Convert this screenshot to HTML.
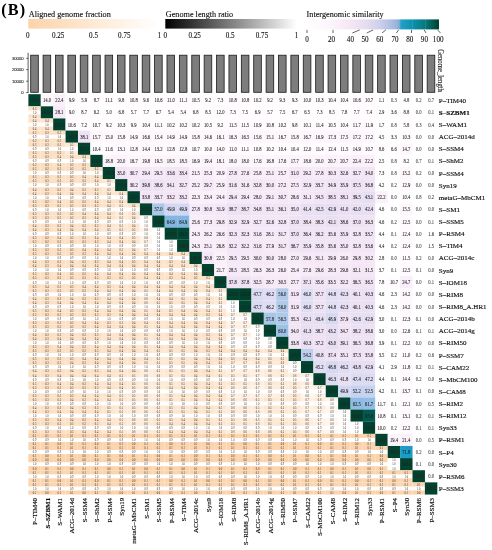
<!DOCTYPE html>
<html lang="en"><head><meta charset="utf-8"><title>VIRIDIC heatmap (B)</title>
<style>html,body{margin:0;padding:0;background:#fff}body{width:492px;height:550px;overflow:hidden}svg{display:block}text{font-family:"Liberation Serif","Times New Roman",serif;fill:#222}.u{font-size:5.3px;text-anchor:middle;stroke-width:0.08px}.l{font-size:3.25px;text-anchor:middle;fill:#333}.rl{font-size:6.95px;fill:#111;stroke:#111;stroke-width:0.15px}.ax{font-family:"Liberation Sans",Arial,sans-serif;font-size:4.2px;text-anchor:end;fill:#1a1a1a;stroke:#1a1a1a;stroke-width:0.08px}.lg{font-size:7.75px;fill:#111;stroke:#111;stroke-width:0.12px}.tk{font-size:7.4px;text-anchor:middle;fill:#111;stroke:#111;stroke-width:0.1px}</style></head><body>
<svg width="492" height="550" viewBox="0 0 492 550">
<defs>
<linearGradient id="gaf" x1="0" x2="1" y1="0" y2="0"><stop offset="0" stop-color="#fcd3aa"/><stop offset="0.97" stop-color="#ffffff"/><stop offset="1" stop-color="#ffffff"/></linearGradient>
<linearGradient id="glr" x1="0" x2="1" y1="0" y2="0"><stop offset="0" stop-color="#000000"/><stop offset="1" stop-color="#ffffff"/></linearGradient>
<linearGradient id="gsim" x1="0" x2="1" y1="0" y2="0"><stop offset="0.0000" stop-color="#ffffff"/><stop offset="0.2000" stop-color="#fcf3fb"/><stop offset="0.3500" stop-color="#f4e4f5"/><stop offset="0.4500" stop-color="#e6dcf0"/><stop offset="0.5500" stop-color="#cdd0ec"/><stop offset="0.6200" stop-color="#b4c3e4"/><stop offset="0.6900" stop-color="#96b0d8"/><stop offset="0.7150" stop-color="#24a0c8"/><stop offset="0.8000" stop-color="#0c91af"/><stop offset="0.9000" stop-color="#047878"/><stop offset="1.0000" stop-color="#003e2a"/></linearGradient>
</defs>
<rect width="492" height="550" fill="#ffffff"/>
<text x="1.3" y="14.5" style="font-size:16.2px;font-weight:bold;fill:#000;letter-spacing:1.1px">(B)</text>
<text class="lg" transform="translate(28.8,16.9) scale(1.06,1)">Aligned genome fraction</text>
<rect x="28.3" y="19.0" width="134" height="9.6" fill="url(#gaf)"/>
<text class="tk" transform="translate(27.9,37.5) scale(0.96,1)">0</text>
<text class="tk" transform="translate(58.2,37.5) scale(0.96,1)">0.25</text>
<text class="tk" transform="translate(93.5,37.5) scale(0.96,1)">0.5</text>
<text class="tk" transform="translate(124.3,37.5) scale(0.96,1)">0.75</text>
<text class="tk" transform="translate(159.2,37.5) scale(0.96,1)">1</text>
<text class="lg" transform="translate(165.8,16.9) scale(1.06,1)">Genome length ratio</text>
<rect x="165.3" y="19.0" width="131.5" height="9.6" fill="url(#glr)"/>
<text class="tk" transform="translate(165.4,37.5) scale(0.96,1)">0</text>
<text class="tk" transform="translate(194.6,37.5) scale(0.96,1)">0.25</text>
<text class="tk" transform="translate(230.2,37.5) scale(0.96,1)">0.5</text>
<text class="tk" transform="translate(262.0,37.5) scale(0.96,1)">0.75</text>
<text class="tk" transform="translate(296.6,37.5) scale(0.96,1)">1</text>
<text class="lg" transform="translate(306.6,17.1) scale(1.06,1)">Intergenomic similarity</text>
<rect x="306.5" y="19.4" width="132.5" height="10" fill="url(#gsim)"/>
<path d="M307.0 29.9 L307.0 33.0" fill="none" stroke="#222" stroke-width="0.7"/>
<text class="tk" transform="translate(307.0,41.9) scale(0.96,1)">0</text>
<path d="M333.0 29.9 L333.0 33.0" fill="none" stroke="#222" stroke-width="0.7"/>
<text class="tk" transform="translate(331.5,41.9) scale(0.96,1)">20</text>
<path d="M359.7 29.9 L352.3 33.0" fill="none" stroke="#222" stroke-width="0.7"/>
<text class="tk" transform="translate(350.4,41.9) scale(0.96,1)">40</text>
<path d="M373.1 29.9 L366.8 33.0" fill="none" stroke="#222" stroke-width="0.7"/>
<text class="tk" transform="translate(365.1,41.9) scale(0.96,1)">50</text>
<path d="M385.9 29.9 L382.0 33.0" fill="none" stroke="#222" stroke-width="0.7"/>
<text class="tk" transform="translate(379.8,41.9) scale(0.96,1)">60</text>
<path d="M398.6 29.9 L396.4 33.0" fill="none" stroke="#222" stroke-width="0.7"/>
<text class="tk" transform="translate(395.0,41.9) scale(0.96,1)">70</text>
<path d="M411.6 29.9 L411.4 33.0" fill="none" stroke="#222" stroke-width="0.7"/>
<text class="tk" transform="translate(409.7,41.9) scale(0.96,1)">80</text>
<path d="M424.2 29.9 L426.0 33.0" fill="none" stroke="#222" stroke-width="0.7"/>
<text class="tk" transform="translate(424.4,41.9) scale(0.96,1)">90</text>
<path d="M437.6 29.9 L440.5 33.0" fill="none" stroke="#222" stroke-width="0.7"/>
<text class="tk" transform="translate(438.2,41.9) scale(0.96,1)">100</text>
<rect x="399.05" y="19.4" width="0.4" height="10" fill="#ffffff" opacity="0.25"/>
<rect x="412.30" y="19.4" width="0.4" height="10" fill="#ffffff" opacity="0.25"/>
<rect x="425.55" y="19.4" width="0.4" height="10" fill="#ffffff" opacity="0.25"/>
<g>
<path d="M28.1 52.8 V93.0" stroke="#333" stroke-width="0.8" fill="none"/>
<path d="M26.2 58.3 H28.1" stroke="#222" stroke-width="0.7"/>
<text class="ax" x="23.6" y="59.8">30000</text>
<path d="M26.2 69.6 H28.1" stroke="#222" stroke-width="0.7"/>
<text class="ax" x="23.6" y="71.1">20000</text>
<path d="M26.2 81.2 H28.1" stroke="#222" stroke-width="0.7"/>
<text class="ax" x="23.6" y="82.7">10000</text>
<path d="M26.2 92.6 H28.1" stroke="#222" stroke-width="0.7"/>
<text class="ax" x="23.6" y="94.1">0</text>
<rect x="30.70" y="55.2" width="7.6" height="37.1" fill="#7d7d7d" stroke="#1a1a1a" stroke-width="0.8"/>
<rect x="43.09" y="55.2" width="7.6" height="37.1" fill="#7d7d7d" stroke="#1a1a1a" stroke-width="0.8"/>
<rect x="55.48" y="55.2" width="7.6" height="37.1" fill="#7d7d7d" stroke="#1a1a1a" stroke-width="0.8"/>
<rect x="67.86" y="55.2" width="7.6" height="37.1" fill="#7d7d7d" stroke="#1a1a1a" stroke-width="0.8"/>
<rect x="80.25" y="55.2" width="7.6" height="37.1" fill="#7d7d7d" stroke="#1a1a1a" stroke-width="0.8"/>
<rect x="92.65" y="55.2" width="7.6" height="37.1" fill="#7d7d7d" stroke="#1a1a1a" stroke-width="0.8"/>
<rect x="105.03" y="55.2" width="7.6" height="37.1" fill="#7d7d7d" stroke="#1a1a1a" stroke-width="0.8"/>
<rect x="117.43" y="55.2" width="7.6" height="37.1" fill="#7d7d7d" stroke="#1a1a1a" stroke-width="0.8"/>
<rect x="129.81" y="55.2" width="7.6" height="37.1" fill="#7d7d7d" stroke="#1a1a1a" stroke-width="0.8"/>
<rect x="142.21" y="55.2" width="7.6" height="37.1" fill="#7d7d7d" stroke="#1a1a1a" stroke-width="0.8"/>
<rect x="154.59" y="55.2" width="7.6" height="37.1" fill="#7d7d7d" stroke="#1a1a1a" stroke-width="0.8"/>
<rect x="166.99" y="55.2" width="7.6" height="37.1" fill="#7d7d7d" stroke="#1a1a1a" stroke-width="0.8"/>
<rect x="179.38" y="55.2" width="7.6" height="37.1" fill="#7d7d7d" stroke="#1a1a1a" stroke-width="0.8"/>
<rect x="191.77" y="55.2" width="7.6" height="37.1" fill="#7d7d7d" stroke="#1a1a1a" stroke-width="0.8"/>
<rect x="204.16" y="55.2" width="7.6" height="37.1" fill="#7d7d7d" stroke="#1a1a1a" stroke-width="0.8"/>
<rect x="216.55" y="55.2" width="7.6" height="37.1" fill="#7d7d7d" stroke="#1a1a1a" stroke-width="0.8"/>
<rect x="228.94" y="55.2" width="7.6" height="37.1" fill="#7d7d7d" stroke="#1a1a1a" stroke-width="0.8"/>
<rect x="241.33" y="55.2" width="7.6" height="37.1" fill="#7d7d7d" stroke="#1a1a1a" stroke-width="0.8"/>
<rect x="253.72" y="55.2" width="7.6" height="37.1" fill="#7d7d7d" stroke="#1a1a1a" stroke-width="0.8"/>
<rect x="266.11" y="55.2" width="7.6" height="37.1" fill="#7d7d7d" stroke="#1a1a1a" stroke-width="0.8"/>
<rect x="278.50" y="55.2" width="7.6" height="37.1" fill="#7d7d7d" stroke="#1a1a1a" stroke-width="0.8"/>
<rect x="290.88" y="55.2" width="7.6" height="37.1" fill="#7d7d7d" stroke="#1a1a1a" stroke-width="0.8"/>
<rect x="303.28" y="55.2" width="7.6" height="37.1" fill="#7d7d7d" stroke="#1a1a1a" stroke-width="0.8"/>
<rect x="315.67" y="55.2" width="7.6" height="37.1" fill="#7d7d7d" stroke="#1a1a1a" stroke-width="0.8"/>
<rect x="328.06" y="55.2" width="7.6" height="37.1" fill="#7d7d7d" stroke="#1a1a1a" stroke-width="0.8"/>
<rect x="340.44" y="55.2" width="7.6" height="37.1" fill="#7d7d7d" stroke="#1a1a1a" stroke-width="0.8"/>
<rect x="352.84" y="55.2" width="7.6" height="37.1" fill="#7d7d7d" stroke="#1a1a1a" stroke-width="0.8"/>
<rect x="365.23" y="55.2" width="7.6" height="37.1" fill="#7d7d7d" stroke="#1a1a1a" stroke-width="0.8"/>
<rect x="377.62" y="55.2" width="7.6" height="37.1" fill="#7d7d7d" stroke="#1a1a1a" stroke-width="0.8"/>
<rect x="390.00" y="55.2" width="7.6" height="37.1" fill="#7d7d7d" stroke="#1a1a1a" stroke-width="0.8"/>
<rect x="402.40" y="55.2" width="7.6" height="37.1" fill="#7d7d7d" stroke="#1a1a1a" stroke-width="0.8"/>
<rect x="414.79" y="55.2" width="7.6" height="37.1" fill="#7d7d7d" stroke="#1a1a1a" stroke-width="0.8"/>
<rect x="427.18" y="55.2" width="7.6" height="37.1" fill="#7d7d7d" stroke="#1a1a1a" stroke-width="0.8"/>
</g>
<text transform="translate(438.3,49.2) scale(1.1,1) rotate(90)" style="font-size:6.7px;stroke:#222;stroke-width:0.1px">Genome_length</text>
<g shape-rendering="auto">
<rect x="28.40" y="94.20" width="12.44" height="12.18" fill="#00432f"/>
<rect x="40.79" y="94.20" width="12.44" height="12.18" fill="#fef8fd"/>
<rect x="53.18" y="94.20" width="12.44" height="12.18" fill="#fbf0fa"/>
<rect x="65.57" y="94.20" width="12.44" height="12.18" fill="#fffcfe"/>
<rect x="77.96" y="94.20" width="12.44" height="12.18" fill="#fffdfe"/>
<rect x="90.35" y="94.20" width="12.44" height="12.18" fill="#fffcfe"/>
<rect x="102.74" y="94.20" width="12.44" height="12.18" fill="#fffbfe"/>
<rect x="115.13" y="94.20" width="12.44" height="12.18" fill="#fffcfe"/>
<rect x="127.52" y="94.20" width="12.44" height="12.18" fill="#fffbfe"/>
<rect x="139.91" y="94.20" width="12.44" height="12.18" fill="#fffcfe"/>
<rect x="152.30" y="94.20" width="12.44" height="12.18" fill="#fffbfe"/>
<rect x="164.69" y="94.20" width="12.44" height="12.18" fill="#fffbfe"/>
<rect x="177.08" y="94.20" width="12.44" height="12.18" fill="#fffbfe"/>
<rect x="189.47" y="94.20" width="12.44" height="12.18" fill="#fffcfe"/>
<rect x="201.86" y="94.20" width="12.44" height="12.18" fill="#fffcfe"/>
<rect x="214.25" y="94.20" width="12.44" height="12.18" fill="#fffdfe"/>
<rect x="226.64" y="94.20" width="12.44" height="12.18" fill="#fffbfe"/>
<rect x="239.03" y="94.20" width="12.44" height="12.18" fill="#fffbfe"/>
<rect x="251.42" y="94.20" width="12.44" height="12.18" fill="#fffcfe"/>
<rect x="263.81" y="94.20" width="12.44" height="12.18" fill="#fffcfe"/>
<rect x="276.20" y="94.20" width="12.44" height="12.18" fill="#fffcfe"/>
<rect x="288.59" y="94.20" width="12.44" height="12.18" fill="#fffcfe"/>
<rect x="300.98" y="94.20" width="12.44" height="12.18" fill="#fffcfe"/>
<rect x="313.37" y="94.20" width="12.44" height="12.18" fill="#fffcfe"/>
<rect x="325.76" y="94.20" width="12.44" height="12.18" fill="#fffcfe"/>
<rect x="338.15" y="94.20" width="12.44" height="12.18" fill="#fffcfe"/>
<rect x="350.54" y="94.20" width="12.44" height="12.18" fill="#fffbfe"/>
<rect x="362.93" y="94.20" width="12.44" height="12.18" fill="#fffbfe"/>
<rect x="400.10" y="94.20" width="12.44" height="12.18" fill="#fffeff"/>
<rect x="28.35" y="106.33" width="12.29" height="4.09" fill="#fce1c6"/>
<rect x="28.35" y="114.42" width="12.29" height="4.09" fill="#fce2c8"/>
<rect x="40.79" y="106.33" width="12.44" height="12.18" fill="#00432f"/>
<rect x="53.18" y="106.33" width="12.44" height="12.18" fill="#f7eaf8"/>
<rect x="65.57" y="106.33" width="12.44" height="12.18" fill="#fffcfe"/>
<rect x="77.96" y="106.33" width="12.44" height="12.18" fill="#fffcfe"/>
<rect x="90.35" y="106.33" width="12.44" height="12.18" fill="#fffdfe"/>
<rect x="102.74" y="106.33" width="12.44" height="12.18" fill="#fffefe"/>
<rect x="115.13" y="106.33" width="12.44" height="12.18" fill="#fffdfe"/>
<rect x="127.52" y="106.33" width="12.44" height="12.18" fill="#fffdfe"/>
<rect x="139.91" y="106.33" width="12.44" height="12.18" fill="#fffdfe"/>
<rect x="152.30" y="106.33" width="12.44" height="12.18" fill="#fffdfe"/>
<rect x="164.69" y="106.33" width="12.44" height="12.18" fill="#fffdfe"/>
<rect x="177.08" y="106.33" width="12.44" height="12.18" fill="#fffdfe"/>
<rect x="189.47" y="106.33" width="12.44" height="12.18" fill="#fffdfe"/>
<rect x="201.86" y="106.33" width="12.44" height="12.18" fill="#fffcfe"/>
<rect x="214.25" y="106.33" width="12.44" height="12.18" fill="#fefafd"/>
<rect x="226.64" y="106.33" width="12.44" height="12.18" fill="#fffdfe"/>
<rect x="239.03" y="106.33" width="12.44" height="12.18" fill="#fffdfe"/>
<rect x="251.42" y="106.33" width="12.44" height="12.18" fill="#fffdfe"/>
<rect x="263.81" y="106.33" width="12.44" height="12.18" fill="#fffdfe"/>
<rect x="276.20" y="106.33" width="12.44" height="12.18" fill="#fffdfe"/>
<rect x="288.59" y="106.33" width="12.44" height="12.18" fill="#fffdfe"/>
<rect x="300.98" y="106.33" width="12.44" height="12.18" fill="#fffdfe"/>
<rect x="313.37" y="106.33" width="12.44" height="12.18" fill="#fffdfe"/>
<rect x="325.76" y="106.33" width="12.44" height="12.18" fill="#fffcfe"/>
<rect x="338.15" y="106.33" width="12.44" height="12.18" fill="#fffdfe"/>
<rect x="350.54" y="106.33" width="12.44" height="12.18" fill="#fffdfe"/>
<rect x="362.93" y="106.33" width="12.44" height="12.18" fill="#fffdfe"/>
<rect x="375.32" y="106.33" width="12.44" height="12.18" fill="#fffeff"/>
<rect x="387.71" y="106.33" width="12.44" height="12.18" fill="#fffeff"/>
<rect x="400.10" y="106.33" width="12.44" height="12.18" fill="#fffcfe"/>
<rect x="28.35" y="118.46" width="12.29" height="4.09" fill="#fde3cb"/>
<rect x="28.35" y="126.55" width="12.29" height="4.09" fill="#fce2c8"/>
<rect x="40.74" y="118.46" width="12.29" height="4.09" fill="#fde4cc"/>
<rect x="40.74" y="126.55" width="12.29" height="4.09" fill="#fce1c7"/>
<rect x="53.18" y="118.46" width="12.44" height="12.18" fill="#00432f"/>
<rect x="65.57" y="118.46" width="12.44" height="12.18" fill="#fffbfe"/>
<rect x="77.96" y="118.46" width="12.44" height="12.18" fill="#fffdfe"/>
<rect x="90.35" y="118.46" width="12.44" height="12.18" fill="#fffbfe"/>
<rect x="102.74" y="118.46" width="12.44" height="12.18" fill="#fffcfe"/>
<rect x="115.13" y="118.46" width="12.44" height="12.18" fill="#fffcfe"/>
<rect x="127.52" y="118.46" width="12.44" height="12.18" fill="#fffcfe"/>
<rect x="139.91" y="118.46" width="12.44" height="12.18" fill="#fffcfe"/>
<rect x="152.30" y="118.46" width="12.44" height="12.18" fill="#fffbfe"/>
<rect x="164.69" y="118.46" width="12.44" height="12.18" fill="#fffcfe"/>
<rect x="177.08" y="118.46" width="12.44" height="12.18" fill="#fffcfe"/>
<rect x="189.47" y="118.46" width="12.44" height="12.18" fill="#fffcfe"/>
<rect x="201.86" y="118.46" width="12.44" height="12.18" fill="#fffcfe"/>
<rect x="214.25" y="118.46" width="12.44" height="12.18" fill="#fffcfe"/>
<rect x="226.64" y="118.46" width="12.44" height="12.18" fill="#fffbfe"/>
<rect x="239.03" y="118.46" width="12.44" height="12.18" fill="#fffbfe"/>
<rect x="251.42" y="118.46" width="12.44" height="12.18" fill="#fffbfe"/>
<rect x="263.81" y="118.46" width="12.44" height="12.18" fill="#fffbfe"/>
<rect x="276.20" y="118.46" width="12.44" height="12.18" fill="#fffcfe"/>
<rect x="288.59" y="118.46" width="12.44" height="12.18" fill="#fffcfe"/>
<rect x="300.98" y="118.46" width="12.44" height="12.18" fill="#fffcfe"/>
<rect x="313.37" y="118.46" width="12.44" height="12.18" fill="#fffbfe"/>
<rect x="325.76" y="118.46" width="12.44" height="12.18" fill="#fffcfe"/>
<rect x="338.15" y="118.46" width="12.44" height="12.18" fill="#fffcfe"/>
<rect x="350.54" y="118.46" width="12.44" height="12.18" fill="#fefafd"/>
<rect x="362.93" y="118.46" width="12.44" height="12.18" fill="#fefafd"/>
<rect x="375.32" y="118.46" width="12.44" height="12.18" fill="#fffeff"/>
<rect x="400.10" y="118.46" width="12.44" height="12.18" fill="#fffdfe"/>
<rect x="28.35" y="130.59" width="12.29" height="4.09" fill="#fcdfc2"/>
<rect x="28.35" y="138.68" width="12.29" height="4.09" fill="#fcdfc2"/>
<rect x="40.74" y="130.59" width="12.29" height="4.09" fill="#fcdec1"/>
<rect x="40.74" y="138.68" width="12.29" height="4.09" fill="#fce1c6"/>
<rect x="53.13" y="130.59" width="12.29" height="4.09" fill="#fcdfc2"/>
<rect x="53.13" y="138.68" width="12.29" height="4.09" fill="#fce0c5"/>
<rect x="65.57" y="130.59" width="12.44" height="12.18" fill="#00432f"/>
<rect x="77.96" y="130.59" width="12.44" height="12.18" fill="#eee2f4"/>
<rect x="90.35" y="130.59" width="12.44" height="12.18" fill="#fdf7fc"/>
<rect x="102.74" y="130.59" width="12.44" height="12.18" fill="#fef8fc"/>
<rect x="115.13" y="130.59" width="12.44" height="12.18" fill="#fdf7fc"/>
<rect x="127.52" y="130.59" width="12.44" height="12.18" fill="#fef8fd"/>
<rect x="139.91" y="130.59" width="12.44" height="12.18" fill="#fdf6fc"/>
<rect x="152.30" y="130.59" width="12.44" height="12.18" fill="#fdf7fc"/>
<rect x="164.69" y="130.59" width="12.44" height="12.18" fill="#fef8fd"/>
<rect x="177.08" y="130.59" width="12.44" height="12.18" fill="#fef8fd"/>
<rect x="189.47" y="130.59" width="12.44" height="12.18" fill="#fdf7fc"/>
<rect x="201.86" y="130.59" width="12.44" height="12.18" fill="#fef8fd"/>
<rect x="214.25" y="130.59" width="12.44" height="12.18" fill="#fdf7fc"/>
<rect x="226.64" y="130.59" width="12.44" height="12.18" fill="#fdf6fc"/>
<rect x="239.03" y="130.59" width="12.44" height="12.18" fill="#fdf6fc"/>
<rect x="251.42" y="130.59" width="12.44" height="12.18" fill="#fdf7fc"/>
<rect x="263.81" y="130.59" width="12.44" height="12.18" fill="#fdf7fc"/>
<rect x="276.20" y="130.59" width="12.44" height="12.18" fill="#fdf6fc"/>
<rect x="288.59" y="130.59" width="12.44" height="12.18" fill="#fdf7fc"/>
<rect x="300.98" y="130.59" width="12.44" height="12.18" fill="#fdf6fc"/>
<rect x="313.37" y="130.59" width="12.44" height="12.18" fill="#fdf6fc"/>
<rect x="325.76" y="130.59" width="12.44" height="12.18" fill="#fdf5fc"/>
<rect x="338.15" y="130.59" width="12.44" height="12.18" fill="#fdf5fc"/>
<rect x="350.54" y="130.59" width="12.44" height="12.18" fill="#fdf6fc"/>
<rect x="362.93" y="130.59" width="12.44" height="12.18" fill="#fdf6fc"/>
<rect x="375.32" y="130.59" width="12.44" height="12.18" fill="#fffeff"/>
<rect x="387.71" y="130.59" width="12.44" height="12.18" fill="#fffeff"/>
<rect x="400.10" y="130.59" width="12.44" height="12.18" fill="#fffcfe"/>
<rect x="28.35" y="142.72" width="12.29" height="4.09" fill="#fcdec0"/>
<rect x="28.35" y="150.81" width="12.29" height="4.09" fill="#fcdfc3"/>
<rect x="40.74" y="142.72" width="12.29" height="4.09" fill="#fcdfc3"/>
<rect x="40.74" y="150.81" width="12.29" height="4.09" fill="#fcdfc3"/>
<rect x="53.13" y="142.72" width="12.29" height="4.09" fill="#fcdfc2"/>
<rect x="53.13" y="150.81" width="12.29" height="4.09" fill="#fcddbf"/>
<rect x="65.52" y="142.72" width="12.29" height="4.09" fill="#fde9d5"/>
<rect x="65.52" y="150.81" width="12.29" height="4.09" fill="#fdead8"/>
<rect x="77.96" y="142.72" width="12.44" height="12.18" fill="#00432f"/>
<rect x="90.35" y="142.72" width="12.44" height="12.18" fill="#fffcfe"/>
<rect x="102.74" y="142.72" width="12.44" height="12.18" fill="#fffbfe"/>
<rect x="115.13" y="142.72" width="12.44" height="12.18" fill="#fef9fd"/>
<rect x="127.52" y="142.72" width="12.44" height="12.18" fill="#fef9fd"/>
<rect x="139.91" y="142.72" width="12.44" height="12.18" fill="#fef8fd"/>
<rect x="152.30" y="142.72" width="12.44" height="12.18" fill="#fef9fd"/>
<rect x="164.69" y="142.72" width="12.44" height="12.18" fill="#fef9fd"/>
<rect x="177.08" y="142.72" width="12.44" height="12.18" fill="#fef9fd"/>
<rect x="189.47" y="142.72" width="12.44" height="12.18" fill="#fffbfe"/>
<rect x="201.86" y="142.72" width="12.44" height="12.18" fill="#fffcfe"/>
<rect x="214.25" y="142.72" width="12.44" height="12.18" fill="#fef8fd"/>
<rect x="226.64" y="142.72" width="12.44" height="12.18" fill="#fffbfe"/>
<rect x="239.03" y="142.72" width="12.44" height="12.18" fill="#fffbfe"/>
<rect x="251.42" y="142.72" width="12.44" height="12.18" fill="#fffbfe"/>
<rect x="263.81" y="142.72" width="12.44" height="12.18" fill="#fffcfe"/>
<rect x="276.20" y="142.72" width="12.44" height="12.18" fill="#fffcfe"/>
<rect x="288.59" y="142.72" width="12.44" height="12.18" fill="#fffcfe"/>
<rect x="300.98" y="142.72" width="12.44" height="12.18" fill="#fefafd"/>
<rect x="313.37" y="142.72" width="12.44" height="12.18" fill="#fffbfe"/>
<rect x="325.76" y="142.72" width="12.44" height="12.18" fill="#fefafd"/>
<rect x="338.15" y="142.72" width="12.44" height="12.18" fill="#fffbfe"/>
<rect x="350.54" y="142.72" width="12.44" height="12.18" fill="#fef8fd"/>
<rect x="362.93" y="142.72" width="12.44" height="12.18" fill="#fffbfe"/>
<rect x="375.32" y="142.72" width="12.44" height="12.18" fill="#fffcfe"/>
<rect x="387.71" y="142.72" width="12.44" height="12.18" fill="#fffdfe"/>
<rect x="400.10" y="142.72" width="12.44" height="12.18" fill="#fef8fd"/>
<rect x="28.35" y="154.85" width="12.29" height="4.09" fill="#fce1c6"/>
<rect x="28.35" y="162.94" width="12.29" height="4.09" fill="#fcdfc3"/>
<rect x="40.74" y="154.85" width="12.29" height="4.09" fill="#fcdfc3"/>
<rect x="40.74" y="162.94" width="12.29" height="4.09" fill="#fcddbe"/>
<rect x="53.13" y="154.85" width="12.29" height="4.09" fill="#fce2c8"/>
<rect x="53.13" y="162.94" width="12.29" height="4.09" fill="#fce2c8"/>
<rect x="65.52" y="154.85" width="12.29" height="4.09" fill="#fde2c9"/>
<rect x="65.52" y="162.94" width="12.29" height="4.09" fill="#fce1c6"/>
<rect x="77.91" y="154.85" width="12.29" height="4.09" fill="#fce2c7"/>
<rect x="77.91" y="162.94" width="12.29" height="4.09" fill="#fcdfc2"/>
<rect x="90.35" y="154.85" width="12.44" height="12.18" fill="#00432f"/>
<rect x="102.74" y="154.85" width="12.44" height="12.18" fill="#fcf4fb"/>
<rect x="115.13" y="154.85" width="12.44" height="12.18" fill="#fcf3fb"/>
<rect x="127.52" y="154.85" width="12.44" height="12.18" fill="#fdf6fc"/>
<rect x="139.91" y="154.85" width="12.44" height="12.18" fill="#fcf3fb"/>
<rect x="152.30" y="154.85" width="12.44" height="12.18" fill="#fcf3fb"/>
<rect x="164.69" y="154.85" width="12.44" height="12.18" fill="#fcf4fb"/>
<rect x="177.08" y="154.85" width="12.44" height="12.18" fill="#fcf4fb"/>
<rect x="189.47" y="154.85" width="12.44" height="12.18" fill="#fdf6fc"/>
<rect x="201.86" y="154.85" width="12.44" height="12.18" fill="#fcf4fb"/>
<rect x="214.25" y="154.85" width="12.44" height="12.18" fill="#fdf5fc"/>
<rect x="226.64" y="154.85" width="12.44" height="12.18" fill="#fdf5fc"/>
<rect x="239.03" y="154.85" width="12.44" height="12.18" fill="#fdf5fc"/>
<rect x="251.42" y="154.85" width="12.44" height="12.18" fill="#fdf5fc"/>
<rect x="263.81" y="154.85" width="12.44" height="12.18" fill="#fdf6fc"/>
<rect x="276.20" y="154.85" width="12.44" height="12.18" fill="#fdf5fc"/>
<rect x="288.59" y="154.85" width="12.44" height="12.18" fill="#fdf5fc"/>
<rect x="300.98" y="154.85" width="12.44" height="12.18" fill="#fcf4fb"/>
<rect x="313.37" y="154.85" width="12.44" height="12.18" fill="#fcf3fb"/>
<rect x="325.76" y="154.85" width="12.44" height="12.18" fill="#fcf2fb"/>
<rect x="338.15" y="154.85" width="12.44" height="12.18" fill="#fcf2fb"/>
<rect x="350.54" y="154.85" width="12.44" height="12.18" fill="#fbf0fa"/>
<rect x="362.93" y="154.85" width="12.44" height="12.18" fill="#fbf1fa"/>
<rect x="375.32" y="154.85" width="12.44" height="12.18" fill="#fffeff"/>
<rect x="400.10" y="154.85" width="12.44" height="12.18" fill="#fffdfe"/>
<rect x="28.35" y="166.98" width="12.29" height="4.09" fill="#fcdfc2"/>
<rect x="28.35" y="175.07" width="12.29" height="4.09" fill="#fcdfc2"/>
<rect x="40.74" y="166.98" width="12.29" height="4.09" fill="#fcdcbd"/>
<rect x="40.74" y="175.07" width="12.29" height="4.09" fill="#fcdfc2"/>
<rect x="53.13" y="166.98" width="12.29" height="4.09" fill="#fcdec1"/>
<rect x="53.13" y="175.07" width="12.29" height="4.09" fill="#fce0c4"/>
<rect x="65.52" y="166.98" width="12.29" height="4.09" fill="#fcdfc3"/>
<rect x="65.52" y="175.07" width="12.29" height="4.09" fill="#fcdfc3"/>
<rect x="77.91" y="166.98" width="12.29" height="4.09" fill="#fcdfc3"/>
<rect x="77.91" y="175.07" width="12.29" height="4.09" fill="#fce2c8"/>
<rect x="90.30" y="166.98" width="12.29" height="4.09" fill="#fce0c4"/>
<rect x="90.30" y="175.07" width="12.29" height="4.09" fill="#fce1c7"/>
<rect x="102.74" y="166.98" width="12.44" height="12.18" fill="#00432f"/>
<rect x="115.13" y="166.98" width="12.44" height="12.18" fill="#f1e4f5"/>
<rect x="127.52" y="166.98" width="12.44" height="12.18" fill="#f5e7f7"/>
<rect x="139.91" y="166.98" width="12.44" height="12.18" fill="#f6e9f7"/>
<rect x="152.30" y="166.98" width="12.44" height="12.18" fill="#f6e9f7"/>
<rect x="164.69" y="166.98" width="12.44" height="12.18" fill="#f2e5f6"/>
<rect x="177.08" y="166.98" width="12.44" height="12.18" fill="#f3e5f6"/>
<rect x="189.47" y="166.98" width="12.44" height="12.18" fill="#fbf1fa"/>
<rect x="201.86" y="166.98" width="12.44" height="12.18" fill="#f9edf9"/>
<rect x="214.25" y="166.98" width="12.44" height="12.18" fill="#fbf2fb"/>
<rect x="226.64" y="166.98" width="12.44" height="12.18" fill="#f7eaf8"/>
<rect x="239.03" y="166.98" width="12.44" height="12.18" fill="#f7ebf8"/>
<rect x="251.42" y="166.98" width="12.44" height="12.18" fill="#f9edf9"/>
<rect x="263.81" y="166.98" width="12.44" height="12.18" fill="#f9edf9"/>
<rect x="276.20" y="166.98" width="12.44" height="12.18" fill="#f9edf9"/>
<rect x="288.59" y="166.98" width="12.44" height="12.18" fill="#f5e7f7"/>
<rect x="300.98" y="166.98" width="12.44" height="12.18" fill="#f6e9f7"/>
<rect x="313.37" y="166.98" width="12.44" height="12.18" fill="#f7eaf8"/>
<rect x="325.76" y="166.98" width="12.44" height="12.18" fill="#f6e8f7"/>
<rect x="338.15" y="166.98" width="12.44" height="12.18" fill="#f3e6f6"/>
<rect x="350.54" y="166.98" width="12.44" height="12.18" fill="#f3e6f6"/>
<rect x="362.93" y="166.98" width="12.44" height="12.18" fill="#f2e5f5"/>
<rect x="375.32" y="166.98" width="12.44" height="12.18" fill="#fffdfe"/>
<rect x="400.10" y="166.98" width="12.44" height="12.18" fill="#fdf7fc"/>
<rect x="28.35" y="179.11" width="12.29" height="4.09" fill="#fce0c5"/>
<rect x="28.35" y="187.20" width="12.29" height="4.09" fill="#fce1c7"/>
<rect x="40.74" y="179.11" width="12.29" height="4.09" fill="#fcdec1"/>
<rect x="40.74" y="187.20" width="12.29" height="4.09" fill="#fcdec1"/>
<rect x="53.13" y="179.11" width="12.29" height="4.09" fill="#fce0c5"/>
<rect x="53.13" y="187.20" width="12.29" height="4.09" fill="#fcdfc2"/>
<rect x="65.52" y="179.11" width="12.29" height="4.09" fill="#fce1c6"/>
<rect x="65.52" y="187.20" width="12.29" height="4.09" fill="#fde2c9"/>
<rect x="77.91" y="179.11" width="12.29" height="4.09" fill="#fce1c6"/>
<rect x="77.91" y="187.20" width="12.29" height="4.09" fill="#fce1c6"/>
<rect x="90.30" y="179.11" width="12.29" height="4.09" fill="#fce2c7"/>
<rect x="90.30" y="187.20" width="12.29" height="4.09" fill="#fce0c5"/>
<rect x="102.69" y="179.11" width="12.29" height="4.09" fill="#fde7d1"/>
<rect x="102.69" y="187.20" width="12.29" height="4.09" fill="#fde8d4"/>
<rect x="115.13" y="179.11" width="12.44" height="12.18" fill="#00432f"/>
<rect x="127.52" y="179.11" width="12.44" height="12.18" fill="#f6e8f7"/>
<rect x="139.91" y="179.11" width="12.44" height="12.18" fill="#ece0f3"/>
<rect x="152.30" y="179.11" width="12.44" height="12.18" fill="#ede1f4"/>
<rect x="164.69" y="179.11" width="12.44" height="12.18" fill="#f2e5f5"/>
<rect x="177.08" y="179.11" width="12.44" height="12.18" fill="#f3e6f6"/>
<rect x="189.47" y="179.11" width="12.44" height="12.18" fill="#f9edf9"/>
<rect x="201.86" y="179.11" width="12.44" height="12.18" fill="#f6e8f7"/>
<rect x="214.25" y="179.11" width="12.44" height="12.18" fill="#f8edf9"/>
<rect x="226.64" y="179.11" width="12.44" height="12.18" fill="#f4e7f6"/>
<rect x="239.03" y="179.11" width="12.44" height="12.18" fill="#f4e7f6"/>
<rect x="251.42" y="179.11" width="12.44" height="12.18" fill="#f3e6f6"/>
<rect x="263.81" y="179.11" width="12.44" height="12.18" fill="#f6e8f7"/>
<rect x="276.20" y="179.11" width="12.44" height="12.18" fill="#f8ebf8"/>
<rect x="288.59" y="179.11" width="12.44" height="12.18" fill="#f8ebf8"/>
<rect x="300.98" y="179.11" width="12.44" height="12.18" fill="#f3e6f6"/>
<rect x="313.37" y="179.11" width="12.44" height="12.18" fill="#f2e5f6"/>
<rect x="325.76" y="179.11" width="12.44" height="12.18" fill="#f1e4f5"/>
<rect x="338.15" y="179.11" width="12.44" height="12.18" fill="#f0e3f5"/>
<rect x="350.54" y="179.11" width="12.44" height="12.18" fill="#eee2f4"/>
<rect x="362.93" y="179.11" width="12.44" height="12.18" fill="#efe3f4"/>
<rect x="375.32" y="179.11" width="12.44" height="12.18" fill="#fffeff"/>
<rect x="400.10" y="179.11" width="12.44" height="12.18" fill="#fef9fd"/>
<rect x="28.35" y="191.24" width="12.29" height="4.09" fill="#fce2c8"/>
<rect x="28.35" y="199.33" width="12.29" height="4.09" fill="#fce0c5"/>
<rect x="40.74" y="191.24" width="12.29" height="4.09" fill="#fcdfc3"/>
<rect x="40.74" y="199.33" width="12.29" height="4.09" fill="#fcdcbe"/>
<rect x="53.13" y="191.24" width="12.29" height="4.09" fill="#fce2c7"/>
<rect x="53.13" y="199.33" width="12.29" height="4.09" fill="#fce2c7"/>
<rect x="65.52" y="191.24" width="12.29" height="4.09" fill="#fce2c9"/>
<rect x="65.52" y="199.33" width="12.29" height="4.09" fill="#fce1c6"/>
<rect x="77.91" y="191.24" width="12.29" height="4.09" fill="#fce2c8"/>
<rect x="77.91" y="199.33" width="12.29" height="4.09" fill="#fcdfc3"/>
<rect x="90.30" y="191.24" width="12.29" height="4.09" fill="#fde2c9"/>
<rect x="90.30" y="199.33" width="12.29" height="4.09" fill="#fde2c9"/>
<rect x="102.69" y="191.24" width="12.29" height="4.09" fill="#fde5ce"/>
<rect x="102.69" y="199.33" width="12.29" height="4.09" fill="#fde3cb"/>
<rect x="115.08" y="191.24" width="12.29" height="4.09" fill="#fde4cd"/>
<rect x="115.08" y="199.33" width="12.29" height="4.09" fill="#fce2c8"/>
<rect x="127.52" y="191.24" width="12.44" height="12.18" fill="#00432f"/>
<rect x="139.91" y="191.24" width="12.44" height="12.18" fill="#f2e5f5"/>
<rect x="152.30" y="191.24" width="12.44" height="12.18" fill="#f2e5f6"/>
<rect x="164.69" y="191.24" width="12.44" height="12.18" fill="#f3e5f6"/>
<rect x="177.08" y="191.24" width="12.44" height="12.18" fill="#f3e5f6"/>
<rect x="189.47" y="191.24" width="12.44" height="12.18" fill="#fbf0fa"/>
<rect x="201.86" y="191.24" width="12.44" height="12.18" fill="#faeffa"/>
<rect x="214.25" y="191.24" width="12.44" height="12.18" fill="#f9eef9"/>
<rect x="226.64" y="191.24" width="12.44" height="12.18" fill="#f6e9f7"/>
<rect x="239.03" y="191.24" width="12.44" height="12.18" fill="#f6e9f7"/>
<rect x="251.42" y="191.24" width="12.44" height="12.18" fill="#f7eaf8"/>
<rect x="263.81" y="191.24" width="12.44" height="12.18" fill="#f7e9f7"/>
<rect x="276.20" y="191.24" width="12.44" height="12.18" fill="#f5e7f7"/>
<rect x="288.59" y="191.24" width="12.44" height="12.18" fill="#f7eaf8"/>
<rect x="300.98" y="191.24" width="12.44" height="12.18" fill="#f5e7f7"/>
<rect x="313.37" y="191.24" width="12.44" height="12.18" fill="#f2e4f5"/>
<rect x="325.76" y="191.24" width="12.44" height="12.18" fill="#eee1f4"/>
<rect x="338.15" y="191.24" width="12.44" height="12.18" fill="#eee2f4"/>
<rect x="350.54" y="191.24" width="12.44" height="12.18" fill="#ece0f3"/>
<rect x="362.93" y="191.24" width="12.44" height="12.18" fill="#e6dff3"/>
<rect x="375.32" y="191.24" width="12.44" height="12.18" fill="#fbf1fa"/>
<rect x="400.10" y="191.24" width="12.44" height="12.18" fill="#fffcfe"/>
<rect x="28.35" y="203.37" width="12.29" height="4.09" fill="#fcdfc2"/>
<rect x="28.35" y="211.46" width="12.29" height="4.09" fill="#fcdfc2"/>
<rect x="40.74" y="203.37" width="12.29" height="4.09" fill="#fcdec0"/>
<rect x="40.74" y="211.46" width="12.29" height="4.09" fill="#fce0c5"/>
<rect x="53.13" y="203.37" width="12.29" height="4.09" fill="#fcdfc2"/>
<rect x="53.13" y="211.46" width="12.29" height="4.09" fill="#fce0c5"/>
<rect x="65.52" y="203.37" width="12.29" height="4.09" fill="#fce0c4"/>
<rect x="65.52" y="211.46" width="12.29" height="4.09" fill="#fce0c4"/>
<rect x="77.91" y="203.37" width="12.29" height="4.09" fill="#fcdfc3"/>
<rect x="77.91" y="211.46" width="12.29" height="4.09" fill="#fce2c8"/>
<rect x="90.30" y="203.37" width="12.29" height="4.09" fill="#fce0c5"/>
<rect x="90.30" y="211.46" width="12.29" height="4.09" fill="#fce2c7"/>
<rect x="102.69" y="203.37" width="12.29" height="4.09" fill="#fce1c7"/>
<rect x="102.69" y="211.46" width="12.29" height="4.09" fill="#fce1c7"/>
<rect x="115.08" y="203.37" width="12.29" height="4.09" fill="#fde9d5"/>
<rect x="115.08" y="211.46" width="12.29" height="4.09" fill="#fdecda"/>
<rect x="127.47" y="203.37" width="12.29" height="4.09" fill="#fde4cd"/>
<rect x="127.47" y="211.46" width="12.29" height="4.09" fill="#fde6cf"/>
<rect x="139.91" y="203.37" width="12.44" height="12.18" fill="#00432f"/>
<rect x="152.30" y="203.37" width="12.44" height="12.18" fill="#acc8e9"/>
<rect x="164.69" y="203.37" width="12.44" height="12.18" fill="#d4d7f1"/>
<rect x="177.08" y="203.37" width="12.44" height="12.18" fill="#d4d7f1"/>
<rect x="189.47" y="203.37" width="12.44" height="12.18" fill="#f7eaf8"/>
<rect x="201.86" y="203.37" width="12.44" height="12.18" fill="#f5e7f7"/>
<rect x="214.25" y="203.37" width="12.44" height="12.18" fill="#f4e6f6"/>
<rect x="226.64" y="203.37" width="12.44" height="12.18" fill="#ede1f4"/>
<rect x="239.03" y="203.37" width="12.44" height="12.18" fill="#ede1f4"/>
<rect x="251.42" y="203.37" width="12.44" height="12.18" fill="#f1e4f5"/>
<rect x="263.81" y="203.37" width="12.44" height="12.18" fill="#f1e4f5"/>
<rect x="276.20" y="203.37" width="12.44" height="12.18" fill="#f0e3f5"/>
<rect x="288.59" y="203.37" width="12.44" height="12.18" fill="#f1e4f5"/>
<rect x="300.98" y="203.37" width="12.44" height="12.18" fill="#e9dff3"/>
<rect x="313.37" y="203.37" width="12.44" height="12.18" fill="#e7dff3"/>
<rect x="325.76" y="203.37" width="12.44" height="12.18" fill="#e6dff3"/>
<rect x="338.15" y="203.37" width="12.44" height="12.18" fill="#eae0f3"/>
<rect x="350.54" y="203.37" width="12.44" height="12.18" fill="#e8dff3"/>
<rect x="362.93" y="203.37" width="12.44" height="12.18" fill="#e7dff3"/>
<rect x="375.32" y="203.37" width="12.44" height="12.18" fill="#fffeff"/>
<rect x="400.10" y="203.37" width="12.44" height="12.18" fill="#fdf7fc"/>
<rect x="28.35" y="215.50" width="12.29" height="4.09" fill="#fce0c5"/>
<rect x="28.35" y="223.59" width="12.29" height="4.09" fill="#fce2c7"/>
<rect x="40.74" y="215.50" width="12.29" height="4.09" fill="#fcdec1"/>
<rect x="40.74" y="223.59" width="12.29" height="4.09" fill="#fcdec1"/>
<rect x="53.13" y="215.50" width="12.29" height="4.09" fill="#fce0c5"/>
<rect x="53.13" y="223.59" width="12.29" height="4.09" fill="#fcdfc2"/>
<rect x="65.52" y="215.50" width="12.29" height="4.09" fill="#fce1c6"/>
<rect x="65.52" y="223.59" width="12.29" height="4.09" fill="#fde2c9"/>
<rect x="77.91" y="215.50" width="12.29" height="4.09" fill="#fce1c6"/>
<rect x="77.91" y="223.59" width="12.29" height="4.09" fill="#fce1c6"/>
<rect x="90.30" y="215.50" width="12.29" height="4.09" fill="#fce1c7"/>
<rect x="90.30" y="223.59" width="12.29" height="4.09" fill="#fce0c5"/>
<rect x="102.69" y="215.50" width="12.29" height="4.09" fill="#fde3ca"/>
<rect x="102.69" y="223.59" width="12.29" height="4.09" fill="#fde4cc"/>
<rect x="115.08" y="215.50" width="12.29" height="4.09" fill="#fde9d6"/>
<rect x="115.08" y="223.59" width="12.29" height="4.09" fill="#fde9d6"/>
<rect x="127.47" y="215.50" width="12.29" height="4.09" fill="#fde6cf"/>
<rect x="127.47" y="223.59" width="12.29" height="4.09" fill="#fde4cc"/>
<rect x="139.86" y="215.50" width="12.29" height="4.09" fill="#fffcf9"/>
<rect x="139.86" y="223.59" width="12.29" height="4.09" fill="#fffdfc"/>
<rect x="152.30" y="215.50" width="12.44" height="12.18" fill="#00432f"/>
<rect x="164.69" y="215.50" width="12.44" height="12.18" fill="#81b6e1"/>
<rect x="177.08" y="215.50" width="12.44" height="12.18" fill="#81b6e1"/>
<rect x="189.47" y="215.50" width="12.44" height="12.18" fill="#f9edf9"/>
<rect x="201.86" y="215.50" width="12.44" height="12.18" fill="#f8ebf8"/>
<rect x="214.25" y="215.50" width="12.44" height="12.18" fill="#f6e8f7"/>
<rect x="226.64" y="215.50" width="12.44" height="12.18" fill="#f3e6f6"/>
<rect x="239.03" y="215.50" width="12.44" height="12.18" fill="#f3e6f6"/>
<rect x="251.42" y="215.50" width="12.44" height="12.18" fill="#f3e6f6"/>
<rect x="263.81" y="215.50" width="12.44" height="12.18" fill="#f3e6f6"/>
<rect x="276.20" y="215.50" width="12.44" height="12.18" fill="#f3e6f6"/>
<rect x="288.59" y="215.50" width="12.44" height="12.18" fill="#efe2f4"/>
<rect x="300.98" y="215.50" width="12.44" height="12.18" fill="#eee1f4"/>
<rect x="313.37" y="215.50" width="12.44" height="12.18" fill="#eee1f4"/>
<rect x="325.76" y="215.50" width="12.44" height="12.18" fill="#e8dff3"/>
<rect x="338.15" y="215.50" width="12.44" height="12.18" fill="#ede1f4"/>
<rect x="350.54" y="215.50" width="12.44" height="12.18" fill="#efe2f4"/>
<rect x="362.93" y="215.50" width="12.44" height="12.18" fill="#f0e3f4"/>
<rect x="375.32" y="215.50" width="12.44" height="12.18" fill="#fffeff"/>
<rect x="400.10" y="215.50" width="12.44" height="12.18" fill="#fefafd"/>
<rect x="28.35" y="227.63" width="12.29" height="4.09" fill="#fce2c8"/>
<rect x="28.35" y="235.72" width="12.29" height="4.09" fill="#fce0c5"/>
<rect x="40.74" y="227.63" width="12.29" height="4.09" fill="#fcdfc3"/>
<rect x="40.74" y="235.72" width="12.29" height="4.09" fill="#fcdcbd"/>
<rect x="53.13" y="227.63" width="12.29" height="4.09" fill="#fce2c7"/>
<rect x="53.13" y="235.72" width="12.29" height="4.09" fill="#fce2c7"/>
<rect x="65.52" y="227.63" width="12.29" height="4.09" fill="#fce2c9"/>
<rect x="65.52" y="235.72" width="12.29" height="4.09" fill="#fce1c6"/>
<rect x="77.91" y="227.63" width="12.29" height="4.09" fill="#fce2c8"/>
<rect x="77.91" y="235.72" width="12.29" height="4.09" fill="#fcdfc3"/>
<rect x="90.30" y="227.63" width="12.29" height="4.09" fill="#fde3ca"/>
<rect x="90.30" y="235.72" width="12.29" height="4.09" fill="#fde3ca"/>
<rect x="102.69" y="227.63" width="12.29" height="4.09" fill="#fde7d2"/>
<rect x="102.69" y="235.72" width="12.29" height="4.09" fill="#fde6cf"/>
<rect x="115.08" y="227.63" width="12.29" height="4.09" fill="#fde7d2"/>
<rect x="115.08" y="235.72" width="12.29" height="4.09" fill="#fde5cd"/>
<rect x="127.47" y="227.63" width="12.29" height="4.09" fill="#fde7d1"/>
<rect x="127.47" y="235.72" width="12.29" height="4.09" fill="#fde7d1"/>
<rect x="139.86" y="227.63" width="12.29" height="4.09" fill="#fef6ed"/>
<rect x="139.86" y="235.72" width="12.29" height="4.09" fill="#fef4eb"/>
<rect x="152.25" y="227.63" width="12.29" height="4.09" fill="#ffffff"/>
<rect x="152.25" y="235.72" width="12.29" height="4.09" fill="#ffffff"/>
<rect x="164.69" y="227.63" width="12.44" height="12.18" fill="#00432f"/>
<rect x="177.08" y="227.63" width="12.44" height="12.18" fill="#014635"/>
<rect x="189.47" y="227.63" width="12.44" height="12.18" fill="#f9eef9"/>
<rect x="201.86" y="227.63" width="12.44" height="12.18" fill="#f8ecf9"/>
<rect x="214.25" y="227.63" width="12.44" height="12.18" fill="#f8ecf8"/>
<rect x="226.64" y="227.63" width="12.44" height="12.18" fill="#f4e6f6"/>
<rect x="239.03" y="227.63" width="12.44" height="12.18" fill="#f4e6f6"/>
<rect x="251.42" y="227.63" width="12.44" height="12.18" fill="#f4e7f6"/>
<rect x="263.81" y="227.63" width="12.44" height="12.18" fill="#f7eaf8"/>
<rect x="276.20" y="227.63" width="12.44" height="12.18" fill="#f4e7f6"/>
<rect x="288.59" y="227.63" width="12.44" height="12.18" fill="#efe2f4"/>
<rect x="300.98" y="227.63" width="12.44" height="12.18" fill="#f0e3f4"/>
<rect x="313.37" y="227.63" width="12.44" height="12.18" fill="#f0e3f5"/>
<rect x="325.76" y="227.63" width="12.44" height="12.18" fill="#f0e4f5"/>
<rect x="338.15" y="227.63" width="12.44" height="12.18" fill="#f0e3f5"/>
<rect x="350.54" y="227.63" width="12.44" height="12.18" fill="#f3e6f6"/>
<rect x="362.93" y="227.63" width="12.44" height="12.18" fill="#f2e5f6"/>
<rect x="375.32" y="227.63" width="12.44" height="12.18" fill="#fffeff"/>
<rect x="400.10" y="227.63" width="12.44" height="12.18" fill="#fefafd"/>
<rect x="28.35" y="239.76" width="12.29" height="4.09" fill="#fcdfc2"/>
<rect x="28.35" y="247.85" width="12.29" height="4.09" fill="#fcdfc2"/>
<rect x="40.74" y="239.76" width="12.29" height="4.09" fill="#fcdcbd"/>
<rect x="40.74" y="247.85" width="12.29" height="4.09" fill="#fcdfc3"/>
<rect x="53.13" y="239.76" width="12.29" height="4.09" fill="#fcdfc2"/>
<rect x="53.13" y="247.85" width="12.29" height="4.09" fill="#fce0c5"/>
<rect x="65.52" y="239.76" width="12.29" height="4.09" fill="#fcdfc3"/>
<rect x="65.52" y="247.85" width="12.29" height="4.09" fill="#fcdfc3"/>
<rect x="77.91" y="239.76" width="12.29" height="4.09" fill="#fcdfc3"/>
<rect x="77.91" y="247.85" width="12.29" height="4.09" fill="#fce2c8"/>
<rect x="90.30" y="239.76" width="12.29" height="4.09" fill="#fce0c4"/>
<rect x="90.30" y="247.85" width="12.29" height="4.09" fill="#fce1c7"/>
<rect x="102.69" y="239.76" width="12.29" height="4.09" fill="#fde4cc"/>
<rect x="102.69" y="247.85" width="12.29" height="4.09" fill="#fde4cc"/>
<rect x="115.08" y="239.76" width="12.29" height="4.09" fill="#fde4cb"/>
<rect x="115.08" y="247.85" width="12.29" height="4.09" fill="#fde6d0"/>
<rect x="127.47" y="239.76" width="12.29" height="4.09" fill="#fde4cc"/>
<rect x="127.47" y="247.85" width="12.29" height="4.09" fill="#fde5ce"/>
<rect x="139.86" y="239.76" width="12.29" height="4.09" fill="#fef3e8"/>
<rect x="139.86" y="247.85" width="12.29" height="4.09" fill="#fef3e8"/>
<rect x="152.25" y="239.76" width="12.29" height="4.09" fill="#ffffff"/>
<rect x="152.25" y="247.85" width="12.29" height="4.09" fill="#ffffff"/>
<rect x="164.64" y="239.76" width="12.29" height="4.09" fill="#ffffff"/>
<rect x="164.64" y="247.85" width="12.29" height="4.09" fill="#ffffff"/>
<rect x="177.08" y="239.76" width="12.44" height="12.18" fill="#00432f"/>
<rect x="189.47" y="239.76" width="12.44" height="12.18" fill="#f9eef9"/>
<rect x="201.86" y="239.76" width="12.44" height="12.18" fill="#f9edf9"/>
<rect x="214.25" y="239.76" width="12.44" height="12.18" fill="#f8ecf8"/>
<rect x="226.64" y="239.76" width="12.44" height="12.18" fill="#f4e6f6"/>
<rect x="239.03" y="239.76" width="12.44" height="12.18" fill="#f4e6f6"/>
<rect x="251.42" y="239.76" width="12.44" height="12.18" fill="#f4e7f6"/>
<rect x="263.81" y="239.76" width="12.44" height="12.18" fill="#f7eaf8"/>
<rect x="276.20" y="239.76" width="12.44" height="12.18" fill="#f4e7f6"/>
<rect x="288.59" y="239.76" width="12.44" height="12.18" fill="#efe3f4"/>
<rect x="300.98" y="239.76" width="12.44" height="12.18" fill="#f0e3f5"/>
<rect x="313.37" y="239.76" width="12.44" height="12.18" fill="#f0e3f5"/>
<rect x="325.76" y="239.76" width="12.44" height="12.18" fill="#f0e4f5"/>
<rect x="338.15" y="239.76" width="12.44" height="12.18" fill="#f1e4f5"/>
<rect x="350.54" y="239.76" width="12.44" height="12.18" fill="#f3e6f6"/>
<rect x="362.93" y="239.76" width="12.44" height="12.18" fill="#f2e5f6"/>
<rect x="375.32" y="239.76" width="12.44" height="12.18" fill="#fffeff"/>
<rect x="400.10" y="239.76" width="12.44" height="12.18" fill="#fefafd"/>
<rect x="28.35" y="251.89" width="12.29" height="4.09" fill="#fce0c5"/>
<rect x="28.35" y="259.98" width="12.29" height="4.09" fill="#fce2c7"/>
<rect x="40.74" y="251.89" width="12.29" height="4.09" fill="#fcdec1"/>
<rect x="40.74" y="259.98" width="12.29" height="4.09" fill="#fcdec1"/>
<rect x="53.13" y="251.89" width="12.29" height="4.09" fill="#fce0c5"/>
<rect x="53.13" y="259.98" width="12.29" height="4.09" fill="#fcdfc2"/>
<rect x="65.52" y="251.89" width="12.29" height="4.09" fill="#fce1c6"/>
<rect x="65.52" y="259.98" width="12.29" height="4.09" fill="#fde2c9"/>
<rect x="77.91" y="251.89" width="12.29" height="4.09" fill="#fce0c5"/>
<rect x="77.91" y="259.98" width="12.29" height="4.09" fill="#fce0c5"/>
<rect x="90.30" y="251.89" width="12.29" height="4.09" fill="#fce1c7"/>
<rect x="90.30" y="259.98" width="12.29" height="4.09" fill="#fce0c4"/>
<rect x="102.69" y="251.89" width="12.29" height="4.09" fill="#fce2c8"/>
<rect x="102.69" y="259.98" width="12.29" height="4.09" fill="#fde3ca"/>
<rect x="115.08" y="251.89" width="12.29" height="4.09" fill="#fde2c9"/>
<rect x="115.08" y="259.98" width="12.29" height="4.09" fill="#fde2c9"/>
<rect x="127.47" y="251.89" width="12.29" height="4.09" fill="#fce2c8"/>
<rect x="127.47" y="259.98" width="12.29" height="4.09" fill="#fce0c5"/>
<rect x="139.86" y="251.89" width="12.29" height="4.09" fill="#fde3c9"/>
<rect x="139.86" y="259.98" width="12.29" height="4.09" fill="#fde4cc"/>
<rect x="152.25" y="251.89" width="12.29" height="4.09" fill="#fde2c9"/>
<rect x="152.25" y="259.98" width="12.29" height="4.09" fill="#fde2c9"/>
<rect x="164.64" y="251.89" width="12.29" height="4.09" fill="#fce2c8"/>
<rect x="164.64" y="259.98" width="12.29" height="4.09" fill="#fce1c6"/>
<rect x="177.03" y="251.89" width="12.29" height="4.09" fill="#fce2c8"/>
<rect x="177.03" y="259.98" width="12.29" height="4.09" fill="#fde4cb"/>
<rect x="189.47" y="251.89" width="12.44" height="12.18" fill="#00432f"/>
<rect x="201.86" y="251.89" width="12.44" height="12.18" fill="#f5e7f7"/>
<rect x="214.25" y="251.89" width="12.44" height="12.18" fill="#faf0fa"/>
<rect x="226.64" y="251.89" width="12.44" height="12.18" fill="#f6e9f7"/>
<rect x="239.03" y="251.89" width="12.44" height="12.18" fill="#f6e9f7"/>
<rect x="251.42" y="251.89" width="12.44" height="12.18" fill="#f6e8f7"/>
<rect x="263.81" y="251.89" width="12.44" height="12.18" fill="#f6e8f7"/>
<rect x="276.20" y="251.89" width="12.44" height="12.18" fill="#f7eaf8"/>
<rect x="288.59" y="251.89" width="12.44" height="12.18" fill="#f8ebf8"/>
<rect x="300.98" y="251.89" width="12.44" height="12.18" fill="#f6e8f7"/>
<rect x="313.37" y="251.89" width="12.44" height="12.18" fill="#f5e7f7"/>
<rect x="325.76" y="251.89" width="12.44" height="12.18" fill="#f6e8f7"/>
<rect x="338.15" y="251.89" width="12.44" height="12.18" fill="#f8ecf9"/>
<rect x="350.54" y="251.89" width="12.44" height="12.18" fill="#f6e8f7"/>
<rect x="362.93" y="251.89" width="12.44" height="12.18" fill="#f6e8f7"/>
<rect x="375.32" y="251.89" width="12.44" height="12.18" fill="#fffeff"/>
<rect x="400.10" y="251.89" width="12.44" height="12.18" fill="#fffbfe"/>
<rect x="28.35" y="264.02" width="12.29" height="4.09" fill="#fce1c6"/>
<rect x="28.35" y="272.11" width="12.29" height="4.09" fill="#fce0c4"/>
<rect x="40.74" y="264.02" width="12.29" height="4.09" fill="#fce1c6"/>
<rect x="40.74" y="272.11" width="12.29" height="4.09" fill="#fcdec1"/>
<rect x="53.13" y="264.02" width="12.29" height="4.09" fill="#fce2c7"/>
<rect x="53.13" y="272.11" width="12.29" height="4.09" fill="#fce2c7"/>
<rect x="65.52" y="264.02" width="12.29" height="4.09" fill="#fce2c9"/>
<rect x="65.52" y="272.11" width="12.29" height="4.09" fill="#fce1c6"/>
<rect x="77.91" y="264.02" width="12.29" height="4.09" fill="#fce2c7"/>
<rect x="77.91" y="272.11" width="12.29" height="4.09" fill="#fcdfc2"/>
<rect x="90.30" y="264.02" width="12.29" height="4.09" fill="#fde3ca"/>
<rect x="90.30" y="272.11" width="12.29" height="4.09" fill="#fde3ca"/>
<rect x="102.69" y="264.02" width="12.29" height="4.09" fill="#fde4cb"/>
<rect x="102.69" y="272.11" width="12.29" height="4.09" fill="#fde2c9"/>
<rect x="115.08" y="264.02" width="12.29" height="4.09" fill="#fde4cc"/>
<rect x="115.08" y="272.11" width="12.29" height="4.09" fill="#fce2c7"/>
<rect x="127.47" y="264.02" width="12.29" height="4.09" fill="#fde3cb"/>
<rect x="127.47" y="272.11" width="12.29" height="4.09" fill="#fde3cb"/>
<rect x="139.86" y="264.02" width="12.29" height="4.09" fill="#fde5ce"/>
<rect x="139.86" y="272.11" width="12.29" height="4.09" fill="#fde4cb"/>
<rect x="152.25" y="264.02" width="12.29" height="4.09" fill="#fde4cc"/>
<rect x="152.25" y="272.11" width="12.29" height="4.09" fill="#fce1c7"/>
<rect x="164.64" y="264.02" width="12.29" height="4.09" fill="#fde4cc"/>
<rect x="164.64" y="272.11" width="12.29" height="4.09" fill="#fde4cc"/>
<rect x="177.03" y="264.02" width="12.29" height="4.09" fill="#fde4cb"/>
<rect x="177.03" y="272.11" width="12.29" height="4.09" fill="#fde2c9"/>
<rect x="189.42" y="264.02" width="12.29" height="4.09" fill="#fde5ce"/>
<rect x="189.42" y="272.11" width="12.29" height="4.09" fill="#fce2c8"/>
<rect x="201.86" y="264.02" width="12.44" height="12.18" fill="#00432f"/>
<rect x="214.25" y="264.02" width="12.44" height="12.18" fill="#fbf1fa"/>
<rect x="226.64" y="264.02" width="12.44" height="12.18" fill="#f7eaf8"/>
<rect x="239.03" y="264.02" width="12.44" height="12.18" fill="#f7eaf8"/>
<rect x="251.42" y="264.02" width="12.44" height="12.18" fill="#f8ecf8"/>
<rect x="263.81" y="264.02" width="12.44" height="12.18" fill="#f8ecf8"/>
<rect x="276.20" y="264.02" width="12.44" height="12.18" fill="#f8ecf9"/>
<rect x="288.59" y="264.02" width="12.44" height="12.18" fill="#f9edf9"/>
<rect x="300.98" y="264.02" width="12.44" height="12.18" fill="#f7ebf8"/>
<rect x="313.37" y="264.02" width="12.44" height="12.18" fill="#f6e8f7"/>
<rect x="325.76" y="264.02" width="12.44" height="12.18" fill="#f7eaf8"/>
<rect x="338.15" y="264.02" width="12.44" height="12.18" fill="#f6e8f7"/>
<rect x="350.54" y="264.02" width="12.44" height="12.18" fill="#f4e6f6"/>
<rect x="362.93" y="264.02" width="12.44" height="12.18" fill="#f4e7f6"/>
<rect x="375.32" y="264.02" width="12.44" height="12.18" fill="#fffeff"/>
<rect x="400.10" y="264.02" width="12.44" height="12.18" fill="#fefafd"/>
<rect x="28.35" y="276.15" width="12.29" height="4.09" fill="#fcddbf"/>
<rect x="28.35" y="284.24" width="12.29" height="4.09" fill="#fcddbf"/>
<rect x="40.74" y="276.15" width="12.29" height="4.09" fill="#fcdfc3"/>
<rect x="40.74" y="284.24" width="12.29" height="4.09" fill="#fce2c8"/>
<rect x="53.13" y="276.15" width="12.29" height="4.09" fill="#fcdec1"/>
<rect x="53.13" y="284.24" width="12.29" height="4.09" fill="#fce0c4"/>
<rect x="65.52" y="276.15" width="12.29" height="4.09" fill="#fce0c4"/>
<rect x="65.52" y="284.24" width="12.29" height="4.09" fill="#fce0c4"/>
<rect x="77.91" y="276.15" width="12.29" height="4.09" fill="#fcdfc3"/>
<rect x="77.91" y="284.24" width="12.29" height="4.09" fill="#fce2c8"/>
<rect x="90.30" y="276.15" width="12.29" height="4.09" fill="#fce0c4"/>
<rect x="90.30" y="284.24" width="12.29" height="4.09" fill="#fce1c7"/>
<rect x="102.69" y="276.15" width="12.29" height="4.09" fill="#fce0c5"/>
<rect x="102.69" y="284.24" width="12.29" height="4.09" fill="#fce0c5"/>
<rect x="115.08" y="276.15" width="12.29" height="4.09" fill="#fce1c6"/>
<rect x="115.08" y="284.24" width="12.29" height="4.09" fill="#fde4cb"/>
<rect x="127.47" y="276.15" width="12.29" height="4.09" fill="#fce1c6"/>
<rect x="127.47" y="284.24" width="12.29" height="4.09" fill="#fce2c8"/>
<rect x="139.86" y="276.15" width="12.29" height="4.09" fill="#fde3ca"/>
<rect x="139.86" y="284.24" width="12.29" height="4.09" fill="#fde3ca"/>
<rect x="152.25" y="276.15" width="12.29" height="4.09" fill="#fce2c7"/>
<rect x="152.25" y="284.24" width="12.29" height="4.09" fill="#fde4cc"/>
<rect x="164.64" y="276.15" width="12.29" height="4.09" fill="#fce1c6"/>
<rect x="164.64" y="284.24" width="12.29" height="4.09" fill="#fde2c9"/>
<rect x="177.03" y="276.15" width="12.29" height="4.09" fill="#fce1c6"/>
<rect x="177.03" y="284.24" width="12.29" height="4.09" fill="#fce1c6"/>
<rect x="189.42" y="276.15" width="12.29" height="4.09" fill="#fce1c5"/>
<rect x="189.42" y="284.24" width="12.29" height="4.09" fill="#fde3cb"/>
<rect x="201.81" y="276.15" width="12.29" height="4.09" fill="#fce0c5"/>
<rect x="201.81" y="284.24" width="12.29" height="4.09" fill="#fce2c8"/>
<rect x="214.25" y="276.15" width="12.44" height="12.18" fill="#00432f"/>
<rect x="226.64" y="276.15" width="12.44" height="12.18" fill="#eee2f4"/>
<rect x="239.03" y="276.15" width="12.44" height="12.18" fill="#eee2f4"/>
<rect x="251.42" y="276.15" width="12.44" height="12.18" fill="#f4e6f6"/>
<rect x="263.81" y="276.15" width="12.44" height="12.18" fill="#f7e9f8"/>
<rect x="276.20" y="276.15" width="12.44" height="12.18" fill="#f6e8f7"/>
<rect x="288.59" y="276.15" width="12.44" height="12.18" fill="#f7ebf8"/>
<rect x="300.98" y="276.15" width="12.44" height="12.18" fill="#efe2f4"/>
<rect x="313.37" y="276.15" width="12.44" height="12.18" fill="#f0e4f5"/>
<rect x="325.76" y="276.15" width="12.44" height="12.18" fill="#f2e5f6"/>
<rect x="338.15" y="276.15" width="12.44" height="12.18" fill="#f4e6f6"/>
<rect x="350.54" y="276.15" width="12.44" height="12.18" fill="#f0e3f4"/>
<rect x="362.93" y="276.15" width="12.44" height="12.18" fill="#f0e3f4"/>
<rect x="375.32" y="276.15" width="12.44" height="12.18" fill="#fffdfe"/>
<rect x="387.71" y="276.15" width="12.44" height="12.18" fill="#fffbfe"/>
<rect x="400.10" y="276.15" width="12.44" height="12.18" fill="#f9eef9"/>
<rect x="28.35" y="288.28" width="12.29" height="4.09" fill="#fce0c5"/>
<rect x="28.35" y="296.37" width="12.29" height="4.09" fill="#fce2c8"/>
<rect x="40.74" y="288.28" width="12.29" height="4.09" fill="#fcdfc2"/>
<rect x="40.74" y="296.37" width="12.29" height="4.09" fill="#fcdfc2"/>
<rect x="53.13" y="288.28" width="12.29" height="4.09" fill="#fce0c5"/>
<rect x="53.13" y="296.37" width="12.29" height="4.09" fill="#fcdfc2"/>
<rect x="65.52" y="288.28" width="12.29" height="4.09" fill="#fce1c6"/>
<rect x="65.52" y="296.37" width="12.29" height="4.09" fill="#fde2c9"/>
<rect x="77.91" y="288.28" width="12.29" height="4.09" fill="#fce0c5"/>
<rect x="77.91" y="296.37" width="12.29" height="4.09" fill="#fce0c5"/>
<rect x="90.30" y="288.28" width="12.29" height="4.09" fill="#fce1c7"/>
<rect x="90.30" y="296.37" width="12.29" height="4.09" fill="#fce0c4"/>
<rect x="102.69" y="288.28" width="12.29" height="4.09" fill="#fde3c9"/>
<rect x="102.69" y="296.37" width="12.29" height="4.09" fill="#fde4cc"/>
<rect x="115.08" y="288.28" width="12.29" height="4.09" fill="#fde4cc"/>
<rect x="115.08" y="296.37" width="12.29" height="4.09" fill="#fde4cc"/>
<rect x="127.47" y="288.28" width="12.29" height="4.09" fill="#fde3ca"/>
<rect x="127.47" y="296.37" width="12.29" height="4.09" fill="#fce1c7"/>
<rect x="139.86" y="288.28" width="12.29" height="4.09" fill="#fde9d6"/>
<rect x="139.86" y="296.37" width="12.29" height="4.09" fill="#fdebd9"/>
<rect x="152.25" y="288.28" width="12.29" height="4.09" fill="#fde5ce"/>
<rect x="152.25" y="296.37" width="12.29" height="4.09" fill="#fde5ce"/>
<rect x="164.64" y="288.28" width="12.29" height="4.09" fill="#fde5cd"/>
<rect x="164.64" y="296.37" width="12.29" height="4.09" fill="#fde3cb"/>
<rect x="177.03" y="288.28" width="12.29" height="4.09" fill="#fde5cd"/>
<rect x="177.03" y="296.37" width="12.29" height="4.09" fill="#fde6d0"/>
<rect x="189.42" y="288.28" width="12.29" height="4.09" fill="#fde3ca"/>
<rect x="189.42" y="296.37" width="12.29" height="4.09" fill="#fde3ca"/>
<rect x="201.81" y="288.28" width="12.29" height="4.09" fill="#fde3ca"/>
<rect x="201.81" y="296.37" width="12.29" height="4.09" fill="#fce1c7"/>
<rect x="214.20" y="288.28" width="12.29" height="4.09" fill="#fde9d5"/>
<rect x="214.20" y="296.37" width="12.29" height="4.09" fill="#fdead7"/>
<rect x="226.64" y="288.28" width="12.44" height="12.18" fill="#00432f"/>
<rect x="239.03" y="288.28" width="12.44" height="12.18" fill="#00402d"/>
<rect x="251.42" y="288.28" width="12.44" height="12.18" fill="#dadaf2"/>
<rect x="263.81" y="288.28" width="12.44" height="12.18" fill="#dfdcf3"/>
<rect x="276.20" y="288.28" width="12.44" height="12.18" fill="#b2caea"/>
<rect x="288.59" y="288.28" width="12.44" height="12.18" fill="#f4e6f6"/>
<rect x="300.98" y="288.28" width="12.44" height="12.18" fill="#dfddf3"/>
<rect x="313.37" y="288.28" width="12.44" height="12.18" fill="#eee2f4"/>
<rect x="325.76" y="288.28" width="12.44" height="12.18" fill="#e2def3"/>
<rect x="338.15" y="288.28" width="12.44" height="12.18" fill="#e7dff3"/>
<rect x="350.54" y="288.28" width="12.44" height="12.18" fill="#ece0f3"/>
<rect x="362.93" y="288.28" width="12.44" height="12.18" fill="#ebe0f3"/>
<rect x="375.32" y="288.28" width="12.44" height="12.18" fill="#fffeff"/>
<rect x="387.71" y="288.28" width="12.44" height="12.18" fill="#fffeff"/>
<rect x="400.10" y="288.28" width="12.44" height="12.18" fill="#fef8fd"/>
<rect x="28.35" y="300.41" width="12.29" height="4.09" fill="#fce2c8"/>
<rect x="28.35" y="308.50" width="12.29" height="4.09" fill="#fce0c5"/>
<rect x="40.74" y="300.41" width="12.29" height="4.09" fill="#fce0c5"/>
<rect x="40.74" y="308.50" width="12.29" height="4.09" fill="#fcddbf"/>
<rect x="53.13" y="300.41" width="12.29" height="4.09" fill="#fce2c8"/>
<rect x="53.13" y="308.50" width="12.29" height="4.09" fill="#fce2c8"/>
<rect x="65.52" y="300.41" width="12.29" height="4.09" fill="#fde2c9"/>
<rect x="65.52" y="308.50" width="12.29" height="4.09" fill="#fce1c6"/>
<rect x="77.91" y="300.41" width="12.29" height="4.09" fill="#fce2c8"/>
<rect x="77.91" y="308.50" width="12.29" height="4.09" fill="#fcdfc2"/>
<rect x="90.30" y="300.41" width="12.29" height="4.09" fill="#fde3c9"/>
<rect x="90.30" y="308.50" width="12.29" height="4.09" fill="#fde3c9"/>
<rect x="102.69" y="300.41" width="12.29" height="4.09" fill="#fde4cc"/>
<rect x="102.69" y="308.50" width="12.29" height="4.09" fill="#fde3c9"/>
<rect x="115.08" y="300.41" width="12.29" height="4.09" fill="#fde5cf"/>
<rect x="115.08" y="308.50" width="12.29" height="4.09" fill="#fde3ca"/>
<rect x="127.47" y="300.41" width="12.29" height="4.09" fill="#fde4cc"/>
<rect x="127.47" y="308.50" width="12.29" height="4.09" fill="#fde4cc"/>
<rect x="139.86" y="300.41" width="12.29" height="4.09" fill="#fdebd9"/>
<rect x="139.86" y="308.50" width="12.29" height="4.09" fill="#fde9d6"/>
<rect x="152.25" y="300.41" width="12.29" height="4.09" fill="#fde6d1"/>
<rect x="152.25" y="308.50" width="12.29" height="4.09" fill="#fde4cb"/>
<rect x="164.64" y="300.41" width="12.29" height="4.09" fill="#fde6d0"/>
<rect x="164.64" y="308.50" width="12.29" height="4.09" fill="#fde6d0"/>
<rect x="177.03" y="300.41" width="12.29" height="4.09" fill="#fde6d0"/>
<rect x="177.03" y="308.50" width="12.29" height="4.09" fill="#fde5cd"/>
<rect x="189.42" y="300.41" width="12.29" height="4.09" fill="#fde4cc"/>
<rect x="189.42" y="308.50" width="12.29" height="4.09" fill="#fce1c7"/>
<rect x="201.81" y="300.41" width="12.29" height="4.09" fill="#fde4cc"/>
<rect x="201.81" y="308.50" width="12.29" height="4.09" fill="#fde4cc"/>
<rect x="214.20" y="300.41" width="12.29" height="4.09" fill="#fdead7"/>
<rect x="214.20" y="308.50" width="12.29" height="4.09" fill="#fde9d5"/>
<rect x="226.59" y="300.41" width="12.29" height="4.09" fill="#ffffff"/>
<rect x="226.59" y="308.50" width="12.29" height="4.09" fill="#ffffff"/>
<rect x="239.03" y="300.41" width="12.44" height="12.18" fill="#00432f"/>
<rect x="251.42" y="300.41" width="12.44" height="12.18" fill="#dadaf2"/>
<rect x="263.81" y="300.41" width="12.44" height="12.18" fill="#dfdcf3"/>
<rect x="276.20" y="300.41" width="12.44" height="12.18" fill="#b2caea"/>
<rect x="288.59" y="300.41" width="12.44" height="12.18" fill="#f4e6f6"/>
<rect x="300.98" y="300.41" width="12.44" height="12.18" fill="#dfddf3"/>
<rect x="313.37" y="300.41" width="12.44" height="12.18" fill="#eee2f4"/>
<rect x="325.76" y="300.41" width="12.44" height="12.18" fill="#e2def3"/>
<rect x="338.15" y="300.41" width="12.44" height="12.18" fill="#e7dff3"/>
<rect x="350.54" y="300.41" width="12.44" height="12.18" fill="#ece0f3"/>
<rect x="362.93" y="300.41" width="12.44" height="12.18" fill="#ebe0f3"/>
<rect x="375.32" y="300.41" width="12.44" height="12.18" fill="#fffeff"/>
<rect x="387.71" y="300.41" width="12.44" height="12.18" fill="#fffeff"/>
<rect x="400.10" y="300.41" width="12.44" height="12.18" fill="#fef8fd"/>
<rect x="28.35" y="312.54" width="12.29" height="4.09" fill="#fcdfc2"/>
<rect x="28.35" y="320.63" width="12.29" height="4.09" fill="#fcdfc2"/>
<rect x="40.74" y="312.54" width="12.29" height="4.09" fill="#fcddbf"/>
<rect x="40.74" y="320.63" width="12.29" height="4.09" fill="#fce0c4"/>
<rect x="53.13" y="312.54" width="12.29" height="4.09" fill="#fcdfc2"/>
<rect x="53.13" y="320.63" width="12.29" height="4.09" fill="#fce0c5"/>
<rect x="65.52" y="312.54" width="12.29" height="4.09" fill="#fce0c4"/>
<rect x="65.52" y="320.63" width="12.29" height="4.09" fill="#fce0c4"/>
<rect x="77.91" y="312.54" width="12.29" height="4.09" fill="#fcdfc2"/>
<rect x="77.91" y="320.63" width="12.29" height="4.09" fill="#fce2c8"/>
<rect x="90.30" y="312.54" width="12.29" height="4.09" fill="#fce0c4"/>
<rect x="90.30" y="320.63" width="12.29" height="4.09" fill="#fce1c7"/>
<rect x="102.69" y="312.54" width="12.29" height="4.09" fill="#fce1c6"/>
<rect x="102.69" y="320.63" width="12.29" height="4.09" fill="#fce1c6"/>
<rect x="115.08" y="312.54" width="12.29" height="4.09" fill="#fde4cb"/>
<rect x="115.08" y="320.63" width="12.29" height="4.09" fill="#fde6d0"/>
<rect x="127.47" y="312.54" width="12.29" height="4.09" fill="#fce1c7"/>
<rect x="127.47" y="320.63" width="12.29" height="4.09" fill="#fde3c9"/>
<rect x="139.86" y="312.54" width="12.29" height="4.09" fill="#fde5ce"/>
<rect x="139.86" y="320.63" width="12.29" height="4.09" fill="#fde5ce"/>
<rect x="152.25" y="312.54" width="12.29" height="4.09" fill="#fde4cb"/>
<rect x="152.25" y="320.63" width="12.29" height="4.09" fill="#fde6d0"/>
<rect x="164.64" y="312.54" width="12.29" height="4.09" fill="#fde3ca"/>
<rect x="164.64" y="320.63" width="12.29" height="4.09" fill="#fde4cc"/>
<rect x="177.03" y="312.54" width="12.29" height="4.09" fill="#fde3ca"/>
<rect x="177.03" y="320.63" width="12.29" height="4.09" fill="#fde3ca"/>
<rect x="189.42" y="312.54" width="12.29" height="4.09" fill="#fce2c7"/>
<rect x="189.42" y="320.63" width="12.29" height="4.09" fill="#fde4cd"/>
<rect x="201.81" y="312.54" width="12.29" height="4.09" fill="#fce1c6"/>
<rect x="201.81" y="320.63" width="12.29" height="4.09" fill="#fde2c9"/>
<rect x="214.20" y="312.54" width="12.29" height="4.09" fill="#fde3cb"/>
<rect x="214.20" y="320.63" width="12.29" height="4.09" fill="#fde3cb"/>
<rect x="226.59" y="312.54" width="12.29" height="4.09" fill="#fef1e4"/>
<rect x="226.59" y="320.63" width="12.29" height="4.09" fill="#fef3e9"/>
<rect x="238.98" y="312.54" width="12.29" height="4.09" fill="#fef1e4"/>
<rect x="238.98" y="320.63" width="12.29" height="4.09" fill="#fef2e7"/>
<rect x="251.42" y="312.54" width="12.44" height="12.18" fill="#00432f"/>
<rect x="263.81" y="312.54" width="12.44" height="12.18" fill="#a8c6e8"/>
<rect x="276.20" y="312.54" width="12.44" height="12.18" fill="#afc9ea"/>
<rect x="288.59" y="312.54" width="12.44" height="12.18" fill="#f1e4f5"/>
<rect x="300.98" y="312.54" width="12.44" height="12.18" fill="#e8dff3"/>
<rect x="313.37" y="312.54" width="12.44" height="12.18" fill="#e5dff3"/>
<rect x="325.76" y="312.54" width="12.44" height="12.18" fill="#d7d9f1"/>
<rect x="338.15" y="312.54" width="12.44" height="12.18" fill="#eee2f4"/>
<rect x="350.54" y="312.54" width="12.44" height="12.18" fill="#e7dff3"/>
<rect x="362.93" y="312.54" width="12.44" height="12.18" fill="#e6dff3"/>
<rect x="375.32" y="312.54" width="12.44" height="12.18" fill="#fffeff"/>
<rect x="400.10" y="312.54" width="12.44" height="12.18" fill="#fefafd"/>
<rect x="28.35" y="324.67" width="12.29" height="4.09" fill="#fce0c4"/>
<rect x="28.35" y="332.76" width="12.29" height="4.09" fill="#fce1c6"/>
<rect x="40.74" y="324.67" width="12.29" height="4.09" fill="#fcdec0"/>
<rect x="40.74" y="332.76" width="12.29" height="4.09" fill="#fcdec0"/>
<rect x="53.13" y="324.67" width="12.29" height="4.09" fill="#fce0c5"/>
<rect x="53.13" y="332.76" width="12.29" height="4.09" fill="#fcdfc2"/>
<rect x="65.52" y="324.67" width="12.29" height="4.09" fill="#fce1c6"/>
<rect x="65.52" y="332.76" width="12.29" height="4.09" fill="#fde2c9"/>
<rect x="77.91" y="324.67" width="12.29" height="4.09" fill="#fce0c5"/>
<rect x="77.91" y="332.76" width="12.29" height="4.09" fill="#fce0c5"/>
<rect x="90.30" y="324.67" width="12.29" height="4.09" fill="#fce1c6"/>
<rect x="90.30" y="332.76" width="12.29" height="4.09" fill="#fce0c4"/>
<rect x="102.69" y="324.67" width="12.29" height="4.09" fill="#fde2c9"/>
<rect x="102.69" y="332.76" width="12.29" height="4.09" fill="#fde4cb"/>
<rect x="115.08" y="324.67" width="12.29" height="4.09" fill="#fde3ca"/>
<rect x="115.08" y="332.76" width="12.29" height="4.09" fill="#fde3ca"/>
<rect x="127.47" y="324.67" width="12.29" height="4.09" fill="#fde3ca"/>
<rect x="127.47" y="332.76" width="12.29" height="4.09" fill="#fce1c7"/>
<rect x="139.86" y="324.67" width="12.29" height="4.09" fill="#fde7d1"/>
<rect x="139.86" y="332.76" width="12.29" height="4.09" fill="#fde8d4"/>
<rect x="152.25" y="324.67" width="12.29" height="4.09" fill="#fde5ce"/>
<rect x="152.25" y="332.76" width="12.29" height="4.09" fill="#fde5ce"/>
<rect x="164.64" y="324.67" width="12.29" height="4.09" fill="#fde3c9"/>
<rect x="164.64" y="332.76" width="12.29" height="4.09" fill="#fce1c7"/>
<rect x="177.03" y="324.67" width="12.29" height="4.09" fill="#fde3c9"/>
<rect x="177.03" y="332.76" width="12.29" height="4.09" fill="#fde4cc"/>
<rect x="189.42" y="324.67" width="12.29" height="4.09" fill="#fde3ca"/>
<rect x="189.42" y="332.76" width="12.29" height="4.09" fill="#fde3ca"/>
<rect x="201.81" y="324.67" width="12.29" height="4.09" fill="#fde2c9"/>
<rect x="201.81" y="332.76" width="12.29" height="4.09" fill="#fce1c6"/>
<rect x="214.20" y="324.67" width="12.29" height="4.09" fill="#fde3ca"/>
<rect x="214.20" y="332.76" width="12.29" height="4.09" fill="#fde4cc"/>
<rect x="226.59" y="324.67" width="12.29" height="4.09" fill="#fef1e4"/>
<rect x="226.59" y="332.76" width="12.29" height="4.09" fill="#fef1e4"/>
<rect x="238.98" y="324.67" width="12.29" height="4.09" fill="#fef1e4"/>
<rect x="238.98" y="332.76" width="12.29" height="4.09" fill="#feefe1"/>
<rect x="251.37" y="324.67" width="12.29" height="4.09" fill="#fffcfa"/>
<rect x="251.37" y="332.76" width="12.29" height="4.09" fill="#fffefc"/>
<rect x="263.81" y="324.67" width="12.44" height="12.18" fill="#00432f"/>
<rect x="276.20" y="324.67" width="12.44" height="12.18" fill="#9cc1e6"/>
<rect x="288.59" y="324.67" width="12.44" height="12.18" fill="#f2e5f5"/>
<rect x="300.98" y="324.67" width="12.44" height="12.18" fill="#e9dff3"/>
<rect x="313.37" y="324.67" width="12.44" height="12.18" fill="#ede1f4"/>
<rect x="325.76" y="324.67" width="12.44" height="12.18" fill="#e6dff3"/>
<rect x="338.15" y="324.67" width="12.44" height="12.18" fill="#f1e4f5"/>
<rect x="350.54" y="324.67" width="12.44" height="12.18" fill="#eee1f4"/>
<rect x="362.93" y="324.67" width="12.44" height="12.18" fill="#ede1f4"/>
<rect x="375.32" y="324.67" width="12.44" height="12.18" fill="#fffeff"/>
<rect x="400.10" y="324.67" width="12.44" height="12.18" fill="#fefafd"/>
<rect x="28.35" y="336.80" width="12.29" height="4.09" fill="#fce1c7"/>
<rect x="28.35" y="344.89" width="12.29" height="4.09" fill="#fce0c4"/>
<rect x="40.74" y="336.80" width="12.29" height="4.09" fill="#fce0c5"/>
<rect x="40.74" y="344.89" width="12.29" height="4.09" fill="#fcddbf"/>
<rect x="53.13" y="336.80" width="12.29" height="4.09" fill="#fce2c7"/>
<rect x="53.13" y="344.89" width="12.29" height="4.09" fill="#fce2c7"/>
<rect x="65.52" y="336.80" width="12.29" height="4.09" fill="#fde2c9"/>
<rect x="65.52" y="344.89" width="12.29" height="4.09" fill="#fce1c6"/>
<rect x="77.91" y="336.80" width="12.29" height="4.09" fill="#fce2c7"/>
<rect x="77.91" y="344.89" width="12.29" height="4.09" fill="#fcdfc2"/>
<rect x="90.30" y="336.80" width="12.29" height="4.09" fill="#fde3c9"/>
<rect x="90.30" y="344.89" width="12.29" height="4.09" fill="#fde3c9"/>
<rect x="102.69" y="336.80" width="12.29" height="4.09" fill="#fde4cb"/>
<rect x="102.69" y="344.89" width="12.29" height="4.09" fill="#fde2c9"/>
<rect x="115.08" y="336.80" width="12.29" height="4.09" fill="#fde4cc"/>
<rect x="115.08" y="344.89" width="12.29" height="4.09" fill="#fce1c7"/>
<rect x="127.47" y="336.80" width="12.29" height="4.09" fill="#fde5ce"/>
<rect x="127.47" y="344.89" width="12.29" height="4.09" fill="#fde5ce"/>
<rect x="139.86" y="336.80" width="12.29" height="4.09" fill="#fde9d5"/>
<rect x="139.86" y="344.89" width="12.29" height="4.09" fill="#fde7d2"/>
<rect x="152.25" y="336.80" width="12.29" height="4.09" fill="#fde6d0"/>
<rect x="152.25" y="344.89" width="12.29" height="4.09" fill="#fde4cb"/>
<rect x="164.64" y="336.80" width="12.29" height="4.09" fill="#fde6cf"/>
<rect x="164.64" y="344.89" width="12.29" height="4.09" fill="#fde6cf"/>
<rect x="177.03" y="336.80" width="12.29" height="4.09" fill="#fde6cf"/>
<rect x="177.03" y="344.89" width="12.29" height="4.09" fill="#fde4cc"/>
<rect x="189.42" y="336.80" width="12.29" height="4.09" fill="#fde4cc"/>
<rect x="189.42" y="344.89" width="12.29" height="4.09" fill="#fce1c7"/>
<rect x="201.81" y="336.80" width="12.29" height="4.09" fill="#fde4cb"/>
<rect x="201.81" y="344.89" width="12.29" height="4.09" fill="#fde4cb"/>
<rect x="214.20" y="336.80" width="12.29" height="4.09" fill="#fde5cd"/>
<rect x="214.20" y="344.89" width="12.29" height="4.09" fill="#fde3cb"/>
<rect x="226.59" y="336.80" width="12.29" height="4.09" fill="#fffcfa"/>
<rect x="226.59" y="344.89" width="12.29" height="4.09" fill="#fff9f4"/>
<rect x="238.98" y="336.80" width="12.29" height="4.09" fill="#fffcfa"/>
<rect x="238.98" y="344.89" width="12.29" height="4.09" fill="#fffcfa"/>
<rect x="251.37" y="336.80" width="12.29" height="4.09" fill="#fffdfb"/>
<rect x="251.37" y="344.89" width="12.29" height="4.09" fill="#fffbf8"/>
<rect x="263.76" y="336.80" width="12.29" height="4.09" fill="#fffcfa"/>
<rect x="263.76" y="344.89" width="12.29" height="4.09" fill="#fffcfa"/>
<rect x="276.20" y="336.80" width="12.44" height="12.18" fill="#00432f"/>
<rect x="288.59" y="336.80" width="12.44" height="12.18" fill="#f2e5f5"/>
<rect x="300.98" y="336.80" width="12.44" height="12.18" fill="#ebe0f3"/>
<rect x="313.37" y="336.80" width="12.44" height="12.18" fill="#efe2f4"/>
<rect x="325.76" y="336.80" width="12.44" height="12.18" fill="#e6dff3"/>
<rect x="338.15" y="336.80" width="12.44" height="12.18" fill="#ede1f3"/>
<rect x="350.54" y="336.80" width="12.44" height="12.18" fill="#f0e3f4"/>
<rect x="362.93" y="336.80" width="12.44" height="12.18" fill="#efe3f4"/>
<rect x="375.32" y="336.80" width="12.44" height="12.18" fill="#fffeff"/>
<rect x="400.10" y="336.80" width="12.44" height="12.18" fill="#fefafd"/>
<rect x="28.35" y="348.93" width="12.29" height="4.09" fill="#fcdec1"/>
<rect x="28.35" y="357.02" width="12.29" height="4.09" fill="#fcdec1"/>
<rect x="40.74" y="348.93" width="12.29" height="4.09" fill="#fcddbf"/>
<rect x="40.74" y="357.02" width="12.29" height="4.09" fill="#fce0c4"/>
<rect x="53.13" y="348.93" width="12.29" height="4.09" fill="#fcdfc2"/>
<rect x="53.13" y="357.02" width="12.29" height="4.09" fill="#fce0c5"/>
<rect x="65.52" y="348.93" width="12.29" height="4.09" fill="#fce0c4"/>
<rect x="65.52" y="357.02" width="12.29" height="4.09" fill="#fce0c4"/>
<rect x="77.91" y="348.93" width="12.29" height="4.09" fill="#fcdfc2"/>
<rect x="77.91" y="357.02" width="12.29" height="4.09" fill="#fce2c7"/>
<rect x="90.30" y="348.93" width="12.29" height="4.09" fill="#fce0c4"/>
<rect x="90.30" y="357.02" width="12.29" height="4.09" fill="#fce1c7"/>
<rect x="102.69" y="348.93" width="12.29" height="4.09" fill="#fde2c9"/>
<rect x="102.69" y="357.02" width="12.29" height="4.09" fill="#fde2c9"/>
<rect x="115.08" y="348.93" width="12.29" height="4.09" fill="#fce1c7"/>
<rect x="115.08" y="357.02" width="12.29" height="4.09" fill="#fde4cc"/>
<rect x="127.47" y="348.93" width="12.29" height="4.09" fill="#fce1c7"/>
<rect x="127.47" y="357.02" width="12.29" height="4.09" fill="#fde3ca"/>
<rect x="139.86" y="348.93" width="12.29" height="4.09" fill="#fde5ce"/>
<rect x="139.86" y="357.02" width="12.29" height="4.09" fill="#fde5ce"/>
<rect x="152.25" y="348.93" width="12.29" height="4.09" fill="#fde7d1"/>
<rect x="152.25" y="357.02" width="12.29" height="4.09" fill="#fde9d6"/>
<rect x="164.64" y="348.93" width="12.29" height="4.09" fill="#fde7d1"/>
<rect x="164.64" y="357.02" width="12.29" height="4.09" fill="#fde8d4"/>
<rect x="177.03" y="348.93" width="12.29" height="4.09" fill="#fde6d1"/>
<rect x="177.03" y="357.02" width="12.29" height="4.09" fill="#fde6d1"/>
<rect x="189.42" y="348.93" width="12.29" height="4.09" fill="#fce1c7"/>
<rect x="189.42" y="357.02" width="12.29" height="4.09" fill="#fde4cc"/>
<rect x="201.81" y="348.93" width="12.29" height="4.09" fill="#fce1c6"/>
<rect x="201.81" y="357.02" width="12.29" height="4.09" fill="#fde2c9"/>
<rect x="214.20" y="348.93" width="12.29" height="4.09" fill="#fce1c7"/>
<rect x="214.20" y="357.02" width="12.29" height="4.09" fill="#fce1c7"/>
<rect x="226.59" y="348.93" width="12.29" height="4.09" fill="#fde3ca"/>
<rect x="226.59" y="357.02" width="12.29" height="4.09" fill="#fde6cf"/>
<rect x="238.98" y="348.93" width="12.29" height="4.09" fill="#fde3ca"/>
<rect x="238.98" y="357.02" width="12.29" height="4.09" fill="#fde4cd"/>
<rect x="251.37" y="348.93" width="12.29" height="4.09" fill="#fde5cf"/>
<rect x="251.37" y="357.02" width="12.29" height="4.09" fill="#fde5cf"/>
<rect x="263.76" y="348.93" width="12.29" height="4.09" fill="#fde5cd"/>
<rect x="263.76" y="357.02" width="12.29" height="4.09" fill="#fde7d2"/>
<rect x="276.15" y="348.93" width="12.29" height="4.09" fill="#fde4cd"/>
<rect x="276.15" y="357.02" width="12.29" height="4.09" fill="#fde6cf"/>
<rect x="288.59" y="348.93" width="12.44" height="12.18" fill="#00432f"/>
<rect x="300.98" y="348.93" width="12.44" height="12.18" fill="#bcceec"/>
<rect x="313.37" y="348.93" width="12.44" height="12.18" fill="#eae0f3"/>
<rect x="325.76" y="348.93" width="12.44" height="12.18" fill="#efe2f4"/>
<rect x="338.15" y="348.93" width="12.44" height="12.18" fill="#f1e4f5"/>
<rect x="350.54" y="348.93" width="12.44" height="12.18" fill="#efe2f4"/>
<rect x="362.93" y="348.93" width="12.44" height="12.18" fill="#f0e3f5"/>
<rect x="375.32" y="348.93" width="12.44" height="12.18" fill="#fffeff"/>
<rect x="400.10" y="348.93" width="12.44" height="12.18" fill="#fffbfe"/>
<rect x="28.35" y="361.06" width="12.29" height="4.09" fill="#fce0c5"/>
<rect x="28.35" y="369.15" width="12.29" height="4.09" fill="#fce2c7"/>
<rect x="40.74" y="361.06" width="12.29" height="4.09" fill="#fcdec1"/>
<rect x="40.74" y="369.15" width="12.29" height="4.09" fill="#fcdec1"/>
<rect x="53.13" y="361.06" width="12.29" height="4.09" fill="#fce0c5"/>
<rect x="53.13" y="369.15" width="12.29" height="4.09" fill="#fcdfc2"/>
<rect x="65.52" y="361.06" width="12.29" height="4.09" fill="#fce1c6"/>
<rect x="65.52" y="369.15" width="12.29" height="4.09" fill="#fde2c9"/>
<rect x="77.91" y="361.06" width="12.29" height="4.09" fill="#fce0c5"/>
<rect x="77.91" y="369.15" width="12.29" height="4.09" fill="#fce0c5"/>
<rect x="90.30" y="361.06" width="12.29" height="4.09" fill="#fce1c7"/>
<rect x="90.30" y="369.15" width="12.29" height="4.09" fill="#fce0c4"/>
<rect x="102.69" y="361.06" width="12.29" height="4.09" fill="#fde3ca"/>
<rect x="102.69" y="369.15" width="12.29" height="4.09" fill="#fde4cc"/>
<rect x="115.08" y="361.06" width="12.29" height="4.09" fill="#fde5ce"/>
<rect x="115.08" y="369.15" width="12.29" height="4.09" fill="#fde5ce"/>
<rect x="127.47" y="361.06" width="12.29" height="4.09" fill="#fde4cb"/>
<rect x="127.47" y="369.15" width="12.29" height="4.09" fill="#fde2c9"/>
<rect x="139.86" y="361.06" width="12.29" height="4.09" fill="#fdecdb"/>
<rect x="139.86" y="369.15" width="12.29" height="4.09" fill="#fdeddd"/>
<rect x="152.25" y="361.06" width="12.29" height="4.09" fill="#fde9d6"/>
<rect x="152.25" y="369.15" width="12.29" height="4.09" fill="#fde9d6"/>
<rect x="164.64" y="361.06" width="12.29" height="4.09" fill="#fde8d3"/>
<rect x="164.64" y="369.15" width="12.29" height="4.09" fill="#fde6d0"/>
<rect x="177.03" y="361.06" width="12.29" height="4.09" fill="#fde7d2"/>
<rect x="177.03" y="369.15" width="12.29" height="4.09" fill="#fde9d5"/>
<rect x="189.42" y="361.06" width="12.29" height="4.09" fill="#fde3ca"/>
<rect x="189.42" y="369.15" width="12.29" height="4.09" fill="#fde3ca"/>
<rect x="201.81" y="361.06" width="12.29" height="4.09" fill="#fde3c9"/>
<rect x="201.81" y="369.15" width="12.29" height="4.09" fill="#fce1c7"/>
<rect x="214.20" y="361.06" width="12.29" height="4.09" fill="#fde8d4"/>
<rect x="214.20" y="369.15" width="12.29" height="4.09" fill="#fdead6"/>
<rect x="226.59" y="361.06" width="12.29" height="4.09" fill="#fef0e3"/>
<rect x="226.59" y="369.15" width="12.29" height="4.09" fill="#fef0e3"/>
<rect x="238.98" y="361.06" width="12.29" height="4.09" fill="#fef0e3"/>
<rect x="238.98" y="369.15" width="12.29" height="4.09" fill="#feefe1"/>
<rect x="251.37" y="361.06" width="12.29" height="4.09" fill="#fdecdc"/>
<rect x="251.37" y="369.15" width="12.29" height="4.09" fill="#feeede"/>
<rect x="263.76" y="361.06" width="12.29" height="4.09" fill="#fdecda"/>
<rect x="263.76" y="369.15" width="12.29" height="4.09" fill="#fdecda"/>
<rect x="276.15" y="361.06" width="12.29" height="4.09" fill="#fdebd8"/>
<rect x="276.15" y="369.15" width="12.29" height="4.09" fill="#fde9d6"/>
<rect x="288.54" y="361.06" width="12.29" height="4.09" fill="#fef9f3"/>
<rect x="288.54" y="369.15" width="12.29" height="4.09" fill="#fffaf6"/>
<rect x="300.98" y="361.06" width="12.44" height="12.18" fill="#00432f"/>
<rect x="313.37" y="361.06" width="12.44" height="12.18" fill="#e1def3"/>
<rect x="325.76" y="361.06" width="12.44" height="12.18" fill="#d7d9f1"/>
<rect x="338.15" y="361.06" width="12.44" height="12.18" fill="#dfdcf3"/>
<rect x="350.54" y="361.06" width="12.44" height="12.18" fill="#e4def3"/>
<rect x="362.93" y="361.06" width="12.44" height="12.18" fill="#e6dff3"/>
<rect x="375.32" y="361.06" width="12.44" height="12.18" fill="#fffeff"/>
<rect x="387.71" y="361.06" width="12.44" height="12.18" fill="#fffeff"/>
<rect x="400.10" y="361.06" width="12.44" height="12.18" fill="#fefafd"/>
<rect x="28.35" y="373.19" width="12.29" height="4.09" fill="#fce2c7"/>
<rect x="28.35" y="381.28" width="12.29" height="4.09" fill="#fce0c5"/>
<rect x="40.74" y="373.19" width="12.29" height="4.09" fill="#fce0c5"/>
<rect x="40.74" y="381.28" width="12.29" height="4.09" fill="#fcddbf"/>
<rect x="53.13" y="373.19" width="12.29" height="4.09" fill="#fce2c8"/>
<rect x="53.13" y="381.28" width="12.29" height="4.09" fill="#fce2c8"/>
<rect x="65.52" y="373.19" width="12.29" height="4.09" fill="#fde3c9"/>
<rect x="65.52" y="381.28" width="12.29" height="4.09" fill="#fce1c7"/>
<rect x="77.91" y="373.19" width="12.29" height="4.09" fill="#fce2c8"/>
<rect x="77.91" y="381.28" width="12.29" height="4.09" fill="#fcdfc2"/>
<rect x="90.30" y="373.19" width="12.29" height="4.09" fill="#fde3ca"/>
<rect x="90.30" y="381.28" width="12.29" height="4.09" fill="#fde3ca"/>
<rect x="102.69" y="373.19" width="12.29" height="4.09" fill="#fde4cc"/>
<rect x="102.69" y="381.28" width="12.29" height="4.09" fill="#fde3c9"/>
<rect x="115.08" y="373.19" width="12.29" height="4.09" fill="#fde7d2"/>
<rect x="115.08" y="381.28" width="12.29" height="4.09" fill="#fde4cc"/>
<rect x="127.47" y="373.19" width="12.29" height="4.09" fill="#fde8d3"/>
<rect x="127.47" y="381.28" width="12.29" height="4.09" fill="#fde8d3"/>
<rect x="139.86" y="373.19" width="12.29" height="4.09" fill="#feeedf"/>
<rect x="139.86" y="381.28" width="12.29" height="4.09" fill="#fdeddd"/>
<rect x="152.25" y="373.19" width="12.29" height="4.09" fill="#fdead8"/>
<rect x="152.25" y="381.28" width="12.29" height="4.09" fill="#fde8d3"/>
<rect x="164.64" y="373.19" width="12.29" height="4.09" fill="#fde9d5"/>
<rect x="164.64" y="381.28" width="12.29" height="4.09" fill="#fde9d5"/>
<rect x="177.03" y="373.19" width="12.29" height="4.09" fill="#fde9d5"/>
<rect x="177.03" y="381.28" width="12.29" height="4.09" fill="#fde7d2"/>
<rect x="189.42" y="373.19" width="12.29" height="4.09" fill="#fde5ce"/>
<rect x="189.42" y="381.28" width="12.29" height="4.09" fill="#fde2c9"/>
<rect x="201.81" y="373.19" width="12.29" height="4.09" fill="#fde4cc"/>
<rect x="201.81" y="381.28" width="12.29" height="4.09" fill="#fde4cc"/>
<rect x="214.20" y="373.19" width="12.29" height="4.09" fill="#fde8d4"/>
<rect x="214.20" y="381.28" width="12.29" height="4.09" fill="#fde7d2"/>
<rect x="226.59" y="373.19" width="12.29" height="4.09" fill="#fdead7"/>
<rect x="226.59" y="381.28" width="12.29" height="4.09" fill="#fde7d2"/>
<rect x="238.98" y="373.19" width="12.29" height="4.09" fill="#fdead7"/>
<rect x="238.98" y="381.28" width="12.29" height="4.09" fill="#fdead7"/>
<rect x="251.37" y="373.19" width="12.29" height="4.09" fill="#feefe1"/>
<rect x="251.37" y="381.28" width="12.29" height="4.09" fill="#fdeede"/>
<rect x="263.76" y="373.19" width="12.29" height="4.09" fill="#fdebd9"/>
<rect x="263.76" y="381.28" width="12.29" height="4.09" fill="#fde8d3"/>
<rect x="276.15" y="373.19" width="12.29" height="4.09" fill="#fdead7"/>
<rect x="276.15" y="381.28" width="12.29" height="4.09" fill="#fdead7"/>
<rect x="288.54" y="373.19" width="12.29" height="4.09" fill="#fdecdc"/>
<rect x="288.54" y="381.28" width="12.29" height="4.09" fill="#fdebd9"/>
<rect x="300.93" y="373.19" width="12.29" height="4.09" fill="#fef1e4"/>
<rect x="300.93" y="381.28" width="12.29" height="4.09" fill="#feeedf"/>
<rect x="313.37" y="373.19" width="12.44" height="12.18" fill="#00432f"/>
<rect x="325.76" y="373.19" width="12.44" height="12.18" fill="#dedcf2"/>
<rect x="338.15" y="373.19" width="12.44" height="12.18" fill="#e8dff3"/>
<rect x="350.54" y="373.19" width="12.44" height="12.18" fill="#dbdbf2"/>
<rect x="362.93" y="373.19" width="12.44" height="12.18" fill="#dcdbf2"/>
<rect x="375.32" y="373.19" width="12.44" height="12.18" fill="#fffeff"/>
<rect x="400.10" y="373.19" width="12.44" height="12.18" fill="#fef8fd"/>
<rect x="28.35" y="385.32" width="12.29" height="4.09" fill="#fcdfc2"/>
<rect x="28.35" y="393.41" width="12.29" height="4.09" fill="#fcdfc2"/>
<rect x="40.74" y="385.32" width="12.29" height="4.09" fill="#fcdec1"/>
<rect x="40.74" y="393.41" width="12.29" height="4.09" fill="#fce1c6"/>
<rect x="53.13" y="385.32" width="12.29" height="4.09" fill="#fcdfc2"/>
<rect x="53.13" y="393.41" width="12.29" height="4.09" fill="#fce0c5"/>
<rect x="65.52" y="385.32" width="12.29" height="4.09" fill="#fce0c4"/>
<rect x="65.52" y="393.41" width="12.29" height="4.09" fill="#fce0c4"/>
<rect x="77.91" y="385.32" width="12.29" height="4.09" fill="#fcdfc3"/>
<rect x="77.91" y="393.41" width="12.29" height="4.09" fill="#fce2c8"/>
<rect x="90.30" y="385.32" width="12.29" height="4.09" fill="#fce0c5"/>
<rect x="90.30" y="393.41" width="12.29" height="4.09" fill="#fce2c8"/>
<rect x="102.69" y="385.32" width="12.29" height="4.09" fill="#fce2c8"/>
<rect x="102.69" y="393.41" width="12.29" height="4.09" fill="#fce2c8"/>
<rect x="115.08" y="385.32" width="12.29" height="4.09" fill="#fde5ce"/>
<rect x="115.08" y="393.41" width="12.29" height="4.09" fill="#fde8d3"/>
<rect x="127.47" y="385.32" width="12.29" height="4.09" fill="#fde8d3"/>
<rect x="127.47" y="393.41" width="12.29" height="4.09" fill="#fde9d6"/>
<rect x="139.86" y="385.32" width="12.29" height="4.09" fill="#fdecdb"/>
<rect x="139.86" y="393.41" width="12.29" height="4.09" fill="#fdecdb"/>
<rect x="152.25" y="385.32" width="12.29" height="4.09" fill="#fdebd9"/>
<rect x="152.25" y="393.41" width="12.29" height="4.09" fill="#feeede"/>
<rect x="164.64" y="385.32" width="12.29" height="4.09" fill="#fde6cf"/>
<rect x="164.64" y="393.41" width="12.29" height="4.09" fill="#fde7d2"/>
<rect x="177.03" y="385.32" width="12.29" height="4.09" fill="#fde6cf"/>
<rect x="177.03" y="393.41" width="12.29" height="4.09" fill="#fde6cf"/>
<rect x="189.42" y="385.32" width="12.29" height="4.09" fill="#fce2c7"/>
<rect x="189.42" y="393.41" width="12.29" height="4.09" fill="#fde4cd"/>
<rect x="201.81" y="385.32" width="12.29" height="4.09" fill="#fce1c7"/>
<rect x="201.81" y="393.41" width="12.29" height="4.09" fill="#fde3c9"/>
<rect x="214.20" y="385.32" width="12.29" height="4.09" fill="#fde4cc"/>
<rect x="214.20" y="393.41" width="12.29" height="4.09" fill="#fde4cc"/>
<rect x="226.59" y="385.32" width="12.29" height="4.09" fill="#feeede"/>
<rect x="226.59" y="393.41" width="12.29" height="4.09" fill="#fef1e4"/>
<rect x="238.98" y="385.32" width="12.29" height="4.09" fill="#feeede"/>
<rect x="238.98" y="393.41" width="12.29" height="4.09" fill="#feefe1"/>
<rect x="251.37" y="385.32" width="12.29" height="4.09" fill="#fef2e6"/>
<rect x="251.37" y="393.41" width="12.29" height="4.09" fill="#fef2e6"/>
<rect x="263.76" y="385.32" width="12.29" height="4.09" fill="#fdecdb"/>
<rect x="263.76" y="393.41" width="12.29" height="4.09" fill="#feefe1"/>
<rect x="276.15" y="385.32" width="12.29" height="4.09" fill="#fdecdb"/>
<rect x="276.15" y="393.41" width="12.29" height="4.09" fill="#fdedde"/>
<rect x="288.54" y="385.32" width="12.29" height="4.09" fill="#fde7d2"/>
<rect x="288.54" y="393.41" width="12.29" height="4.09" fill="#fde7d2"/>
<rect x="300.93" y="385.32" width="12.29" height="4.09" fill="#fef2e6"/>
<rect x="300.93" y="393.41" width="12.29" height="4.09" fill="#fef5eb"/>
<rect x="313.32" y="385.32" width="12.29" height="4.09" fill="#feefe1"/>
<rect x="313.32" y="393.41" width="12.29" height="4.09" fill="#fef1e4"/>
<rect x="325.76" y="385.32" width="12.44" height="12.18" fill="#00432f"/>
<rect x="338.15" y="385.32" width="12.44" height="12.18" fill="#d4d7f1"/>
<rect x="350.54" y="385.32" width="12.44" height="12.18" fill="#c7d2ee"/>
<rect x="362.93" y="385.32" width="12.44" height="12.18" fill="#c6d2ee"/>
<rect x="375.32" y="385.32" width="12.44" height="12.18" fill="#fffeff"/>
<rect x="400.10" y="385.32" width="12.44" height="12.18" fill="#fef9fd"/>
<rect x="28.35" y="397.45" width="12.29" height="4.09" fill="#fce0c5"/>
<rect x="28.35" y="405.54" width="12.29" height="4.09" fill="#fce2c7"/>
<rect x="40.74" y="397.45" width="12.29" height="4.09" fill="#fcdfc2"/>
<rect x="40.74" y="405.54" width="12.29" height="4.09" fill="#fcdfc2"/>
<rect x="53.13" y="397.45" width="12.29" height="4.09" fill="#fce0c5"/>
<rect x="53.13" y="405.54" width="12.29" height="4.09" fill="#fcdfc2"/>
<rect x="65.52" y="397.45" width="12.29" height="4.09" fill="#fce1c7"/>
<rect x="65.52" y="405.54" width="12.29" height="4.09" fill="#fde3c9"/>
<rect x="77.91" y="397.45" width="12.29" height="4.09" fill="#fce0c5"/>
<rect x="77.91" y="405.54" width="12.29" height="4.09" fill="#fce0c5"/>
<rect x="90.30" y="397.45" width="12.29" height="4.09" fill="#fce2c8"/>
<rect x="90.30" y="405.54" width="12.29" height="4.09" fill="#fce0c5"/>
<rect x="102.69" y="397.45" width="12.29" height="4.09" fill="#fde5ce"/>
<rect x="102.69" y="405.54" width="12.29" height="4.09" fill="#fde6d0"/>
<rect x="115.08" y="397.45" width="12.29" height="4.09" fill="#fde7d2"/>
<rect x="115.08" y="405.54" width="12.29" height="4.09" fill="#fde7d2"/>
<rect x="127.47" y="397.45" width="12.29" height="4.09" fill="#fde9d5"/>
<rect x="127.47" y="405.54" width="12.29" height="4.09" fill="#fde8d3"/>
<rect x="139.86" y="397.45" width="12.29" height="4.09" fill="#fdebda"/>
<rect x="139.86" y="405.54" width="12.29" height="4.09" fill="#fdeddc"/>
<rect x="152.25" y="397.45" width="12.29" height="4.09" fill="#fde9d6"/>
<rect x="152.25" y="405.54" width="12.29" height="4.09" fill="#fde9d6"/>
<rect x="164.64" y="397.45" width="12.29" height="4.09" fill="#fde7d2"/>
<rect x="164.64" y="405.54" width="12.29" height="4.09" fill="#fde6d0"/>
<rect x="177.03" y="397.45" width="12.29" height="4.09" fill="#fde7d1"/>
<rect x="177.03" y="405.54" width="12.29" height="4.09" fill="#fde8d4"/>
<rect x="189.42" y="397.45" width="12.29" height="4.09" fill="#fde2c9"/>
<rect x="189.42" y="405.54" width="12.29" height="4.09" fill="#fde2c9"/>
<rect x="201.81" y="397.45" width="12.29" height="4.09" fill="#fde3ca"/>
<rect x="201.81" y="405.54" width="12.29" height="4.09" fill="#fce2c7"/>
<rect x="214.20" y="397.45" width="12.29" height="4.09" fill="#fde5cd"/>
<rect x="214.20" y="405.54" width="12.29" height="4.09" fill="#fde6d0"/>
<rect x="226.59" y="397.45" width="12.29" height="4.09" fill="#fdeddc"/>
<rect x="226.59" y="405.54" width="12.29" height="4.09" fill="#fdeddc"/>
<rect x="238.98" y="397.45" width="12.29" height="4.09" fill="#fdeddc"/>
<rect x="238.98" y="405.54" width="12.29" height="4.09" fill="#fdebda"/>
<rect x="251.37" y="397.45" width="12.29" height="4.09" fill="#fde9d5"/>
<rect x="251.37" y="405.54" width="12.29" height="4.09" fill="#fdead8"/>
<rect x="263.76" y="397.45" width="12.29" height="4.09" fill="#fde6d0"/>
<rect x="263.76" y="405.54" width="12.29" height="4.09" fill="#fde6d0"/>
<rect x="276.15" y="397.45" width="12.29" height="4.09" fill="#fdead7"/>
<rect x="276.15" y="405.54" width="12.29" height="4.09" fill="#fde8d4"/>
<rect x="288.54" y="397.45" width="12.29" height="4.09" fill="#fde7d1"/>
<rect x="288.54" y="405.54" width="12.29" height="4.09" fill="#fde8d4"/>
<rect x="300.93" y="397.45" width="12.29" height="4.09" fill="#fef1e4"/>
<rect x="300.93" y="405.54" width="12.29" height="4.09" fill="#fef1e4"/>
<rect x="313.32" y="397.45" width="12.29" height="4.09" fill="#fdecdb"/>
<rect x="313.32" y="405.54" width="12.29" height="4.09" fill="#fdebd9"/>
<rect x="325.71" y="397.45" width="12.29" height="4.09" fill="#fef4eb"/>
<rect x="325.71" y="405.54" width="12.29" height="4.09" fill="#fef6ed"/>
<rect x="338.15" y="397.45" width="12.44" height="12.18" fill="#00432f"/>
<rect x="350.54" y="397.45" width="12.44" height="12.18" fill="#8ebce4"/>
<rect x="362.93" y="397.45" width="12.44" height="12.18" fill="#92bde4"/>
<rect x="375.32" y="397.45" width="12.44" height="12.18" fill="#fefafd"/>
<rect x="400.10" y="397.45" width="12.44" height="12.18" fill="#fefafd"/>
<rect x="28.35" y="409.58" width="12.29" height="4.09" fill="#fce2c7"/>
<rect x="28.35" y="417.67" width="12.29" height="4.09" fill="#fce0c5"/>
<rect x="40.74" y="409.58" width="12.29" height="4.09" fill="#fce0c5"/>
<rect x="40.74" y="417.67" width="12.29" height="4.09" fill="#fcdec0"/>
<rect x="53.13" y="409.58" width="12.29" height="4.09" fill="#fce2c8"/>
<rect x="53.13" y="417.67" width="12.29" height="4.09" fill="#fce2c8"/>
<rect x="65.52" y="409.58" width="12.29" height="4.09" fill="#fde3c9"/>
<rect x="65.52" y="417.67" width="12.29" height="4.09" fill="#fce1c7"/>
<rect x="77.91" y="409.58" width="12.29" height="4.09" fill="#fce2c9"/>
<rect x="77.91" y="417.67" width="12.29" height="4.09" fill="#fcdfc3"/>
<rect x="90.30" y="409.58" width="12.29" height="4.09" fill="#fde3cb"/>
<rect x="90.30" y="417.67" width="12.29" height="4.09" fill="#fde3cb"/>
<rect x="102.69" y="409.58" width="12.29" height="4.09" fill="#fde6d0"/>
<rect x="102.69" y="417.67" width="12.29" height="4.09" fill="#fde5ce"/>
<rect x="115.08" y="409.58" width="12.29" height="4.09" fill="#fdead7"/>
<rect x="115.08" y="417.67" width="12.29" height="4.09" fill="#fde7d2"/>
<rect x="127.47" y="409.58" width="12.29" height="4.09" fill="#fdebda"/>
<rect x="127.47" y="417.67" width="12.29" height="4.09" fill="#fdebda"/>
<rect x="139.86" y="409.58" width="12.29" height="4.09" fill="#fdeede"/>
<rect x="139.86" y="417.67" width="12.29" height="4.09" fill="#fdecdc"/>
<rect x="152.25" y="409.58" width="12.29" height="4.09" fill="#fde9d6"/>
<rect x="152.25" y="417.67" width="12.29" height="4.09" fill="#fde7d1"/>
<rect x="164.64" y="409.58" width="12.29" height="4.09" fill="#fde6d0"/>
<rect x="164.64" y="417.67" width="12.29" height="4.09" fill="#fde6d0"/>
<rect x="177.03" y="409.58" width="12.29" height="4.09" fill="#fde6d0"/>
<rect x="177.03" y="417.67" width="12.29" height="4.09" fill="#fde5ce"/>
<rect x="189.42" y="409.58" width="12.29" height="4.09" fill="#fde4cc"/>
<rect x="189.42" y="417.67" width="12.29" height="4.09" fill="#fce2c7"/>
<rect x="201.81" y="409.58" width="12.29" height="4.09" fill="#fde6cf"/>
<rect x="201.81" y="417.67" width="12.29" height="4.09" fill="#fde6cf"/>
<rect x="214.20" y="409.58" width="12.29" height="4.09" fill="#fde9d6"/>
<rect x="214.20" y="417.67" width="12.29" height="4.09" fill="#fde8d3"/>
<rect x="226.59" y="409.58" width="12.29" height="4.09" fill="#fdecdb"/>
<rect x="226.59" y="417.67" width="12.29" height="4.09" fill="#fde9d5"/>
<rect x="238.98" y="409.58" width="12.29" height="4.09" fill="#fdecdb"/>
<rect x="238.98" y="417.67" width="12.29" height="4.09" fill="#fdecdb"/>
<rect x="251.37" y="409.58" width="12.29" height="4.09" fill="#feeedf"/>
<rect x="251.37" y="417.67" width="12.29" height="4.09" fill="#fdeddd"/>
<rect x="263.76" y="409.58" width="12.29" height="4.09" fill="#fdead8"/>
<rect x="263.76" y="417.67" width="12.29" height="4.09" fill="#fde8d3"/>
<rect x="276.15" y="409.58" width="12.29" height="4.09" fill="#fde9d6"/>
<rect x="276.15" y="417.67" width="12.29" height="4.09" fill="#fde9d6"/>
<rect x="288.54" y="409.58" width="12.29" height="4.09" fill="#fdead7"/>
<rect x="288.54" y="417.67" width="12.29" height="4.09" fill="#fde8d4"/>
<rect x="300.93" y="409.58" width="12.29" height="4.09" fill="#fef0e2"/>
<rect x="300.93" y="417.67" width="12.29" height="4.09" fill="#fdeddd"/>
<rect x="313.32" y="409.58" width="12.29" height="4.09" fill="#fef3e9"/>
<rect x="313.32" y="417.67" width="12.29" height="4.09" fill="#fef3e9"/>
<rect x="325.71" y="409.58" width="12.29" height="4.09" fill="#fef8f2"/>
<rect x="325.71" y="417.67" width="12.29" height="4.09" fill="#fef7ef"/>
<rect x="338.10" y="409.58" width="12.29" height="4.09" fill="#fffefc"/>
<rect x="338.10" y="417.67" width="12.29" height="4.09" fill="#fffefc"/>
<rect x="350.54" y="409.58" width="12.44" height="12.18" fill="#00432f"/>
<rect x="362.93" y="409.58" width="12.44" height="12.18" fill="#035850"/>
<rect x="375.32" y="409.58" width="12.44" height="12.18" fill="#fffbfe"/>
<rect x="400.10" y="409.58" width="12.44" height="12.18" fill="#fef9fd"/>
<rect x="28.35" y="421.71" width="12.29" height="4.09" fill="#fcdfc2"/>
<rect x="28.35" y="429.80" width="12.29" height="4.09" fill="#fcdfc2"/>
<rect x="40.74" y="421.71" width="12.29" height="4.09" fill="#fcddbf"/>
<rect x="40.74" y="429.80" width="12.29" height="4.09" fill="#fce0c5"/>
<rect x="53.13" y="421.71" width="12.29" height="4.09" fill="#fcdfc3"/>
<rect x="53.13" y="429.80" width="12.29" height="4.09" fill="#fce0c5"/>
<rect x="65.52" y="421.71" width="12.29" height="4.09" fill="#fce0c4"/>
<rect x="65.52" y="429.80" width="12.29" height="4.09" fill="#fce0c4"/>
<rect x="77.91" y="421.71" width="12.29" height="4.09" fill="#fcdfc2"/>
<rect x="77.91" y="429.80" width="12.29" height="4.09" fill="#fce2c8"/>
<rect x="90.30" y="421.71" width="12.29" height="4.09" fill="#fce0c5"/>
<rect x="90.30" y="429.80" width="12.29" height="4.09" fill="#fce2c8"/>
<rect x="102.69" y="421.71" width="12.29" height="4.09" fill="#fde5cd"/>
<rect x="102.69" y="429.80" width="12.29" height="4.09" fill="#fde5cd"/>
<rect x="115.08" y="421.71" width="12.29" height="4.09" fill="#fde7d1"/>
<rect x="115.08" y="429.80" width="12.29" height="4.09" fill="#fde9d6"/>
<rect x="127.47" y="421.71" width="12.29" height="4.09" fill="#fdecdb"/>
<rect x="127.47" y="429.80" width="12.29" height="4.09" fill="#fdedde"/>
<rect x="139.86" y="421.71" width="12.29" height="4.09" fill="#fdebda"/>
<rect x="139.86" y="429.80" width="12.29" height="4.09" fill="#fdebda"/>
<rect x="152.25" y="421.71" width="12.29" height="4.09" fill="#fde6d0"/>
<rect x="152.25" y="429.80" width="12.29" height="4.09" fill="#fde9d5"/>
<rect x="164.64" y="421.71" width="12.29" height="4.09" fill="#fde4cc"/>
<rect x="164.64" y="429.80" width="12.29" height="4.09" fill="#fde6cf"/>
<rect x="177.03" y="421.71" width="12.29" height="4.09" fill="#fde4cc"/>
<rect x="177.03" y="429.80" width="12.29" height="4.09" fill="#fde4cc"/>
<rect x="189.42" y="421.71" width="12.29" height="4.09" fill="#fce2c8"/>
<rect x="189.42" y="429.80" width="12.29" height="4.09" fill="#fde4cd"/>
<rect x="201.81" y="421.71" width="12.29" height="4.09" fill="#fde3c9"/>
<rect x="201.81" y="429.80" width="12.29" height="4.09" fill="#fde4cc"/>
<rect x="214.20" y="421.71" width="12.29" height="4.09" fill="#fde6d0"/>
<rect x="214.20" y="429.80" width="12.29" height="4.09" fill="#fde6d0"/>
<rect x="226.59" y="421.71" width="12.29" height="4.09" fill="#fde9d6"/>
<rect x="226.59" y="429.80" width="12.29" height="4.09" fill="#fdecdb"/>
<rect x="238.98" y="421.71" width="12.29" height="4.09" fill="#fde9d6"/>
<rect x="238.98" y="429.80" width="12.29" height="4.09" fill="#fdebd8"/>
<rect x="251.37" y="421.71" width="12.29" height="4.09" fill="#fdecdb"/>
<rect x="251.37" y="429.80" width="12.29" height="4.09" fill="#fdecdb"/>
<rect x="263.76" y="421.71" width="12.29" height="4.09" fill="#fde8d3"/>
<rect x="263.76" y="429.80" width="12.29" height="4.09" fill="#fdebd9"/>
<rect x="276.15" y="421.71" width="12.29" height="4.09" fill="#fde7d1"/>
<rect x="276.15" y="429.80" width="12.29" height="4.09" fill="#fde8d3"/>
<rect x="288.54" y="421.71" width="12.29" height="4.09" fill="#fde6cf"/>
<rect x="288.54" y="429.80" width="12.29" height="4.09" fill="#fde6cf"/>
<rect x="300.93" y="421.71" width="12.29" height="4.09" fill="#fdecdb"/>
<rect x="300.93" y="429.80" width="12.29" height="4.09" fill="#feefe0"/>
<rect x="313.32" y="421.71" width="12.29" height="4.09" fill="#fef0e3"/>
<rect x="313.32" y="429.80" width="12.29" height="4.09" fill="#fef2e6"/>
<rect x="325.71" y="421.71" width="12.29" height="4.09" fill="#fef6ed"/>
<rect x="325.71" y="429.80" width="12.29" height="4.09" fill="#fef6ed"/>
<rect x="338.10" y="421.71" width="12.29" height="4.09" fill="#fffdfb"/>
<rect x="338.10" y="429.80" width="12.29" height="4.09" fill="#fffdfb"/>
<rect x="350.49" y="421.71" width="12.29" height="4.09" fill="#ffffff"/>
<rect x="350.49" y="429.80" width="12.29" height="4.09" fill="#ffffff"/>
<rect x="362.93" y="421.71" width="12.44" height="12.18" fill="#00432f"/>
<rect x="375.32" y="421.71" width="12.44" height="12.18" fill="#fffcfe"/>
<rect x="400.10" y="421.71" width="12.44" height="12.18" fill="#fefafd"/>
<rect x="28.35" y="433.84" width="12.29" height="4.09" fill="#fbd3ac"/>
<rect x="28.35" y="441.93" width="12.29" height="4.09" fill="#fbd5af"/>
<rect x="40.74" y="433.84" width="12.29" height="4.09" fill="#fbd3ac"/>
<rect x="40.74" y="441.93" width="12.29" height="4.09" fill="#fbd3ac"/>
<rect x="53.13" y="433.84" width="12.29" height="4.09" fill="#fbd3ac"/>
<rect x="53.13" y="441.93" width="12.29" height="4.09" fill="#fbd2aa"/>
<rect x="65.52" y="433.84" width="12.29" height="4.09" fill="#fbd3ac"/>
<rect x="65.52" y="441.93" width="12.29" height="4.09" fill="#fbd5af"/>
<rect x="77.91" y="433.84" width="12.29" height="4.09" fill="#fbd3ac"/>
<rect x="77.91" y="441.93" width="12.29" height="4.09" fill="#fbd3ac"/>
<rect x="90.30" y="433.84" width="12.29" height="4.09" fill="#fbd3ac"/>
<rect x="90.30" y="441.93" width="12.29" height="4.09" fill="#fbd2aa"/>
<rect x="102.69" y="433.84" width="12.29" height="4.09" fill="#fbd3ac"/>
<rect x="102.69" y="441.93" width="12.29" height="4.09" fill="#fbd5af"/>
<rect x="115.08" y="433.84" width="12.29" height="4.09" fill="#fbd3ac"/>
<rect x="115.08" y="441.93" width="12.29" height="4.09" fill="#fbd3ac"/>
<rect x="127.47" y="433.84" width="12.29" height="4.09" fill="#fbd3ac"/>
<rect x="127.47" y="441.93" width="12.29" height="4.09" fill="#fbd2aa"/>
<rect x="139.86" y="433.84" width="12.29" height="4.09" fill="#fbd3ac"/>
<rect x="139.86" y="441.93" width="12.29" height="4.09" fill="#fbd5af"/>
<rect x="152.25" y="433.84" width="12.29" height="4.09" fill="#fbd3ac"/>
<rect x="152.25" y="441.93" width="12.29" height="4.09" fill="#fbd3ac"/>
<rect x="164.64" y="433.84" width="12.29" height="4.09" fill="#fbd3ac"/>
<rect x="164.64" y="441.93" width="12.29" height="4.09" fill="#fbd2aa"/>
<rect x="177.03" y="433.84" width="12.29" height="4.09" fill="#fbd3ac"/>
<rect x="177.03" y="441.93" width="12.29" height="4.09" fill="#fbd5af"/>
<rect x="189.42" y="433.84" width="12.29" height="4.09" fill="#fbd3ac"/>
<rect x="189.42" y="441.93" width="12.29" height="4.09" fill="#fbd3ac"/>
<rect x="201.81" y="433.84" width="12.29" height="4.09" fill="#fbd3ac"/>
<rect x="201.81" y="441.93" width="12.29" height="4.09" fill="#fbd2aa"/>
<rect x="214.20" y="433.84" width="12.29" height="4.09" fill="#fbd3ac"/>
<rect x="214.20" y="441.93" width="12.29" height="4.09" fill="#fbd5af"/>
<rect x="226.59" y="433.84" width="12.29" height="4.09" fill="#fbd3ac"/>
<rect x="226.59" y="441.93" width="12.29" height="4.09" fill="#fbd3ac"/>
<rect x="238.98" y="433.84" width="12.29" height="4.09" fill="#fbd3ac"/>
<rect x="238.98" y="441.93" width="12.29" height="4.09" fill="#fbd2aa"/>
<rect x="251.37" y="433.84" width="12.29" height="4.09" fill="#fbd3ac"/>
<rect x="251.37" y="441.93" width="12.29" height="4.09" fill="#fbd5af"/>
<rect x="263.76" y="433.84" width="12.29" height="4.09" fill="#fbd3ac"/>
<rect x="263.76" y="441.93" width="12.29" height="4.09" fill="#fbd3ac"/>
<rect x="276.15" y="433.84" width="12.29" height="4.09" fill="#fbd3ac"/>
<rect x="276.15" y="441.93" width="12.29" height="4.09" fill="#fbd2aa"/>
<rect x="288.54" y="433.84" width="12.29" height="4.09" fill="#fbd3ac"/>
<rect x="288.54" y="441.93" width="12.29" height="4.09" fill="#fbd5af"/>
<rect x="300.93" y="433.84" width="12.29" height="4.09" fill="#fbd3ac"/>
<rect x="300.93" y="441.93" width="12.29" height="4.09" fill="#fbd3ac"/>
<rect x="313.32" y="433.84" width="12.29" height="4.09" fill="#fbd3ac"/>
<rect x="313.32" y="441.93" width="12.29" height="4.09" fill="#fbd2aa"/>
<rect x="325.71" y="433.84" width="12.29" height="4.09" fill="#fbd3ac"/>
<rect x="325.71" y="441.93" width="12.29" height="4.09" fill="#fbd5af"/>
<rect x="338.10" y="433.84" width="12.29" height="4.09" fill="#fbd3ac"/>
<rect x="338.10" y="441.93" width="12.29" height="4.09" fill="#fbd3ac"/>
<rect x="350.49" y="433.84" width="12.29" height="4.09" fill="#fbd3ac"/>
<rect x="350.49" y="441.93" width="12.29" height="4.09" fill="#fbd2aa"/>
<rect x="362.88" y="433.84" width="12.29" height="4.09" fill="#fbd3ac"/>
<rect x="362.88" y="441.93" width="12.29" height="4.09" fill="#fbd5af"/>
<rect x="375.32" y="433.84" width="12.44" height="12.18" fill="#00432f"/>
<rect x="387.71" y="433.84" width="12.44" height="12.18" fill="#fcf4fb"/>
<rect x="400.10" y="433.84" width="12.44" height="12.18" fill="#fbf1fa"/>
<rect x="28.35" y="445.97" width="12.29" height="4.09" fill="#fbd5af"/>
<rect x="28.35" y="454.06" width="12.29" height="4.09" fill="#fbd3ac"/>
<rect x="40.74" y="445.97" width="12.29" height="4.09" fill="#fbd5af"/>
<rect x="40.74" y="454.06" width="12.29" height="4.09" fill="#fbd2aa"/>
<rect x="53.13" y="445.97" width="12.29" height="4.09" fill="#fbd5af"/>
<rect x="53.13" y="454.06" width="12.29" height="4.09" fill="#fbd5af"/>
<rect x="65.52" y="445.97" width="12.29" height="4.09" fill="#fbd5af"/>
<rect x="65.52" y="454.06" width="12.29" height="4.09" fill="#fbd3ac"/>
<rect x="77.91" y="445.97" width="12.29" height="4.09" fill="#fbd5af"/>
<rect x="77.91" y="454.06" width="12.29" height="4.09" fill="#fbd2aa"/>
<rect x="90.30" y="445.97" width="12.29" height="4.09" fill="#fbd5af"/>
<rect x="90.30" y="454.06" width="12.29" height="4.09" fill="#fbd5af"/>
<rect x="102.69" y="445.97" width="12.29" height="4.09" fill="#fbd5af"/>
<rect x="102.69" y="454.06" width="12.29" height="4.09" fill="#fbd3ac"/>
<rect x="115.08" y="445.97" width="12.29" height="4.09" fill="#fbd5af"/>
<rect x="115.08" y="454.06" width="12.29" height="4.09" fill="#fbd2aa"/>
<rect x="127.47" y="445.97" width="12.29" height="4.09" fill="#fbd5af"/>
<rect x="127.47" y="454.06" width="12.29" height="4.09" fill="#fbd5af"/>
<rect x="139.86" y="445.97" width="12.29" height="4.09" fill="#fbd5af"/>
<rect x="139.86" y="454.06" width="12.29" height="4.09" fill="#fbd3ac"/>
<rect x="152.25" y="445.97" width="12.29" height="4.09" fill="#fbd5af"/>
<rect x="152.25" y="454.06" width="12.29" height="4.09" fill="#fbd2aa"/>
<rect x="164.64" y="445.97" width="12.29" height="4.09" fill="#fbd5af"/>
<rect x="164.64" y="454.06" width="12.29" height="4.09" fill="#fbd5af"/>
<rect x="177.03" y="445.97" width="12.29" height="4.09" fill="#fbd5af"/>
<rect x="177.03" y="454.06" width="12.29" height="4.09" fill="#fbd3ac"/>
<rect x="189.42" y="445.97" width="12.29" height="4.09" fill="#fbd5af"/>
<rect x="189.42" y="454.06" width="12.29" height="4.09" fill="#fbd2aa"/>
<rect x="201.81" y="445.97" width="12.29" height="4.09" fill="#fbd5af"/>
<rect x="201.81" y="454.06" width="12.29" height="4.09" fill="#fbd5af"/>
<rect x="214.20" y="445.97" width="12.29" height="4.09" fill="#fbd5af"/>
<rect x="214.20" y="454.06" width="12.29" height="4.09" fill="#fbd3ac"/>
<rect x="226.59" y="445.97" width="12.29" height="4.09" fill="#fbd5af"/>
<rect x="226.59" y="454.06" width="12.29" height="4.09" fill="#fbd2aa"/>
<rect x="238.98" y="445.97" width="12.29" height="4.09" fill="#fbd5af"/>
<rect x="238.98" y="454.06" width="12.29" height="4.09" fill="#fbd5af"/>
<rect x="251.37" y="445.97" width="12.29" height="4.09" fill="#fbd5af"/>
<rect x="251.37" y="454.06" width="12.29" height="4.09" fill="#fbd3ac"/>
<rect x="263.76" y="445.97" width="12.29" height="4.09" fill="#fbd5af"/>
<rect x="263.76" y="454.06" width="12.29" height="4.09" fill="#fbd2aa"/>
<rect x="276.15" y="445.97" width="12.29" height="4.09" fill="#fbd5af"/>
<rect x="276.15" y="454.06" width="12.29" height="4.09" fill="#fbd5af"/>
<rect x="288.54" y="445.97" width="12.29" height="4.09" fill="#fbd5af"/>
<rect x="288.54" y="454.06" width="12.29" height="4.09" fill="#fbd3ac"/>
<rect x="300.93" y="445.97" width="12.29" height="4.09" fill="#fbd5af"/>
<rect x="300.93" y="454.06" width="12.29" height="4.09" fill="#fbd2aa"/>
<rect x="313.32" y="445.97" width="12.29" height="4.09" fill="#fbd5af"/>
<rect x="313.32" y="454.06" width="12.29" height="4.09" fill="#fbd5af"/>
<rect x="325.71" y="445.97" width="12.29" height="4.09" fill="#fbd5af"/>
<rect x="325.71" y="454.06" width="12.29" height="4.09" fill="#fbd3ac"/>
<rect x="338.10" y="445.97" width="12.29" height="4.09" fill="#fbd5af"/>
<rect x="338.10" y="454.06" width="12.29" height="4.09" fill="#fbd2aa"/>
<rect x="350.49" y="445.97" width="12.29" height="4.09" fill="#fbd5af"/>
<rect x="350.49" y="454.06" width="12.29" height="4.09" fill="#fbd5af"/>
<rect x="362.88" y="445.97" width="12.29" height="4.09" fill="#fbd5af"/>
<rect x="362.88" y="454.06" width="12.29" height="4.09" fill="#fbd3ac"/>
<rect x="375.27" y="445.97" width="12.29" height="4.09" fill="#fbd5af"/>
<rect x="375.27" y="454.06" width="12.29" height="4.09" fill="#fbd2aa"/>
<rect x="387.71" y="445.97" width="12.44" height="12.18" fill="#00432f"/>
<rect x="400.10" y="445.97" width="12.44" height="12.18" fill="#1a9cc8"/>
<rect x="28.35" y="458.10" width="12.29" height="4.09" fill="#fbd2aa"/>
<rect x="28.35" y="466.19" width="12.29" height="4.09" fill="#fbd2aa"/>
<rect x="40.74" y="458.10" width="12.29" height="4.09" fill="#fbd2aa"/>
<rect x="40.74" y="466.19" width="12.29" height="4.09" fill="#fbd5af"/>
<rect x="53.13" y="458.10" width="12.29" height="4.09" fill="#fbd2aa"/>
<rect x="53.13" y="466.19" width="12.29" height="4.09" fill="#fbd3ac"/>
<rect x="65.52" y="458.10" width="12.29" height="4.09" fill="#fbd2aa"/>
<rect x="65.52" y="466.19" width="12.29" height="4.09" fill="#fbd2aa"/>
<rect x="77.91" y="458.10" width="12.29" height="4.09" fill="#fbd2aa"/>
<rect x="77.91" y="466.19" width="12.29" height="4.09" fill="#fbd5af"/>
<rect x="90.30" y="458.10" width="12.29" height="4.09" fill="#fbd2aa"/>
<rect x="90.30" y="466.19" width="12.29" height="4.09" fill="#fbd3ac"/>
<rect x="102.69" y="458.10" width="12.29" height="4.09" fill="#fbd2aa"/>
<rect x="102.69" y="466.19" width="12.29" height="4.09" fill="#fbd2aa"/>
<rect x="115.08" y="458.10" width="12.29" height="4.09" fill="#fbd2aa"/>
<rect x="115.08" y="466.19" width="12.29" height="4.09" fill="#fbd5af"/>
<rect x="127.47" y="458.10" width="12.29" height="4.09" fill="#fbd2aa"/>
<rect x="127.47" y="466.19" width="12.29" height="4.09" fill="#fbd3ac"/>
<rect x="139.86" y="458.10" width="12.29" height="4.09" fill="#fbd2aa"/>
<rect x="139.86" y="466.19" width="12.29" height="4.09" fill="#fbd2aa"/>
<rect x="152.25" y="458.10" width="12.29" height="4.09" fill="#fbd2aa"/>
<rect x="152.25" y="466.19" width="12.29" height="4.09" fill="#fbd5af"/>
<rect x="164.64" y="458.10" width="12.29" height="4.09" fill="#fbd2aa"/>
<rect x="164.64" y="466.19" width="12.29" height="4.09" fill="#fbd3ac"/>
<rect x="177.03" y="458.10" width="12.29" height="4.09" fill="#fbd2aa"/>
<rect x="177.03" y="466.19" width="12.29" height="4.09" fill="#fbd2aa"/>
<rect x="189.42" y="458.10" width="12.29" height="4.09" fill="#fbd2aa"/>
<rect x="189.42" y="466.19" width="12.29" height="4.09" fill="#fbd5af"/>
<rect x="201.81" y="458.10" width="12.29" height="4.09" fill="#fbd2aa"/>
<rect x="201.81" y="466.19" width="12.29" height="4.09" fill="#fbd3ac"/>
<rect x="214.20" y="458.10" width="12.29" height="4.09" fill="#fbd2aa"/>
<rect x="214.20" y="466.19" width="12.29" height="4.09" fill="#fbd2aa"/>
<rect x="226.59" y="458.10" width="12.29" height="4.09" fill="#fbd2aa"/>
<rect x="226.59" y="466.19" width="12.29" height="4.09" fill="#fbd5af"/>
<rect x="238.98" y="458.10" width="12.29" height="4.09" fill="#fbd2aa"/>
<rect x="238.98" y="466.19" width="12.29" height="4.09" fill="#fbd3ac"/>
<rect x="251.37" y="458.10" width="12.29" height="4.09" fill="#fbd2aa"/>
<rect x="251.37" y="466.19" width="12.29" height="4.09" fill="#fbd2aa"/>
<rect x="263.76" y="458.10" width="12.29" height="4.09" fill="#fbd2aa"/>
<rect x="263.76" y="466.19" width="12.29" height="4.09" fill="#fbd5af"/>
<rect x="276.15" y="458.10" width="12.29" height="4.09" fill="#fbd2aa"/>
<rect x="276.15" y="466.19" width="12.29" height="4.09" fill="#fbd3ac"/>
<rect x="288.54" y="458.10" width="12.29" height="4.09" fill="#fbd2aa"/>
<rect x="288.54" y="466.19" width="12.29" height="4.09" fill="#fbd2aa"/>
<rect x="300.93" y="458.10" width="12.29" height="4.09" fill="#fbd2aa"/>
<rect x="300.93" y="466.19" width="12.29" height="4.09" fill="#fbd5af"/>
<rect x="313.32" y="458.10" width="12.29" height="4.09" fill="#fbd2aa"/>
<rect x="313.32" y="466.19" width="12.29" height="4.09" fill="#fbd3ac"/>
<rect x="325.71" y="458.10" width="12.29" height="4.09" fill="#fbd2aa"/>
<rect x="325.71" y="466.19" width="12.29" height="4.09" fill="#fbd2aa"/>
<rect x="338.10" y="458.10" width="12.29" height="4.09" fill="#fbd2aa"/>
<rect x="338.10" y="466.19" width="12.29" height="4.09" fill="#fbd5af"/>
<rect x="350.49" y="458.10" width="12.29" height="4.09" fill="#fbd2aa"/>
<rect x="350.49" y="466.19" width="12.29" height="4.09" fill="#fbd3ac"/>
<rect x="362.88" y="458.10" width="12.29" height="4.09" fill="#fbd2aa"/>
<rect x="362.88" y="466.19" width="12.29" height="4.09" fill="#fbd2aa"/>
<rect x="375.27" y="458.10" width="12.29" height="4.09" fill="#fbd2aa"/>
<rect x="375.27" y="466.19" width="12.29" height="4.09" fill="#fbd5af"/>
<rect x="387.66" y="458.10" width="12.29" height="4.09" fill="#ffffff"/>
<rect x="387.66" y="466.19" width="12.29" height="4.09" fill="#ffffff"/>
<rect x="400.10" y="458.10" width="12.44" height="12.18" fill="#00432f"/>
<rect x="28.35" y="470.23" width="12.29" height="4.09" fill="#fbd3ac"/>
<rect x="28.35" y="478.32" width="12.29" height="4.09" fill="#fbd5af"/>
<rect x="40.74" y="470.23" width="12.29" height="4.09" fill="#fbd3ac"/>
<rect x="40.74" y="478.32" width="12.29" height="4.09" fill="#fbd3ac"/>
<rect x="53.13" y="470.23" width="12.29" height="4.09" fill="#fbd3ac"/>
<rect x="53.13" y="478.32" width="12.29" height="4.09" fill="#fbd2aa"/>
<rect x="65.52" y="470.23" width="12.29" height="4.09" fill="#fbd3ac"/>
<rect x="65.52" y="478.32" width="12.29" height="4.09" fill="#fbd5af"/>
<rect x="77.91" y="470.23" width="12.29" height="4.09" fill="#fbd3ac"/>
<rect x="77.91" y="478.32" width="12.29" height="4.09" fill="#fbd3ac"/>
<rect x="90.30" y="470.23" width="12.29" height="4.09" fill="#fbd3ac"/>
<rect x="90.30" y="478.32" width="12.29" height="4.09" fill="#fbd2aa"/>
<rect x="102.69" y="470.23" width="12.29" height="4.09" fill="#fbd3ac"/>
<rect x="102.69" y="478.32" width="12.29" height="4.09" fill="#fbd5af"/>
<rect x="115.08" y="470.23" width="12.29" height="4.09" fill="#fbd3ac"/>
<rect x="115.08" y="478.32" width="12.29" height="4.09" fill="#fbd3ac"/>
<rect x="127.47" y="470.23" width="12.29" height="4.09" fill="#fbd3ac"/>
<rect x="127.47" y="478.32" width="12.29" height="4.09" fill="#fbd2aa"/>
<rect x="139.86" y="470.23" width="12.29" height="4.09" fill="#fbd3ac"/>
<rect x="139.86" y="478.32" width="12.29" height="4.09" fill="#fbd5af"/>
<rect x="152.25" y="470.23" width="12.29" height="4.09" fill="#fbd3ac"/>
<rect x="152.25" y="478.32" width="12.29" height="4.09" fill="#fbd3ac"/>
<rect x="164.64" y="470.23" width="12.29" height="4.09" fill="#fbd3ac"/>
<rect x="164.64" y="478.32" width="12.29" height="4.09" fill="#fbd2aa"/>
<rect x="177.03" y="470.23" width="12.29" height="4.09" fill="#fbd3ac"/>
<rect x="177.03" y="478.32" width="12.29" height="4.09" fill="#fbd5af"/>
<rect x="189.42" y="470.23" width="12.29" height="4.09" fill="#fbd3ac"/>
<rect x="189.42" y="478.32" width="12.29" height="4.09" fill="#fbd3ac"/>
<rect x="201.81" y="470.23" width="12.29" height="4.09" fill="#fbd3ac"/>
<rect x="201.81" y="478.32" width="12.29" height="4.09" fill="#fbd2aa"/>
<rect x="214.20" y="470.23" width="12.29" height="4.09" fill="#fbd3ac"/>
<rect x="214.20" y="478.32" width="12.29" height="4.09" fill="#fbd5af"/>
<rect x="226.59" y="470.23" width="12.29" height="4.09" fill="#fbd3ac"/>
<rect x="226.59" y="478.32" width="12.29" height="4.09" fill="#fbd3ac"/>
<rect x="238.98" y="470.23" width="12.29" height="4.09" fill="#fbd3ac"/>
<rect x="238.98" y="478.32" width="12.29" height="4.09" fill="#fbd2aa"/>
<rect x="251.37" y="470.23" width="12.29" height="4.09" fill="#fbd3ac"/>
<rect x="251.37" y="478.32" width="12.29" height="4.09" fill="#fbd5af"/>
<rect x="263.76" y="470.23" width="12.29" height="4.09" fill="#fbd3ac"/>
<rect x="263.76" y="478.32" width="12.29" height="4.09" fill="#fbd3ac"/>
<rect x="276.15" y="470.23" width="12.29" height="4.09" fill="#fbd3ac"/>
<rect x="276.15" y="478.32" width="12.29" height="4.09" fill="#fbd2aa"/>
<rect x="288.54" y="470.23" width="12.29" height="4.09" fill="#fbd3ac"/>
<rect x="288.54" y="478.32" width="12.29" height="4.09" fill="#fbd5af"/>
<rect x="300.93" y="470.23" width="12.29" height="4.09" fill="#fbd3ac"/>
<rect x="300.93" y="478.32" width="12.29" height="4.09" fill="#fbd3ac"/>
<rect x="313.32" y="470.23" width="12.29" height="4.09" fill="#fbd3ac"/>
<rect x="313.32" y="478.32" width="12.29" height="4.09" fill="#fbd2aa"/>
<rect x="325.71" y="470.23" width="12.29" height="4.09" fill="#fbd3ac"/>
<rect x="325.71" y="478.32" width="12.29" height="4.09" fill="#fbd5af"/>
<rect x="338.10" y="470.23" width="12.29" height="4.09" fill="#fbd3ac"/>
<rect x="338.10" y="478.32" width="12.29" height="4.09" fill="#fbd3ac"/>
<rect x="350.49" y="470.23" width="12.29" height="4.09" fill="#fbd3ac"/>
<rect x="350.49" y="478.32" width="12.29" height="4.09" fill="#fbd2aa"/>
<rect x="362.88" y="470.23" width="12.29" height="4.09" fill="#fbd3ac"/>
<rect x="362.88" y="478.32" width="12.29" height="4.09" fill="#fbd5af"/>
<rect x="375.27" y="470.23" width="12.29" height="4.09" fill="#fbd3ac"/>
<rect x="375.27" y="478.32" width="12.29" height="4.09" fill="#fbd3ac"/>
<rect x="387.66" y="470.23" width="12.29" height="4.09" fill="#fbd3ac"/>
<rect x="387.66" y="478.32" width="12.29" height="4.09" fill="#fbd2aa"/>
<rect x="400.05" y="470.23" width="12.29" height="4.09" fill="#fbd3ac"/>
<rect x="400.05" y="478.32" width="12.29" height="4.09" fill="#fbd5af"/>
<rect x="412.49" y="470.23" width="12.44" height="12.18" fill="#00432f"/>
<rect x="28.35" y="482.36" width="12.29" height="4.09" fill="#fbd5af"/>
<rect x="28.35" y="490.45" width="12.29" height="4.09" fill="#fbd3ac"/>
<rect x="40.74" y="482.36" width="12.29" height="4.09" fill="#fbd5af"/>
<rect x="40.74" y="490.45" width="12.29" height="4.09" fill="#fbd2aa"/>
<rect x="53.13" y="482.36" width="12.29" height="4.09" fill="#fbd5af"/>
<rect x="53.13" y="490.45" width="12.29" height="4.09" fill="#fbd5af"/>
<rect x="65.52" y="482.36" width="12.29" height="4.09" fill="#fbd5af"/>
<rect x="65.52" y="490.45" width="12.29" height="4.09" fill="#fbd3ac"/>
<rect x="77.91" y="482.36" width="12.29" height="4.09" fill="#fbd5af"/>
<rect x="77.91" y="490.45" width="12.29" height="4.09" fill="#fbd2aa"/>
<rect x="90.30" y="482.36" width="12.29" height="4.09" fill="#fbd5af"/>
<rect x="90.30" y="490.45" width="12.29" height="4.09" fill="#fbd5af"/>
<rect x="102.69" y="482.36" width="12.29" height="4.09" fill="#fbd5af"/>
<rect x="102.69" y="490.45" width="12.29" height="4.09" fill="#fbd3ac"/>
<rect x="115.08" y="482.36" width="12.29" height="4.09" fill="#fbd5af"/>
<rect x="115.08" y="490.45" width="12.29" height="4.09" fill="#fbd2aa"/>
<rect x="127.47" y="482.36" width="12.29" height="4.09" fill="#fbd5af"/>
<rect x="127.47" y="490.45" width="12.29" height="4.09" fill="#fbd5af"/>
<rect x="139.86" y="482.36" width="12.29" height="4.09" fill="#fbd5af"/>
<rect x="139.86" y="490.45" width="12.29" height="4.09" fill="#fbd3ac"/>
<rect x="152.25" y="482.36" width="12.29" height="4.09" fill="#fbd5af"/>
<rect x="152.25" y="490.45" width="12.29" height="4.09" fill="#fbd2aa"/>
<rect x="164.64" y="482.36" width="12.29" height="4.09" fill="#fbd5af"/>
<rect x="164.64" y="490.45" width="12.29" height="4.09" fill="#fbd5af"/>
<rect x="177.03" y="482.36" width="12.29" height="4.09" fill="#fbd5af"/>
<rect x="177.03" y="490.45" width="12.29" height="4.09" fill="#fbd3ac"/>
<rect x="189.42" y="482.36" width="12.29" height="4.09" fill="#fbd5af"/>
<rect x="189.42" y="490.45" width="12.29" height="4.09" fill="#fbd2aa"/>
<rect x="201.81" y="482.36" width="12.29" height="4.09" fill="#fbd5af"/>
<rect x="201.81" y="490.45" width="12.29" height="4.09" fill="#fbd5af"/>
<rect x="214.20" y="482.36" width="12.29" height="4.09" fill="#fbd5af"/>
<rect x="214.20" y="490.45" width="12.29" height="4.09" fill="#fbd3ac"/>
<rect x="226.59" y="482.36" width="12.29" height="4.09" fill="#fbd5af"/>
<rect x="226.59" y="490.45" width="12.29" height="4.09" fill="#fbd2aa"/>
<rect x="238.98" y="482.36" width="12.29" height="4.09" fill="#fbd5af"/>
<rect x="238.98" y="490.45" width="12.29" height="4.09" fill="#fbd5af"/>
<rect x="251.37" y="482.36" width="12.29" height="4.09" fill="#fbd5af"/>
<rect x="251.37" y="490.45" width="12.29" height="4.09" fill="#fbd3ac"/>
<rect x="263.76" y="482.36" width="12.29" height="4.09" fill="#fbd5af"/>
<rect x="263.76" y="490.45" width="12.29" height="4.09" fill="#fbd2aa"/>
<rect x="276.15" y="482.36" width="12.29" height="4.09" fill="#fbd5af"/>
<rect x="276.15" y="490.45" width="12.29" height="4.09" fill="#fbd5af"/>
<rect x="288.54" y="482.36" width="12.29" height="4.09" fill="#fbd5af"/>
<rect x="288.54" y="490.45" width="12.29" height="4.09" fill="#fbd3ac"/>
<rect x="300.93" y="482.36" width="12.29" height="4.09" fill="#fbd5af"/>
<rect x="300.93" y="490.45" width="12.29" height="4.09" fill="#fbd2aa"/>
<rect x="313.32" y="482.36" width="12.29" height="4.09" fill="#fbd5af"/>
<rect x="313.32" y="490.45" width="12.29" height="4.09" fill="#fbd5af"/>
<rect x="325.71" y="482.36" width="12.29" height="4.09" fill="#fbd5af"/>
<rect x="325.71" y="490.45" width="12.29" height="4.09" fill="#fbd3ac"/>
<rect x="338.10" y="482.36" width="12.29" height="4.09" fill="#fbd5af"/>
<rect x="338.10" y="490.45" width="12.29" height="4.09" fill="#fbd2aa"/>
<rect x="350.49" y="482.36" width="12.29" height="4.09" fill="#fbd5af"/>
<rect x="350.49" y="490.45" width="12.29" height="4.09" fill="#fbd5af"/>
<rect x="362.88" y="482.36" width="12.29" height="4.09" fill="#fbd5af"/>
<rect x="362.88" y="490.45" width="12.29" height="4.09" fill="#fbd3ac"/>
<rect x="375.27" y="482.36" width="12.29" height="4.09" fill="#fbd5af"/>
<rect x="375.27" y="490.45" width="12.29" height="4.09" fill="#fbd2aa"/>
<rect x="387.66" y="482.36" width="12.29" height="4.09" fill="#fbd5af"/>
<rect x="387.66" y="490.45" width="12.29" height="4.09" fill="#fbd5af"/>
<rect x="400.05" y="482.36" width="12.29" height="4.09" fill="#fbd5af"/>
<rect x="400.05" y="490.45" width="12.29" height="4.09" fill="#fbd3ac"/>
<rect x="412.44" y="482.36" width="12.29" height="4.09" fill="#fbd5af"/>
<rect x="412.44" y="490.45" width="12.29" height="4.09" fill="#fbd2aa"/>
<rect x="424.88" y="482.36" width="12.44" height="12.18" fill="#00432f"/>
</g>
<g>
<text class="u" transform="translate(34.59,102.31) scale(0.87,1)" fill="#012e20">100.0</text>
<text class="u" transform="translate(46.98,102.31) scale(0.87,1)" fill="#262626" stroke="#262626">14.0</text>
<text class="u" transform="translate(59.38,102.31) scale(0.87,1)" fill="#262626" stroke="#262626">22.4</text>
<text class="u" transform="translate(71.76,102.31) scale(0.87,1)" fill="#4a4a4a" stroke="#4a4a4a">9.9</text>
<text class="u" transform="translate(84.16,102.31) scale(0.87,1)" fill="#4a4a4a" stroke="#4a4a4a">5.9</text>
<text class="u" transform="translate(96.54,102.31) scale(0.87,1)" fill="#4a4a4a" stroke="#4a4a4a">8.7</text>
<text class="u" transform="translate(108.94,102.31) scale(0.87,1)" fill="#262626" stroke="#262626">11.1</text>
<text class="u" transform="translate(121.32,102.31) scale(0.87,1)" fill="#4a4a4a" stroke="#4a4a4a">9.8</text>
<text class="u" transform="translate(133.72,102.31) scale(0.87,1)" fill="#262626" stroke="#262626">10.8</text>
<text class="u" transform="translate(146.10,102.31) scale(0.87,1)" fill="#4a4a4a" stroke="#4a4a4a">9.6</text>
<text class="u" transform="translate(158.50,102.31) scale(0.87,1)" fill="#262626" stroke="#262626">10.6</text>
<text class="u" transform="translate(170.89,102.31) scale(0.87,1)" fill="#262626" stroke="#262626">11.0</text>
<text class="u" transform="translate(183.28,102.31) scale(0.87,1)" fill="#262626" stroke="#262626">11.1</text>
<text class="u" transform="translate(195.66,102.31) scale(0.87,1)" fill="#262626" stroke="#262626">10.5</text>
<text class="u" transform="translate(208.06,102.31) scale(0.87,1)" fill="#4a4a4a" stroke="#4a4a4a">9.2</text>
<text class="u" transform="translate(220.45,102.31) scale(0.87,1)" fill="#4a4a4a" stroke="#4a4a4a">7.3</text>
<text class="u" transform="translate(232.84,102.31) scale(0.87,1)" fill="#262626" stroke="#262626">10.8</text>
<text class="u" transform="translate(245.22,102.31) scale(0.87,1)" fill="#262626" stroke="#262626">10.8</text>
<text class="u" transform="translate(257.62,102.31) scale(0.87,1)" fill="#262626" stroke="#262626">10.2</text>
<text class="u" transform="translate(270.00,102.31) scale(0.87,1)" fill="#4a4a4a" stroke="#4a4a4a">9.2</text>
<text class="u" transform="translate(282.39,102.31) scale(0.87,1)" fill="#4a4a4a" stroke="#4a4a4a">9.3</text>
<text class="u" transform="translate(294.78,102.31) scale(0.87,1)" fill="#4a4a4a" stroke="#4a4a4a">9.3</text>
<text class="u" transform="translate(307.18,102.31) scale(0.87,1)" fill="#262626" stroke="#262626">10.0</text>
<text class="u" transform="translate(319.56,102.31) scale(0.87,1)" fill="#262626" stroke="#262626">10.3</text>
<text class="u" transform="translate(331.95,102.31) scale(0.87,1)" fill="#262626" stroke="#262626">10.4</text>
<text class="u" transform="translate(344.34,102.31) scale(0.87,1)" fill="#262626" stroke="#262626">10.4</text>
<text class="u" transform="translate(356.73,102.31) scale(0.87,1)" fill="#262626" stroke="#262626">10.6</text>
<text class="u" transform="translate(369.12,102.31) scale(0.87,1)" fill="#262626" stroke="#262626">10.7</text>
<text class="u" transform="translate(381.51,102.31) scale(0.87,1)" fill="#4a4a4a" stroke="#4a4a4a">1.1</text>
<text class="u" transform="translate(393.90,102.31) scale(0.87,1)" fill="#8a8a8a" stroke="#8a8a8a">0.3</text>
<text class="u" transform="translate(406.30,102.31) scale(0.87,1)" fill="#4a4a4a" stroke="#4a4a4a">4.8</text>
<text class="u" transform="translate(418.69,102.31) scale(0.87,1)" fill="#8a8a8a" stroke="#8a8a8a">0.2</text>
<text class="u" transform="translate(431.07,102.31) scale(0.87,1)" fill="#8a8a8a" stroke="#8a8a8a">0.7</text>
<text class="u" transform="translate(46.98,114.44) scale(0.87,1)" fill="#012e20">100.0</text>
<text class="u" transform="translate(59.38,114.44) scale(0.87,1)" fill="#262626" stroke="#262626">28.1</text>
<text class="u" transform="translate(71.76,114.44) scale(0.87,1)" fill="#4a4a4a" stroke="#4a4a4a">9.0</text>
<text class="u" transform="translate(84.16,114.44) scale(0.87,1)" fill="#4a4a4a" stroke="#4a4a4a">8.7</text>
<text class="u" transform="translate(96.54,114.44) scale(0.87,1)" fill="#4a4a4a" stroke="#4a4a4a">6.2</text>
<text class="u" transform="translate(108.94,114.44) scale(0.87,1)" fill="#4a4a4a" stroke="#4a4a4a">5.0</text>
<text class="u" transform="translate(121.32,114.44) scale(0.87,1)" fill="#4a4a4a" stroke="#4a4a4a">6.8</text>
<text class="u" transform="translate(133.72,114.44) scale(0.87,1)" fill="#4a4a4a" stroke="#4a4a4a">5.7</text>
<text class="u" transform="translate(146.10,114.44) scale(0.87,1)" fill="#4a4a4a" stroke="#4a4a4a">7.7</text>
<text class="u" transform="translate(158.50,114.44) scale(0.87,1)" fill="#4a4a4a" stroke="#4a4a4a">6.7</text>
<text class="u" transform="translate(170.89,114.44) scale(0.87,1)" fill="#4a4a4a" stroke="#4a4a4a">5.4</text>
<text class="u" transform="translate(183.28,114.44) scale(0.87,1)" fill="#4a4a4a" stroke="#4a4a4a">5.4</text>
<text class="u" transform="translate(195.66,114.44) scale(0.87,1)" fill="#4a4a4a" stroke="#4a4a4a">6.8</text>
<text class="u" transform="translate(208.06,114.44) scale(0.87,1)" fill="#4a4a4a" stroke="#4a4a4a">8.5</text>
<text class="u" transform="translate(220.45,114.44) scale(0.87,1)" fill="#262626" stroke="#262626">12.0</text>
<text class="u" transform="translate(232.84,114.44) scale(0.87,1)" fill="#4a4a4a" stroke="#4a4a4a">7.3</text>
<text class="u" transform="translate(245.22,114.44) scale(0.87,1)" fill="#4a4a4a" stroke="#4a4a4a">7.5</text>
<text class="u" transform="translate(257.62,114.44) scale(0.87,1)" fill="#4a4a4a" stroke="#4a4a4a">6.9</text>
<text class="u" transform="translate(270.00,114.44) scale(0.87,1)" fill="#4a4a4a" stroke="#4a4a4a">5.7</text>
<text class="u" transform="translate(282.39,114.44) scale(0.87,1)" fill="#4a4a4a" stroke="#4a4a4a">7.5</text>
<text class="u" transform="translate(294.78,114.44) scale(0.87,1)" fill="#4a4a4a" stroke="#4a4a4a">6.7</text>
<text class="u" transform="translate(307.18,114.44) scale(0.87,1)" fill="#4a4a4a" stroke="#4a4a4a">6.5</text>
<text class="u" transform="translate(319.56,114.44) scale(0.87,1)" fill="#4a4a4a" stroke="#4a4a4a">7.3</text>
<text class="u" transform="translate(331.95,114.44) scale(0.87,1)" fill="#4a4a4a" stroke="#4a4a4a">8.5</text>
<text class="u" transform="translate(344.34,114.44) scale(0.87,1)" fill="#4a4a4a" stroke="#4a4a4a">7.8</text>
<text class="u" transform="translate(356.73,114.44) scale(0.87,1)" fill="#4a4a4a" stroke="#4a4a4a">7.7</text>
<text class="u" transform="translate(369.12,114.44) scale(0.87,1)" fill="#4a4a4a" stroke="#4a4a4a">7.4</text>
<text class="u" transform="translate(381.51,114.44) scale(0.87,1)" fill="#4a4a4a" stroke="#4a4a4a">2.9</text>
<text class="u" transform="translate(393.90,114.44) scale(0.87,1)" fill="#4a4a4a" stroke="#4a4a4a">3.6</text>
<text class="u" transform="translate(406.30,114.44) scale(0.87,1)" fill="#4a4a4a" stroke="#4a4a4a">8.8</text>
<text class="u" transform="translate(418.69,114.44) scale(0.87,1)" fill="#8a8a8a" stroke="#8a8a8a">0.0</text>
<text class="u" transform="translate(431.07,114.44) scale(0.87,1)" fill="#8a8a8a" stroke="#8a8a8a">0.1</text>
<text class="u" transform="translate(59.38,126.58) scale(0.87,1)" fill="#012e20">100.0</text>
<text class="u" transform="translate(71.76,126.58) scale(0.87,1)" fill="#262626" stroke="#262626">10.6</text>
<text class="u" transform="translate(84.16,126.58) scale(0.87,1)" fill="#4a4a4a" stroke="#4a4a4a">7.2</text>
<text class="u" transform="translate(96.54,126.58) scale(0.87,1)" fill="#262626" stroke="#262626">10.7</text>
<text class="u" transform="translate(108.94,126.58) scale(0.87,1)" fill="#4a4a4a" stroke="#4a4a4a">9.2</text>
<text class="u" transform="translate(121.32,126.58) scale(0.87,1)" fill="#262626" stroke="#262626">10.3</text>
<text class="u" transform="translate(133.72,126.58) scale(0.87,1)" fill="#4a4a4a" stroke="#4a4a4a">9.9</text>
<text class="u" transform="translate(146.10,126.58) scale(0.87,1)" fill="#262626" stroke="#262626">10.4</text>
<text class="u" transform="translate(158.50,126.58) scale(0.87,1)" fill="#262626" stroke="#262626">11.1</text>
<text class="u" transform="translate(170.89,126.58) scale(0.87,1)" fill="#262626" stroke="#262626">10.2</text>
<text class="u" transform="translate(183.28,126.58) scale(0.87,1)" fill="#262626" stroke="#262626">10.2</text>
<text class="u" transform="translate(195.66,126.58) scale(0.87,1)" fill="#262626" stroke="#262626">10.2</text>
<text class="u" transform="translate(208.06,126.58) scale(0.87,1)" fill="#262626" stroke="#262626">10.5</text>
<text class="u" transform="translate(220.45,126.58) scale(0.87,1)" fill="#4a4a4a" stroke="#4a4a4a">9.2</text>
<text class="u" transform="translate(232.84,126.58) scale(0.87,1)" fill="#262626" stroke="#262626">11.5</text>
<text class="u" transform="translate(245.22,126.58) scale(0.87,1)" fill="#262626" stroke="#262626">11.5</text>
<text class="u" transform="translate(257.62,126.58) scale(0.87,1)" fill="#262626" stroke="#262626">10.9</text>
<text class="u" transform="translate(270.00,126.58) scale(0.87,1)" fill="#262626" stroke="#262626">10.8</text>
<text class="u" transform="translate(282.39,126.58) scale(0.87,1)" fill="#262626" stroke="#262626">10.2</text>
<text class="u" transform="translate(294.78,126.58) scale(0.87,1)" fill="#4a4a4a" stroke="#4a4a4a">9.8</text>
<text class="u" transform="translate(307.18,126.58) scale(0.87,1)" fill="#262626" stroke="#262626">10.1</text>
<text class="u" transform="translate(319.56,126.58) scale(0.87,1)" fill="#262626" stroke="#262626">11.4</text>
<text class="u" transform="translate(331.95,126.58) scale(0.87,1)" fill="#262626" stroke="#262626">10.5</text>
<text class="u" transform="translate(344.34,126.58) scale(0.87,1)" fill="#262626" stroke="#262626">10.4</text>
<text class="u" transform="translate(356.73,126.58) scale(0.87,1)" fill="#262626" stroke="#262626">11.7</text>
<text class="u" transform="translate(369.12,126.58) scale(0.87,1)" fill="#262626" stroke="#262626">11.9</text>
<text class="u" transform="translate(381.51,126.58) scale(0.87,1)" fill="#4a4a4a" stroke="#4a4a4a">1.7</text>
<text class="u" transform="translate(393.90,126.58) scale(0.87,1)" fill="#8a8a8a" stroke="#8a8a8a">0.8</text>
<text class="u" transform="translate(406.30,126.58) scale(0.87,1)" fill="#4a4a4a" stroke="#4a4a4a">5.8</text>
<text class="u" transform="translate(418.69,126.58) scale(0.87,1)" fill="#8a8a8a" stroke="#8a8a8a">0.3</text>
<text class="u" transform="translate(431.07,126.58) scale(0.87,1)" fill="#8a8a8a" stroke="#8a8a8a">0.4</text>
<text class="u" transform="translate(71.76,138.71) scale(0.87,1)" fill="#012e20">100.0</text>
<text class="u" transform="translate(84.16,138.71) scale(0.87,1)" fill="#262626" stroke="#262626">38.1</text>
<text class="u" transform="translate(96.54,138.71) scale(0.87,1)" fill="#262626" stroke="#262626">15.7</text>
<text class="u" transform="translate(108.94,138.71) scale(0.87,1)" fill="#262626" stroke="#262626">15.0</text>
<text class="u" transform="translate(121.32,138.71) scale(0.87,1)" fill="#262626" stroke="#262626">15.8</text>
<text class="u" transform="translate(133.72,138.71) scale(0.87,1)" fill="#262626" stroke="#262626">14.9</text>
<text class="u" transform="translate(146.10,138.71) scale(0.87,1)" fill="#262626" stroke="#262626">16.6</text>
<text class="u" transform="translate(158.50,138.71) scale(0.87,1)" fill="#262626" stroke="#262626">15.4</text>
<text class="u" transform="translate(170.89,138.71) scale(0.87,1)" fill="#262626" stroke="#262626">14.9</text>
<text class="u" transform="translate(183.28,138.71) scale(0.87,1)" fill="#262626" stroke="#262626">14.9</text>
<text class="u" transform="translate(195.66,138.71) scale(0.87,1)" fill="#262626" stroke="#262626">15.8</text>
<text class="u" transform="translate(208.06,138.71) scale(0.87,1)" fill="#262626" stroke="#262626">14.6</text>
<text class="u" transform="translate(220.45,138.71) scale(0.87,1)" fill="#262626" stroke="#262626">16.1</text>
<text class="u" transform="translate(232.84,138.71) scale(0.87,1)" fill="#262626" stroke="#262626">16.3</text>
<text class="u" transform="translate(245.22,138.71) scale(0.87,1)" fill="#262626" stroke="#262626">16.5</text>
<text class="u" transform="translate(257.62,138.71) scale(0.87,1)" fill="#262626" stroke="#262626">15.6</text>
<text class="u" transform="translate(270.00,138.71) scale(0.87,1)" fill="#262626" stroke="#262626">15.1</text>
<text class="u" transform="translate(282.39,138.71) scale(0.87,1)" fill="#262626" stroke="#262626">16.7</text>
<text class="u" transform="translate(294.78,138.71) scale(0.87,1)" fill="#262626" stroke="#262626">15.8</text>
<text class="u" transform="translate(307.18,138.71) scale(0.87,1)" fill="#262626" stroke="#262626">16.7</text>
<text class="u" transform="translate(319.56,138.71) scale(0.87,1)" fill="#262626" stroke="#262626">16.9</text>
<text class="u" transform="translate(331.95,138.71) scale(0.87,1)" fill="#262626" stroke="#262626">17.3</text>
<text class="u" transform="translate(344.34,138.71) scale(0.87,1)" fill="#262626" stroke="#262626">17.5</text>
<text class="u" transform="translate(356.73,138.71) scale(0.87,1)" fill="#262626" stroke="#262626">17.2</text>
<text class="u" transform="translate(369.12,138.71) scale(0.87,1)" fill="#262626" stroke="#262626">17.2</text>
<text class="u" transform="translate(381.51,138.71) scale(0.87,1)" fill="#4a4a4a" stroke="#4a4a4a">4.5</text>
<text class="u" transform="translate(393.90,138.71) scale(0.87,1)" fill="#4a4a4a" stroke="#4a4a4a">3.3</text>
<text class="u" transform="translate(406.30,138.71) scale(0.87,1)" fill="#262626" stroke="#262626">10.3</text>
<text class="u" transform="translate(418.69,138.71) scale(0.87,1)" fill="#8a8a8a" stroke="#8a8a8a">0.0</text>
<text class="u" transform="translate(431.07,138.71) scale(0.87,1)" fill="#8a8a8a" stroke="#8a8a8a">0.0</text>
<text class="u" transform="translate(84.16,150.84) scale(0.87,1)" fill="#012e20">100.0</text>
<text class="u" transform="translate(96.54,150.84) scale(0.87,1)" fill="#262626" stroke="#262626">10.4</text>
<text class="u" transform="translate(108.94,150.84) scale(0.87,1)" fill="#262626" stroke="#262626">11.6</text>
<text class="u" transform="translate(121.32,150.84) scale(0.87,1)" fill="#262626" stroke="#262626">13.1</text>
<text class="u" transform="translate(133.72,150.84) scale(0.87,1)" fill="#262626" stroke="#262626">12.8</text>
<text class="u" transform="translate(146.10,150.84) scale(0.87,1)" fill="#262626" stroke="#262626">14.4</text>
<text class="u" transform="translate(158.50,150.84) scale(0.87,1)" fill="#262626" stroke="#262626">13.2</text>
<text class="u" transform="translate(170.89,150.84) scale(0.87,1)" fill="#262626" stroke="#262626">12.8</text>
<text class="u" transform="translate(183.28,150.84) scale(0.87,1)" fill="#262626" stroke="#262626">12.8</text>
<text class="u" transform="translate(195.66,150.84) scale(0.87,1)" fill="#262626" stroke="#262626">10.7</text>
<text class="u" transform="translate(208.06,150.84) scale(0.87,1)" fill="#262626" stroke="#262626">10.0</text>
<text class="u" transform="translate(220.45,150.84) scale(0.87,1)" fill="#262626" stroke="#262626">14.0</text>
<text class="u" transform="translate(232.84,150.84) scale(0.87,1)" fill="#262626" stroke="#262626">11.0</text>
<text class="u" transform="translate(245.22,150.84) scale(0.87,1)" fill="#262626" stroke="#262626">11.1</text>
<text class="u" transform="translate(257.62,150.84) scale(0.87,1)" fill="#262626" stroke="#262626">10.8</text>
<text class="u" transform="translate(270.00,150.84) scale(0.87,1)" fill="#262626" stroke="#262626">10.2</text>
<text class="u" transform="translate(282.39,150.84) scale(0.87,1)" fill="#262626" stroke="#262626">10.4</text>
<text class="u" transform="translate(294.78,150.84) scale(0.87,1)" fill="#262626" stroke="#262626">10.4</text>
<text class="u" transform="translate(307.18,150.84) scale(0.87,1)" fill="#262626" stroke="#262626">12.0</text>
<text class="u" transform="translate(319.56,150.84) scale(0.87,1)" fill="#262626" stroke="#262626">11.4</text>
<text class="u" transform="translate(331.95,150.84) scale(0.87,1)" fill="#262626" stroke="#262626">12.4</text>
<text class="u" transform="translate(344.34,150.84) scale(0.87,1)" fill="#262626" stroke="#262626">11.5</text>
<text class="u" transform="translate(356.73,150.84) scale(0.87,1)" fill="#262626" stroke="#262626">14.9</text>
<text class="u" transform="translate(369.12,150.84) scale(0.87,1)" fill="#262626" stroke="#262626">10.7</text>
<text class="u" transform="translate(381.51,150.84) scale(0.87,1)" fill="#4a4a4a" stroke="#4a4a4a">8.6</text>
<text class="u" transform="translate(393.90,150.84) scale(0.87,1)" fill="#4a4a4a" stroke="#4a4a4a">6.6</text>
<text class="u" transform="translate(406.30,150.84) scale(0.87,1)" fill="#262626" stroke="#262626">14.7</text>
<text class="u" transform="translate(418.69,150.84) scale(0.87,1)" fill="#8a8a8a" stroke="#8a8a8a">0.0</text>
<text class="u" transform="translate(431.07,150.84) scale(0.87,1)" fill="#8a8a8a" stroke="#8a8a8a">0.0</text>
<text class="u" transform="translate(96.54,162.97) scale(0.87,1)" fill="#012e20">100.0</text>
<text class="u" transform="translate(108.94,162.97) scale(0.87,1)" fill="#262626" stroke="#262626">18.8</text>
<text class="u" transform="translate(121.32,162.97) scale(0.87,1)" fill="#262626" stroke="#262626">20.0</text>
<text class="u" transform="translate(133.72,162.97) scale(0.87,1)" fill="#262626" stroke="#262626">16.7</text>
<text class="u" transform="translate(146.10,162.97) scale(0.87,1)" fill="#262626" stroke="#262626">19.8</text>
<text class="u" transform="translate(158.50,162.97) scale(0.87,1)" fill="#262626" stroke="#262626">19.5</text>
<text class="u" transform="translate(170.89,162.97) scale(0.87,1)" fill="#262626" stroke="#262626">18.5</text>
<text class="u" transform="translate(183.28,162.97) scale(0.87,1)" fill="#262626" stroke="#262626">18.5</text>
<text class="u" transform="translate(195.66,162.97) scale(0.87,1)" fill="#262626" stroke="#262626">16.9</text>
<text class="u" transform="translate(208.06,162.97) scale(0.87,1)" fill="#262626" stroke="#262626">19.4</text>
<text class="u" transform="translate(220.45,162.97) scale(0.87,1)" fill="#262626" stroke="#262626">18.1</text>
<text class="u" transform="translate(232.84,162.97) scale(0.87,1)" fill="#262626" stroke="#262626">18.0</text>
<text class="u" transform="translate(245.22,162.97) scale(0.87,1)" fill="#262626" stroke="#262626">18.0</text>
<text class="u" transform="translate(257.62,162.97) scale(0.87,1)" fill="#262626" stroke="#262626">17.6</text>
<text class="u" transform="translate(270.00,162.97) scale(0.87,1)" fill="#262626" stroke="#262626">16.8</text>
<text class="u" transform="translate(282.39,162.97) scale(0.87,1)" fill="#262626" stroke="#262626">17.6</text>
<text class="u" transform="translate(294.78,162.97) scale(0.87,1)" fill="#262626" stroke="#262626">17.7</text>
<text class="u" transform="translate(307.18,162.97) scale(0.87,1)" fill="#262626" stroke="#262626">18.6</text>
<text class="u" transform="translate(319.56,162.97) scale(0.87,1)" fill="#262626" stroke="#262626">20.0</text>
<text class="u" transform="translate(331.95,162.97) scale(0.87,1)" fill="#262626" stroke="#262626">20.7</text>
<text class="u" transform="translate(344.34,162.97) scale(0.87,1)" fill="#262626" stroke="#262626">20.7</text>
<text class="u" transform="translate(356.73,162.97) scale(0.87,1)" fill="#262626" stroke="#262626">22.4</text>
<text class="u" transform="translate(369.12,162.97) scale(0.87,1)" fill="#262626" stroke="#262626">22.2</text>
<text class="u" transform="translate(381.51,162.97) scale(0.87,1)" fill="#4a4a4a" stroke="#4a4a4a">2.5</text>
<text class="u" transform="translate(393.90,162.97) scale(0.87,1)" fill="#8a8a8a" stroke="#8a8a8a">0.8</text>
<text class="u" transform="translate(406.30,162.97) scale(0.87,1)" fill="#4a4a4a" stroke="#4a4a4a">8.2</text>
<text class="u" transform="translate(418.69,162.97) scale(0.87,1)" fill="#8a8a8a" stroke="#8a8a8a">0.7</text>
<text class="u" transform="translate(431.07,162.97) scale(0.87,1)" fill="#8a8a8a" stroke="#8a8a8a">0.1</text>
<text class="u" transform="translate(108.94,175.10) scale(0.87,1)" fill="#012e20">100.0</text>
<text class="u" transform="translate(121.32,175.10) scale(0.87,1)" fill="#262626" stroke="#262626">35.0</text>
<text class="u" transform="translate(133.72,175.10) scale(0.87,1)" fill="#262626" stroke="#262626">30.7</text>
<text class="u" transform="translate(146.10,175.10) scale(0.87,1)" fill="#262626" stroke="#262626">29.4</text>
<text class="u" transform="translate(158.50,175.10) scale(0.87,1)" fill="#262626" stroke="#262626">29.5</text>
<text class="u" transform="translate(170.89,175.10) scale(0.87,1)" fill="#262626" stroke="#262626">33.6</text>
<text class="u" transform="translate(183.28,175.10) scale(0.87,1)" fill="#262626" stroke="#262626">33.4</text>
<text class="u" transform="translate(195.66,175.10) scale(0.87,1)" fill="#262626" stroke="#262626">21.5</text>
<text class="u" transform="translate(208.06,175.10) scale(0.87,1)" fill="#262626" stroke="#262626">25.3</text>
<text class="u" transform="translate(220.45,175.10) scale(0.87,1)" fill="#262626" stroke="#262626">20.9</text>
<text class="u" transform="translate(232.84,175.10) scale(0.87,1)" fill="#262626" stroke="#262626">27.8</text>
<text class="u" transform="translate(245.22,175.10) scale(0.87,1)" fill="#262626" stroke="#262626">27.6</text>
<text class="u" transform="translate(257.62,175.10) scale(0.87,1)" fill="#262626" stroke="#262626">25.8</text>
<text class="u" transform="translate(270.00,175.10) scale(0.87,1)" fill="#262626" stroke="#262626">25.1</text>
<text class="u" transform="translate(282.39,175.10) scale(0.87,1)" fill="#262626" stroke="#262626">25.7</text>
<text class="u" transform="translate(294.78,175.10) scale(0.87,1)" fill="#262626" stroke="#262626">31.0</text>
<text class="u" transform="translate(307.18,175.10) scale(0.87,1)" fill="#262626" stroke="#262626">29.2</text>
<text class="u" transform="translate(319.56,175.10) scale(0.87,1)" fill="#262626" stroke="#262626">27.8</text>
<text class="u" transform="translate(331.95,175.10) scale(0.87,1)" fill="#262626" stroke="#262626">30.3</text>
<text class="u" transform="translate(344.34,175.10) scale(0.87,1)" fill="#262626" stroke="#262626">32.6</text>
<text class="u" transform="translate(356.73,175.10) scale(0.87,1)" fill="#262626" stroke="#262626">32.7</text>
<text class="u" transform="translate(369.12,175.10) scale(0.87,1)" fill="#262626" stroke="#262626">34.0</text>
<text class="u" transform="translate(381.51,175.10) scale(0.87,1)" fill="#4a4a4a" stroke="#4a4a4a">7.3</text>
<text class="u" transform="translate(393.90,175.10) scale(0.87,1)" fill="#8a8a8a" stroke="#8a8a8a">0.8</text>
<text class="u" transform="translate(406.30,175.10) scale(0.87,1)" fill="#262626" stroke="#262626">15.2</text>
<text class="u" transform="translate(418.69,175.10) scale(0.87,1)" fill="#8a8a8a" stroke="#8a8a8a">0.2</text>
<text class="u" transform="translate(431.07,175.10) scale(0.87,1)" fill="#8a8a8a" stroke="#8a8a8a">0.0</text>
<text class="u" transform="translate(121.32,187.23) scale(0.87,1)" fill="#012e20">100.0</text>
<text class="u" transform="translate(133.72,187.23) scale(0.87,1)" fill="#262626" stroke="#262626">30.2</text>
<text class="u" transform="translate(146.10,187.23) scale(0.87,1)" fill="#262626" stroke="#262626">39.8</text>
<text class="u" transform="translate(158.50,187.23) scale(0.87,1)" fill="#262626" stroke="#262626">38.6</text>
<text class="u" transform="translate(170.89,187.23) scale(0.87,1)" fill="#262626" stroke="#262626">34.1</text>
<text class="u" transform="translate(183.28,187.23) scale(0.87,1)" fill="#262626" stroke="#262626">32.7</text>
<text class="u" transform="translate(195.66,187.23) scale(0.87,1)" fill="#262626" stroke="#262626">25.2</text>
<text class="u" transform="translate(208.06,187.23) scale(0.87,1)" fill="#262626" stroke="#262626">29.7</text>
<text class="u" transform="translate(220.45,187.23) scale(0.87,1)" fill="#262626" stroke="#262626">25.9</text>
<text class="u" transform="translate(232.84,187.23) scale(0.87,1)" fill="#262626" stroke="#262626">31.6</text>
<text class="u" transform="translate(245.22,187.23) scale(0.87,1)" fill="#262626" stroke="#262626">31.6</text>
<text class="u" transform="translate(257.62,187.23) scale(0.87,1)" fill="#262626" stroke="#262626">32.8</text>
<text class="u" transform="translate(270.00,187.23) scale(0.87,1)" fill="#262626" stroke="#262626">30.0</text>
<text class="u" transform="translate(282.39,187.23) scale(0.87,1)" fill="#262626" stroke="#262626">27.2</text>
<text class="u" transform="translate(294.78,187.23) scale(0.87,1)" fill="#262626" stroke="#262626">27.5</text>
<text class="u" transform="translate(307.18,187.23) scale(0.87,1)" fill="#262626" stroke="#262626">32.9</text>
<text class="u" transform="translate(319.56,187.23) scale(0.87,1)" fill="#262626" stroke="#262626">33.7</text>
<text class="u" transform="translate(331.95,187.23) scale(0.87,1)" fill="#262626" stroke="#262626">34.9</text>
<text class="u" transform="translate(344.34,187.23) scale(0.87,1)" fill="#262626" stroke="#262626">35.9</text>
<text class="u" transform="translate(356.73,187.23) scale(0.87,1)" fill="#262626" stroke="#262626">37.5</text>
<text class="u" transform="translate(369.12,187.23) scale(0.87,1)" fill="#262626" stroke="#262626">36.8</text>
<text class="u" transform="translate(381.51,187.23) scale(0.87,1)" fill="#4a4a4a" stroke="#4a4a4a">4.2</text>
<text class="u" transform="translate(393.90,187.23) scale(0.87,1)" fill="#8a8a8a" stroke="#8a8a8a">0.2</text>
<text class="u" transform="translate(406.30,187.23) scale(0.87,1)" fill="#262626" stroke="#262626">12.9</text>
<text class="u" transform="translate(418.69,187.23) scale(0.87,1)" fill="#8a8a8a" stroke="#8a8a8a">0.0</text>
<text class="u" transform="translate(431.07,187.23) scale(0.87,1)" fill="#8a8a8a" stroke="#8a8a8a">0.0</text>
<text class="u" transform="translate(133.72,199.36) scale(0.87,1)" fill="#012e20">100.0</text>
<text class="u" transform="translate(146.10,199.36) scale(0.87,1)" fill="#262626" stroke="#262626">33.8</text>
<text class="u" transform="translate(158.50,199.36) scale(0.87,1)" fill="#262626" stroke="#262626">33.7</text>
<text class="u" transform="translate(170.89,199.36) scale(0.87,1)" fill="#262626" stroke="#262626">33.2</text>
<text class="u" transform="translate(183.28,199.36) scale(0.87,1)" fill="#262626" stroke="#262626">33.2</text>
<text class="u" transform="translate(195.66,199.36) scale(0.87,1)" fill="#262626" stroke="#262626">22.3</text>
<text class="u" transform="translate(208.06,199.36) scale(0.87,1)" fill="#262626" stroke="#262626">23.4</text>
<text class="u" transform="translate(220.45,199.36) scale(0.87,1)" fill="#262626" stroke="#262626">24.4</text>
<text class="u" transform="translate(232.84,199.36) scale(0.87,1)" fill="#262626" stroke="#262626">29.4</text>
<text class="u" transform="translate(245.22,199.36) scale(0.87,1)" fill="#262626" stroke="#262626">29.4</text>
<text class="u" transform="translate(257.62,199.36) scale(0.87,1)" fill="#262626" stroke="#262626">28.0</text>
<text class="u" transform="translate(270.00,199.36) scale(0.87,1)" fill="#262626" stroke="#262626">29.1</text>
<text class="u" transform="translate(282.39,199.36) scale(0.87,1)" fill="#262626" stroke="#262626">30.7</text>
<text class="u" transform="translate(294.78,199.36) scale(0.87,1)" fill="#262626" stroke="#262626">28.6</text>
<text class="u" transform="translate(307.18,199.36) scale(0.87,1)" fill="#262626" stroke="#262626">31.1</text>
<text class="u" transform="translate(319.56,199.36) scale(0.87,1)" fill="#262626" stroke="#262626">34.5</text>
<text class="u" transform="translate(331.95,199.36) scale(0.87,1)" fill="#262626" stroke="#262626">38.5</text>
<text class="u" transform="translate(344.34,199.36) scale(0.87,1)" fill="#262626" stroke="#262626">38.1</text>
<text class="u" transform="translate(356.73,199.36) scale(0.87,1)" fill="#262626" stroke="#262626">39.5</text>
<text class="u" transform="translate(369.12,199.36) scale(0.87,1)" fill="#262626" stroke="#262626">43.1</text>
<text class="u" transform="translate(381.51,199.36) scale(0.87,1)" fill="#262626" stroke="#262626">22.2</text>
<text class="u" transform="translate(393.90,199.36) scale(0.87,1)" fill="#8a8a8a" stroke="#8a8a8a">0.0</text>
<text class="u" transform="translate(406.30,199.36) scale(0.87,1)" fill="#262626" stroke="#262626">10.4</text>
<text class="u" transform="translate(418.69,199.36) scale(0.87,1)" fill="#8a8a8a" stroke="#8a8a8a">0.8</text>
<text class="u" transform="translate(431.07,199.36) scale(0.87,1)" fill="#8a8a8a" stroke="#8a8a8a">0.2</text>
<text class="u" transform="translate(146.10,211.49) scale(0.87,1)" fill="#012e20">100.0</text>
<text class="u" transform="translate(158.50,211.49) scale(0.87,1)" fill="#262626" stroke="#262626">57.0</text>
<text class="u" transform="translate(170.89,211.49) scale(0.87,1)" fill="#262626" stroke="#262626">49.9</text>
<text class="u" transform="translate(183.28,211.49) scale(0.87,1)" fill="#262626" stroke="#262626">49.9</text>
<text class="u" transform="translate(195.66,211.49) scale(0.87,1)" fill="#262626" stroke="#262626">27.8</text>
<text class="u" transform="translate(208.06,211.49) scale(0.87,1)" fill="#262626" stroke="#262626">30.8</text>
<text class="u" transform="translate(220.45,211.49) scale(0.87,1)" fill="#262626" stroke="#262626">31.9</text>
<text class="u" transform="translate(232.84,211.49) scale(0.87,1)" fill="#262626" stroke="#262626">38.7</text>
<text class="u" transform="translate(245.22,211.49) scale(0.87,1)" fill="#262626" stroke="#262626">38.7</text>
<text class="u" transform="translate(257.62,211.49) scale(0.87,1)" fill="#262626" stroke="#262626">34.8</text>
<text class="u" transform="translate(270.00,211.49) scale(0.87,1)" fill="#262626" stroke="#262626">35.1</text>
<text class="u" transform="translate(282.39,211.49) scale(0.87,1)" fill="#262626" stroke="#262626">36.1</text>
<text class="u" transform="translate(294.78,211.49) scale(0.87,1)" fill="#262626" stroke="#262626">35.0</text>
<text class="u" transform="translate(307.18,211.49) scale(0.87,1)" fill="#262626" stroke="#262626">41.4</text>
<text class="u" transform="translate(319.56,211.49) scale(0.87,1)" fill="#262626" stroke="#262626">42.5</text>
<text class="u" transform="translate(331.95,211.49) scale(0.87,1)" fill="#262626" stroke="#262626">42.9</text>
<text class="u" transform="translate(344.34,211.49) scale(0.87,1)" fill="#262626" stroke="#262626">41.0</text>
<text class="u" transform="translate(356.73,211.49) scale(0.87,1)" fill="#262626" stroke="#262626">42.0</text>
<text class="u" transform="translate(369.12,211.49) scale(0.87,1)" fill="#262626" stroke="#262626">42.4</text>
<text class="u" transform="translate(381.51,211.49) scale(0.87,1)" fill="#4a4a4a" stroke="#4a4a4a">4.6</text>
<text class="u" transform="translate(393.90,211.49) scale(0.87,1)" fill="#8a8a8a" stroke="#8a8a8a">0.0</text>
<text class="u" transform="translate(406.30,211.49) scale(0.87,1)" fill="#262626" stroke="#262626">15.5</text>
<text class="u" transform="translate(418.69,211.49) scale(0.87,1)" fill="#8a8a8a" stroke="#8a8a8a">0.0</text>
<text class="u" transform="translate(431.07,211.49) scale(0.87,1)" fill="#8a8a8a" stroke="#8a8a8a">0.0</text>
<text class="u" transform="translate(158.50,223.62) scale(0.87,1)" fill="#012e20">100.0</text>
<text class="u" transform="translate(170.89,223.62) scale(0.87,1)" fill="#262626" stroke="#262626">64.9</text>
<text class="u" transform="translate(183.28,223.62) scale(0.87,1)" fill="#262626" stroke="#262626">64.9</text>
<text class="u" transform="translate(195.66,223.62) scale(0.87,1)" fill="#262626" stroke="#262626">25.6</text>
<text class="u" transform="translate(208.06,223.62) scale(0.87,1)" fill="#262626" stroke="#262626">27.3</text>
<text class="u" transform="translate(220.45,223.62) scale(0.87,1)" fill="#262626" stroke="#262626">29.8</text>
<text class="u" transform="translate(232.84,223.62) scale(0.87,1)" fill="#262626" stroke="#262626">32.9</text>
<text class="u" transform="translate(245.22,223.62) scale(0.87,1)" fill="#262626" stroke="#262626">32.9</text>
<text class="u" transform="translate(257.62,223.62) scale(0.87,1)" fill="#262626" stroke="#262626">32.7</text>
<text class="u" transform="translate(270.00,223.62) scale(0.87,1)" fill="#262626" stroke="#262626">32.6</text>
<text class="u" transform="translate(282.39,223.62) scale(0.87,1)" fill="#262626" stroke="#262626">32.8</text>
<text class="u" transform="translate(294.78,223.62) scale(0.87,1)" fill="#262626" stroke="#262626">37.0</text>
<text class="u" transform="translate(307.18,223.62) scale(0.87,1)" fill="#262626" stroke="#262626">38.4</text>
<text class="u" transform="translate(319.56,223.62) scale(0.87,1)" fill="#262626" stroke="#262626">38.3</text>
<text class="u" transform="translate(331.95,223.62) scale(0.87,1)" fill="#262626" stroke="#262626">42.1</text>
<text class="u" transform="translate(344.34,223.62) scale(0.87,1)" fill="#262626" stroke="#262626">38.6</text>
<text class="u" transform="translate(356.73,223.62) scale(0.87,1)" fill="#262626" stroke="#262626">37.0</text>
<text class="u" transform="translate(369.12,223.62) scale(0.87,1)" fill="#262626" stroke="#262626">36.3</text>
<text class="u" transform="translate(381.51,223.62) scale(0.87,1)" fill="#4a4a4a" stroke="#4a4a4a">4.6</text>
<text class="u" transform="translate(393.90,223.62) scale(0.87,1)" fill="#8a8a8a" stroke="#8a8a8a">0.2</text>
<text class="u" transform="translate(406.30,223.62) scale(0.87,1)" fill="#262626" stroke="#262626">12.5</text>
<text class="u" transform="translate(418.69,223.62) scale(0.87,1)" fill="#8a8a8a" stroke="#8a8a8a">0.0</text>
<text class="u" transform="translate(431.07,223.62) scale(0.87,1)" fill="#8a8a8a" stroke="#8a8a8a">0.1</text>
<text class="u" transform="translate(170.89,235.75) scale(0.87,1)" fill="#012e20">100.0</text>
<text class="u" transform="translate(183.28,235.75) scale(0.87,1)" fill="#012e20" stroke="#012e20">99.0</text>
<text class="u" transform="translate(195.66,235.75) scale(0.87,1)" fill="#262626" stroke="#262626">24.3</text>
<text class="u" transform="translate(208.06,235.75) scale(0.87,1)" fill="#262626" stroke="#262626">26.2</text>
<text class="u" transform="translate(220.45,235.75) scale(0.87,1)" fill="#262626" stroke="#262626">26.6</text>
<text class="u" transform="translate(232.84,235.75) scale(0.87,1)" fill="#262626" stroke="#262626">32.3</text>
<text class="u" transform="translate(245.22,235.75) scale(0.87,1)" fill="#262626" stroke="#262626">32.3</text>
<text class="u" transform="translate(257.62,235.75) scale(0.87,1)" fill="#262626" stroke="#262626">31.6</text>
<text class="u" transform="translate(270.00,235.75) scale(0.87,1)" fill="#262626" stroke="#262626">28.1</text>
<text class="u" transform="translate(282.39,235.75) scale(0.87,1)" fill="#262626" stroke="#262626">31.7</text>
<text class="u" transform="translate(294.78,235.75) scale(0.87,1)" fill="#262626" stroke="#262626">37.0</text>
<text class="u" transform="translate(307.18,235.75) scale(0.87,1)" fill="#262626" stroke="#262626">36.4</text>
<text class="u" transform="translate(319.56,235.75) scale(0.87,1)" fill="#262626" stroke="#262626">36.2</text>
<text class="u" transform="translate(331.95,235.75) scale(0.87,1)" fill="#262626" stroke="#262626">35.6</text>
<text class="u" transform="translate(344.34,235.75) scale(0.87,1)" fill="#262626" stroke="#262626">35.9</text>
<text class="u" transform="translate(356.73,235.75) scale(0.87,1)" fill="#262626" stroke="#262626">32.8</text>
<text class="u" transform="translate(369.12,235.75) scale(0.87,1)" fill="#262626" stroke="#262626">33.7</text>
<text class="u" transform="translate(381.51,235.75) scale(0.87,1)" fill="#4a4a4a" stroke="#4a4a4a">4.4</text>
<text class="u" transform="translate(393.90,235.75) scale(0.87,1)" fill="#8a8a8a" stroke="#8a8a8a">0.1</text>
<text class="u" transform="translate(406.30,235.75) scale(0.87,1)" fill="#262626" stroke="#262626">12.4</text>
<text class="u" transform="translate(418.69,235.75) scale(0.87,1)" fill="#8a8a8a" stroke="#8a8a8a">0.0</text>
<text class="u" transform="translate(431.07,235.75) scale(0.87,1)" fill="#4a4a4a" stroke="#4a4a4a">1.6</text>
<text class="u" transform="translate(183.28,247.88) scale(0.87,1)" fill="#012e20">100.0</text>
<text class="u" transform="translate(195.66,247.88) scale(0.87,1)" fill="#262626" stroke="#262626">24.3</text>
<text class="u" transform="translate(208.06,247.88) scale(0.87,1)" fill="#262626" stroke="#262626">25.1</text>
<text class="u" transform="translate(220.45,247.88) scale(0.87,1)" fill="#262626" stroke="#262626">26.8</text>
<text class="u" transform="translate(232.84,247.88) scale(0.87,1)" fill="#262626" stroke="#262626">32.2</text>
<text class="u" transform="translate(245.22,247.88) scale(0.87,1)" fill="#262626" stroke="#262626">32.2</text>
<text class="u" transform="translate(257.62,247.88) scale(0.87,1)" fill="#262626" stroke="#262626">31.6</text>
<text class="u" transform="translate(270.00,247.88) scale(0.87,1)" fill="#262626" stroke="#262626">27.9</text>
<text class="u" transform="translate(282.39,247.88) scale(0.87,1)" fill="#262626" stroke="#262626">31.7</text>
<text class="u" transform="translate(294.78,247.88) scale(0.87,1)" fill="#262626" stroke="#262626">36.7</text>
<text class="u" transform="translate(307.18,247.88) scale(0.87,1)" fill="#262626" stroke="#262626">35.9</text>
<text class="u" transform="translate(319.56,247.88) scale(0.87,1)" fill="#262626" stroke="#262626">35.8</text>
<text class="u" transform="translate(331.95,247.88) scale(0.87,1)" fill="#262626" stroke="#262626">35.6</text>
<text class="u" transform="translate(344.34,247.88) scale(0.87,1)" fill="#262626" stroke="#262626">35.0</text>
<text class="u" transform="translate(356.73,247.88) scale(0.87,1)" fill="#262626" stroke="#262626">32.8</text>
<text class="u" transform="translate(369.12,247.88) scale(0.87,1)" fill="#262626" stroke="#262626">33.6</text>
<text class="u" transform="translate(381.51,247.88) scale(0.87,1)" fill="#4a4a4a" stroke="#4a4a4a">4.4</text>
<text class="u" transform="translate(393.90,247.88) scale(0.87,1)" fill="#8a8a8a" stroke="#8a8a8a">0.2</text>
<text class="u" transform="translate(406.30,247.88) scale(0.87,1)" fill="#262626" stroke="#262626">12.4</text>
<text class="u" transform="translate(418.69,247.88) scale(0.87,1)" fill="#8a8a8a" stroke="#8a8a8a">0.0</text>
<text class="u" transform="translate(431.07,247.88) scale(0.87,1)" fill="#4a4a4a" stroke="#4a4a4a">1.5</text>
<text class="u" transform="translate(195.66,260.00) scale(0.87,1)" fill="#012e20">100.0</text>
<text class="u" transform="translate(208.06,260.00) scale(0.87,1)" fill="#262626" stroke="#262626">30.8</text>
<text class="u" transform="translate(220.45,260.00) scale(0.87,1)" fill="#262626" stroke="#262626">22.5</text>
<text class="u" transform="translate(232.84,260.00) scale(0.87,1)" fill="#262626" stroke="#262626">29.5</text>
<text class="u" transform="translate(245.22,260.00) scale(0.87,1)" fill="#262626" stroke="#262626">29.5</text>
<text class="u" transform="translate(257.62,260.00) scale(0.87,1)" fill="#262626" stroke="#262626">30.0</text>
<text class="u" transform="translate(270.00,260.00) scale(0.87,1)" fill="#262626" stroke="#262626">30.0</text>
<text class="u" transform="translate(282.39,260.00) scale(0.87,1)" fill="#262626" stroke="#262626">28.0</text>
<text class="u" transform="translate(294.78,260.00) scale(0.87,1)" fill="#262626" stroke="#262626">27.0</text>
<text class="u" transform="translate(307.18,260.00) scale(0.87,1)" fill="#262626" stroke="#262626">29.6</text>
<text class="u" transform="translate(319.56,260.00) scale(0.87,1)" fill="#262626" stroke="#262626">31.1</text>
<text class="u" transform="translate(331.95,260.00) scale(0.87,1)" fill="#262626" stroke="#262626">29.9</text>
<text class="u" transform="translate(344.34,260.00) scale(0.87,1)" fill="#262626" stroke="#262626">26.0</text>
<text class="u" transform="translate(356.73,260.00) scale(0.87,1)" fill="#262626" stroke="#262626">29.8</text>
<text class="u" transform="translate(369.12,260.00) scale(0.87,1)" fill="#262626" stroke="#262626">30.2</text>
<text class="u" transform="translate(381.51,260.00) scale(0.87,1)" fill="#4a4a4a" stroke="#4a4a4a">2.8</text>
<text class="u" transform="translate(393.90,260.00) scale(0.87,1)" fill="#8a8a8a" stroke="#8a8a8a">0.0</text>
<text class="u" transform="translate(406.30,260.00) scale(0.87,1)" fill="#262626" stroke="#262626">11.5</text>
<text class="u" transform="translate(418.69,260.00) scale(0.87,1)" fill="#8a8a8a" stroke="#8a8a8a">0.2</text>
<text class="u" transform="translate(431.07,260.00) scale(0.87,1)" fill="#8a8a8a" stroke="#8a8a8a">0.0</text>
<text class="u" transform="translate(208.06,272.14) scale(0.87,1)" fill="#012e20">100.0</text>
<text class="u" transform="translate(220.45,272.14) scale(0.87,1)" fill="#262626" stroke="#262626">21.7</text>
<text class="u" transform="translate(232.84,272.14) scale(0.87,1)" fill="#262626" stroke="#262626">28.5</text>
<text class="u" transform="translate(245.22,272.14) scale(0.87,1)" fill="#262626" stroke="#262626">28.5</text>
<text class="u" transform="translate(257.62,272.14) scale(0.87,1)" fill="#262626" stroke="#262626">26.3</text>
<text class="u" transform="translate(270.00,272.14) scale(0.87,1)" fill="#262626" stroke="#262626">26.3</text>
<text class="u" transform="translate(282.39,272.14) scale(0.87,1)" fill="#262626" stroke="#262626">26.0</text>
<text class="u" transform="translate(294.78,272.14) scale(0.87,1)" fill="#262626" stroke="#262626">25.4</text>
<text class="u" transform="translate(307.18,272.14) scale(0.87,1)" fill="#262626" stroke="#262626">27.6</text>
<text class="u" transform="translate(319.56,272.14) scale(0.87,1)" fill="#262626" stroke="#262626">29.6</text>
<text class="u" transform="translate(331.95,272.14) scale(0.87,1)" fill="#262626" stroke="#262626">28.3</text>
<text class="u" transform="translate(344.34,272.14) scale(0.87,1)" fill="#262626" stroke="#262626">29.6</text>
<text class="u" transform="translate(356.73,272.14) scale(0.87,1)" fill="#262626" stroke="#262626">32.1</text>
<text class="u" transform="translate(369.12,272.14) scale(0.87,1)" fill="#262626" stroke="#262626">31.5</text>
<text class="u" transform="translate(381.51,272.14) scale(0.87,1)" fill="#4a4a4a" stroke="#4a4a4a">3.7</text>
<text class="u" transform="translate(393.90,272.14) scale(0.87,1)" fill="#8a8a8a" stroke="#8a8a8a">0.1</text>
<text class="u" transform="translate(406.30,272.14) scale(0.87,1)" fill="#262626" stroke="#262626">12.5</text>
<text class="u" transform="translate(418.69,272.14) scale(0.87,1)" fill="#8a8a8a" stroke="#8a8a8a">0.1</text>
<text class="u" transform="translate(431.07,272.14) scale(0.87,1)" fill="#8a8a8a" stroke="#8a8a8a">0.0</text>
<text class="u" transform="translate(220.45,284.27) scale(0.87,1)" fill="#012e20">100.0</text>
<text class="u" transform="translate(232.84,284.27) scale(0.87,1)" fill="#262626" stroke="#262626">37.8</text>
<text class="u" transform="translate(245.22,284.27) scale(0.87,1)" fill="#262626" stroke="#262626">37.8</text>
<text class="u" transform="translate(257.62,284.27) scale(0.87,1)" fill="#262626" stroke="#262626">32.5</text>
<text class="u" transform="translate(270.00,284.27) scale(0.87,1)" fill="#262626" stroke="#262626">28.7</text>
<text class="u" transform="translate(282.39,284.27) scale(0.87,1)" fill="#262626" stroke="#262626">30.5</text>
<text class="u" transform="translate(294.78,284.27) scale(0.87,1)" fill="#262626" stroke="#262626">27.7</text>
<text class="u" transform="translate(307.18,284.27) scale(0.87,1)" fill="#262626" stroke="#262626">37.1</text>
<text class="u" transform="translate(319.56,284.27) scale(0.87,1)" fill="#262626" stroke="#262626">35.6</text>
<text class="u" transform="translate(331.95,284.27) scale(0.87,1)" fill="#262626" stroke="#262626">33.5</text>
<text class="u" transform="translate(344.34,284.27) scale(0.87,1)" fill="#262626" stroke="#262626">32.2</text>
<text class="u" transform="translate(356.73,284.27) scale(0.87,1)" fill="#262626" stroke="#262626">36.5</text>
<text class="u" transform="translate(369.12,284.27) scale(0.87,1)" fill="#262626" stroke="#262626">36.5</text>
<text class="u" transform="translate(381.51,284.27) scale(0.87,1)" fill="#4a4a4a" stroke="#4a4a4a">7.8</text>
<text class="u" transform="translate(393.90,284.27) scale(0.87,1)" fill="#262626" stroke="#262626">10.7</text>
<text class="u" transform="translate(406.30,284.27) scale(0.87,1)" fill="#262626" stroke="#262626">24.7</text>
<text class="u" transform="translate(418.69,284.27) scale(0.87,1)" fill="#8a8a8a" stroke="#8a8a8a">0.0</text>
<text class="u" transform="translate(431.07,284.27) scale(0.87,1)" fill="#8a8a8a" stroke="#8a8a8a">0.1</text>
<text class="u" transform="translate(232.84,296.40) scale(0.87,1)" fill="#012e20">100.0</text>
<text class="u" transform="translate(245.22,296.40) scale(0.87,1)" fill="#012e20" stroke="#012e20">100.0</text>
<text class="u" transform="translate(257.62,296.40) scale(0.87,1)" fill="#262626" stroke="#262626">47.7</text>
<text class="u" transform="translate(270.00,296.40) scale(0.87,1)" fill="#262626" stroke="#262626">46.2</text>
<text class="u" transform="translate(282.39,296.40) scale(0.87,1)" fill="#262626" stroke="#262626">56.0</text>
<text class="u" transform="translate(294.78,296.40) scale(0.87,1)" fill="#262626" stroke="#262626">31.9</text>
<text class="u" transform="translate(307.18,296.40) scale(0.87,1)" fill="#262626" stroke="#262626">46.0</text>
<text class="u" transform="translate(319.56,296.40) scale(0.87,1)" fill="#262626" stroke="#262626">37.7</text>
<text class="u" transform="translate(331.95,296.40) scale(0.87,1)" fill="#262626" stroke="#262626">44.8</text>
<text class="u" transform="translate(344.34,296.40) scale(0.87,1)" fill="#262626" stroke="#262626">42.3</text>
<text class="u" transform="translate(356.73,296.40) scale(0.87,1)" fill="#262626" stroke="#262626">40.1</text>
<text class="u" transform="translate(369.12,296.40) scale(0.87,1)" fill="#262626" stroke="#262626">40.3</text>
<text class="u" transform="translate(381.51,296.40) scale(0.87,1)" fill="#4a4a4a" stroke="#4a4a4a">4.6</text>
<text class="u" transform="translate(393.90,296.40) scale(0.87,1)" fill="#4a4a4a" stroke="#4a4a4a">2.3</text>
<text class="u" transform="translate(406.30,296.40) scale(0.87,1)" fill="#262626" stroke="#262626">14.2</text>
<text class="u" transform="translate(418.69,296.40) scale(0.87,1)" fill="#8a8a8a" stroke="#8a8a8a">0.0</text>
<text class="u" transform="translate(431.07,296.40) scale(0.87,1)" fill="#8a8a8a" stroke="#8a8a8a">0.0</text>
<text class="u" transform="translate(245.22,308.53) scale(0.87,1)" fill="#012e20">100.0</text>
<text class="u" transform="translate(257.62,308.53) scale(0.87,1)" fill="#262626" stroke="#262626">47.7</text>
<text class="u" transform="translate(270.00,308.53) scale(0.87,1)" fill="#262626" stroke="#262626">46.2</text>
<text class="u" transform="translate(282.39,308.53) scale(0.87,1)" fill="#262626" stroke="#262626">56.0</text>
<text class="u" transform="translate(294.78,308.53) scale(0.87,1)" fill="#262626" stroke="#262626">31.9</text>
<text class="u" transform="translate(307.18,308.53) scale(0.87,1)" fill="#262626" stroke="#262626">46.0</text>
<text class="u" transform="translate(319.56,308.53) scale(0.87,1)" fill="#262626" stroke="#262626">37.7</text>
<text class="u" transform="translate(331.95,308.53) scale(0.87,1)" fill="#262626" stroke="#262626">44.8</text>
<text class="u" transform="translate(344.34,308.53) scale(0.87,1)" fill="#262626" stroke="#262626">42.3</text>
<text class="u" transform="translate(356.73,308.53) scale(0.87,1)" fill="#262626" stroke="#262626">40.1</text>
<text class="u" transform="translate(369.12,308.53) scale(0.87,1)" fill="#262626" stroke="#262626">40.3</text>
<text class="u" transform="translate(381.51,308.53) scale(0.87,1)" fill="#4a4a4a" stroke="#4a4a4a">4.6</text>
<text class="u" transform="translate(393.90,308.53) scale(0.87,1)" fill="#4a4a4a" stroke="#4a4a4a">2.3</text>
<text class="u" transform="translate(406.30,308.53) scale(0.87,1)" fill="#262626" stroke="#262626">14.2</text>
<text class="u" transform="translate(418.69,308.53) scale(0.87,1)" fill="#8a8a8a" stroke="#8a8a8a">0.0</text>
<text class="u" transform="translate(431.07,308.53) scale(0.87,1)" fill="#8a8a8a" stroke="#8a8a8a">0.0</text>
<text class="u" transform="translate(257.62,320.66) scale(0.87,1)" fill="#012e20">100.0</text>
<text class="u" transform="translate(270.00,320.66) scale(0.87,1)" fill="#262626" stroke="#262626">57.8</text>
<text class="u" transform="translate(282.39,320.66) scale(0.87,1)" fill="#262626" stroke="#262626">56.5</text>
<text class="u" transform="translate(294.78,320.66) scale(0.87,1)" fill="#262626" stroke="#262626">35.3</text>
<text class="u" transform="translate(307.18,320.66) scale(0.87,1)" fill="#262626" stroke="#262626">42.1</text>
<text class="u" transform="translate(319.56,320.66) scale(0.87,1)" fill="#262626" stroke="#262626">43.4</text>
<text class="u" transform="translate(331.95,320.66) scale(0.87,1)" fill="#262626" stroke="#262626">48.9</text>
<text class="u" transform="translate(344.34,320.66) scale(0.87,1)" fill="#262626" stroke="#262626">37.9</text>
<text class="u" transform="translate(356.73,320.66) scale(0.87,1)" fill="#262626" stroke="#262626">42.6</text>
<text class="u" transform="translate(369.12,320.66) scale(0.87,1)" fill="#262626" stroke="#262626">42.9</text>
<text class="u" transform="translate(381.51,320.66) scale(0.87,1)" fill="#4a4a4a" stroke="#4a4a4a">3.0</text>
<text class="u" transform="translate(393.90,320.66) scale(0.87,1)" fill="#8a8a8a" stroke="#8a8a8a">0.1</text>
<text class="u" transform="translate(406.30,320.66) scale(0.87,1)" fill="#262626" stroke="#262626">12.3</text>
<text class="u" transform="translate(418.69,320.66) scale(0.87,1)" fill="#8a8a8a" stroke="#8a8a8a">0.1</text>
<text class="u" transform="translate(431.07,320.66) scale(0.87,1)" fill="#8a8a8a" stroke="#8a8a8a">0.0</text>
<text class="u" transform="translate(270.00,332.79) scale(0.87,1)" fill="#012e20">100.0</text>
<text class="u" transform="translate(282.39,332.79) scale(0.87,1)" fill="#262626" stroke="#262626">60.0</text>
<text class="u" transform="translate(294.78,332.79) scale(0.87,1)" fill="#262626" stroke="#262626">34.0</text>
<text class="u" transform="translate(307.18,332.79) scale(0.87,1)" fill="#262626" stroke="#262626">41.3</text>
<text class="u" transform="translate(319.56,332.79) scale(0.87,1)" fill="#262626" stroke="#262626">38.7</text>
<text class="u" transform="translate(331.95,332.79) scale(0.87,1)" fill="#262626" stroke="#262626">43.2</text>
<text class="u" transform="translate(344.34,332.79) scale(0.87,1)" fill="#262626" stroke="#262626">34.7</text>
<text class="u" transform="translate(356.73,332.79) scale(0.87,1)" fill="#262626" stroke="#262626">38.2</text>
<text class="u" transform="translate(369.12,332.79) scale(0.87,1)" fill="#262626" stroke="#262626">38.6</text>
<text class="u" transform="translate(381.51,332.79) scale(0.87,1)" fill="#4a4a4a" stroke="#4a4a4a">3.0</text>
<text class="u" transform="translate(393.90,332.79) scale(0.87,1)" fill="#8a8a8a" stroke="#8a8a8a">0.0</text>
<text class="u" transform="translate(406.30,332.79) scale(0.87,1)" fill="#262626" stroke="#262626">12.6</text>
<text class="u" transform="translate(418.69,332.79) scale(0.87,1)" fill="#8a8a8a" stroke="#8a8a8a">0.1</text>
<text class="u" transform="translate(431.07,332.79) scale(0.87,1)" fill="#8a8a8a" stroke="#8a8a8a">0.1</text>
<text class="u" transform="translate(282.39,344.92) scale(0.87,1)" fill="#012e20">100.0</text>
<text class="u" transform="translate(294.78,344.92) scale(0.87,1)" fill="#262626" stroke="#262626">33.8</text>
<text class="u" transform="translate(307.18,344.92) scale(0.87,1)" fill="#262626" stroke="#262626">40.3</text>
<text class="u" transform="translate(319.56,344.92) scale(0.87,1)" fill="#262626" stroke="#262626">37.2</text>
<text class="u" transform="translate(331.95,344.92) scale(0.87,1)" fill="#262626" stroke="#262626">43.0</text>
<text class="u" transform="translate(344.34,344.92) scale(0.87,1)" fill="#262626" stroke="#262626">39.1</text>
<text class="u" transform="translate(356.73,344.92) scale(0.87,1)" fill="#262626" stroke="#262626">36.5</text>
<text class="u" transform="translate(369.12,344.92) scale(0.87,1)" fill="#262626" stroke="#262626">36.8</text>
<text class="u" transform="translate(381.51,344.92) scale(0.87,1)" fill="#4a4a4a" stroke="#4a4a4a">3.9</text>
<text class="u" transform="translate(393.90,344.92) scale(0.87,1)" fill="#8a8a8a" stroke="#8a8a8a">0.1</text>
<text class="u" transform="translate(406.30,344.92) scale(0.87,1)" fill="#262626" stroke="#262626">12.2</text>
<text class="u" transform="translate(418.69,344.92) scale(0.87,1)" fill="#8a8a8a" stroke="#8a8a8a">0.0</text>
<text class="u" transform="translate(431.07,344.92) scale(0.87,1)" fill="#8a8a8a" stroke="#8a8a8a">0.0</text>
<text class="u" transform="translate(294.78,357.05) scale(0.87,1)" fill="#012e20">100.0</text>
<text class="u" transform="translate(307.18,357.05) scale(0.87,1)" fill="#262626" stroke="#262626">54.2</text>
<text class="u" transform="translate(319.56,357.05) scale(0.87,1)" fill="#262626" stroke="#262626">40.8</text>
<text class="u" transform="translate(331.95,357.05) scale(0.87,1)" fill="#262626" stroke="#262626">37.4</text>
<text class="u" transform="translate(344.34,357.05) scale(0.87,1)" fill="#262626" stroke="#262626">35.1</text>
<text class="u" transform="translate(356.73,357.05) scale(0.87,1)" fill="#262626" stroke="#262626">37.3</text>
<text class="u" transform="translate(369.12,357.05) scale(0.87,1)" fill="#262626" stroke="#262626">35.8</text>
<text class="u" transform="translate(381.51,357.05) scale(0.87,1)" fill="#4a4a4a" stroke="#4a4a4a">3.5</text>
<text class="u" transform="translate(393.90,357.05) scale(0.87,1)" fill="#8a8a8a" stroke="#8a8a8a">0.2</text>
<text class="u" transform="translate(406.30,357.05) scale(0.87,1)" fill="#262626" stroke="#262626">11.0</text>
<text class="u" transform="translate(418.69,357.05) scale(0.87,1)" fill="#8a8a8a" stroke="#8a8a8a">0.2</text>
<text class="u" transform="translate(431.07,357.05) scale(0.87,1)" fill="#8a8a8a" stroke="#8a8a8a">0.6</text>
<text class="u" transform="translate(307.18,369.18) scale(0.87,1)" fill="#012e20">100.0</text>
<text class="u" transform="translate(319.56,369.18) scale(0.87,1)" fill="#262626" stroke="#262626">45.2</text>
<text class="u" transform="translate(331.95,369.18) scale(0.87,1)" fill="#262626" stroke="#262626">48.8</text>
<text class="u" transform="translate(344.34,369.18) scale(0.87,1)" fill="#262626" stroke="#262626">46.2</text>
<text class="u" transform="translate(356.73,369.18) scale(0.87,1)" fill="#262626" stroke="#262626">43.8</text>
<text class="u" transform="translate(369.12,369.18) scale(0.87,1)" fill="#262626" stroke="#262626">42.9</text>
<text class="u" transform="translate(381.51,369.18) scale(0.87,1)" fill="#4a4a4a" stroke="#4a4a4a">4.1</text>
<text class="u" transform="translate(393.90,369.18) scale(0.87,1)" fill="#4a4a4a" stroke="#4a4a4a">2.9</text>
<text class="u" transform="translate(406.30,369.18) scale(0.87,1)" fill="#262626" stroke="#262626">11.8</text>
<text class="u" transform="translate(418.69,369.18) scale(0.87,1)" fill="#8a8a8a" stroke="#8a8a8a">0.2</text>
<text class="u" transform="translate(431.07,369.18) scale(0.87,1)" fill="#8a8a8a" stroke="#8a8a8a">0.1</text>
<text class="u" transform="translate(319.56,381.31) scale(0.87,1)" fill="#012e20">100.0</text>
<text class="u" transform="translate(331.95,381.31) scale(0.87,1)" fill="#262626" stroke="#262626">46.3</text>
<text class="u" transform="translate(344.34,381.31) scale(0.87,1)" fill="#262626" stroke="#262626">41.8</text>
<text class="u" transform="translate(356.73,381.31) scale(0.87,1)" fill="#262626" stroke="#262626">47.4</text>
<text class="u" transform="translate(369.12,381.31) scale(0.87,1)" fill="#262626" stroke="#262626">47.2</text>
<text class="u" transform="translate(381.51,381.31) scale(0.87,1)" fill="#4a4a4a" stroke="#4a4a4a">4.4</text>
<text class="u" transform="translate(393.90,381.31) scale(0.87,1)" fill="#8a8a8a" stroke="#8a8a8a">0.1</text>
<text class="u" transform="translate(406.30,381.31) scale(0.87,1)" fill="#262626" stroke="#262626">14.4</text>
<text class="u" transform="translate(418.69,381.31) scale(0.87,1)" fill="#8a8a8a" stroke="#8a8a8a">0.2</text>
<text class="u" transform="translate(431.07,381.31) scale(0.87,1)" fill="#8a8a8a" stroke="#8a8a8a">0.0</text>
<text class="u" transform="translate(331.95,393.44) scale(0.87,1)" fill="#012e20">100.0</text>
<text class="u" transform="translate(344.34,393.44) scale(0.87,1)" fill="#262626" stroke="#262626">49.9</text>
<text class="u" transform="translate(356.73,393.44) scale(0.87,1)" fill="#262626" stroke="#262626">52.2</text>
<text class="u" transform="translate(369.12,393.44) scale(0.87,1)" fill="#262626" stroke="#262626">52.5</text>
<text class="u" transform="translate(381.51,393.44) scale(0.87,1)" fill="#4a4a4a" stroke="#4a4a4a">4.2</text>
<text class="u" transform="translate(393.90,393.44) scale(0.87,1)" fill="#8a8a8a" stroke="#8a8a8a">0.1</text>
<text class="u" transform="translate(406.30,393.44) scale(0.87,1)" fill="#262626" stroke="#262626">13.7</text>
<text class="u" transform="translate(418.69,393.44) scale(0.87,1)" fill="#8a8a8a" stroke="#8a8a8a">0.1</text>
<text class="u" transform="translate(431.07,393.44) scale(0.87,1)" fill="#8a8a8a" stroke="#8a8a8a">0.0</text>
<text class="u" transform="translate(344.34,405.56) scale(0.87,1)" fill="#012e20">100.0</text>
<text class="u" transform="translate(356.73,405.56) scale(0.87,1)" fill="#262626" stroke="#262626">62.5</text>
<text class="u" transform="translate(369.12,405.56) scale(0.87,1)" fill="#262626" stroke="#262626">61.7</text>
<text class="u" transform="translate(381.51,405.56) scale(0.87,1)" fill="#262626" stroke="#262626">11.7</text>
<text class="u" transform="translate(393.90,405.56) scale(0.87,1)" fill="#8a8a8a" stroke="#8a8a8a">0.1</text>
<text class="u" transform="translate(406.30,405.56) scale(0.87,1)" fill="#262626" stroke="#262626">12.1</text>
<text class="u" transform="translate(418.69,405.56) scale(0.87,1)" fill="#8a8a8a" stroke="#8a8a8a">0.0</text>
<text class="u" transform="translate(431.07,405.56) scale(0.87,1)" fill="#8a8a8a" stroke="#8a8a8a">0.5</text>
<text class="u" transform="translate(356.73,417.69) scale(0.87,1)" fill="#012e20">100.0</text>
<text class="u" transform="translate(369.12,417.69) scale(0.87,1)" fill="#012e20" stroke="#012e20">95.8</text>
<text class="u" transform="translate(381.51,417.69) scale(0.87,1)" fill="#262626" stroke="#262626">10.8</text>
<text class="u" transform="translate(393.90,417.69) scale(0.87,1)" fill="#8a8a8a" stroke="#8a8a8a">0.1</text>
<text class="u" transform="translate(406.30,417.69) scale(0.87,1)" fill="#262626" stroke="#262626">13.1</text>
<text class="u" transform="translate(418.69,417.69) scale(0.87,1)" fill="#8a8a8a" stroke="#8a8a8a">0.2</text>
<text class="u" transform="translate(431.07,417.69) scale(0.87,1)" fill="#8a8a8a" stroke="#8a8a8a">0.1</text>
<text class="u" transform="translate(369.12,429.83) scale(0.87,1)" fill="#012e20">100.0</text>
<text class="u" transform="translate(381.51,429.83) scale(0.87,1)" fill="#262626" stroke="#262626">10.0</text>
<text class="u" transform="translate(393.90,429.83) scale(0.87,1)" fill="#8a8a8a" stroke="#8a8a8a">0.2</text>
<text class="u" transform="translate(406.30,429.83) scale(0.87,1)" fill="#262626" stroke="#262626">12.2</text>
<text class="u" transform="translate(418.69,429.83) scale(0.87,1)" fill="#8a8a8a" stroke="#8a8a8a">0.1</text>
<text class="u" transform="translate(431.07,429.83) scale(0.87,1)" fill="#8a8a8a" stroke="#8a8a8a">0.1</text>
<text class="u" transform="translate(381.51,441.96) scale(0.87,1)" fill="#012e20">100.0</text>
<text class="u" transform="translate(393.90,441.96) scale(0.87,1)" fill="#262626" stroke="#262626">19.4</text>
<text class="u" transform="translate(406.30,441.96) scale(0.87,1)" fill="#262626" stroke="#262626">21.4</text>
<text class="u" transform="translate(418.69,441.96) scale(0.87,1)" fill="#8a8a8a" stroke="#8a8a8a">0.0</text>
<text class="u" transform="translate(431.07,441.96) scale(0.87,1)" fill="#8a8a8a" stroke="#8a8a8a">0.5</text>
<text class="u" transform="translate(393.90,454.09) scale(0.87,1)" fill="#012e20">100.0</text>
<text class="u" transform="translate(406.30,454.09) scale(0.87,1)" fill="#262626" stroke="#262626">71.8</text>
<text class="u" transform="translate(418.69,454.09) scale(0.87,1)" fill="#8a8a8a" stroke="#8a8a8a">0.2</text>
<text class="u" transform="translate(431.07,454.09) scale(0.87,1)" fill="#8a8a8a" stroke="#8a8a8a">0.0</text>
<text class="u" transform="translate(406.30,466.22) scale(0.87,1)" fill="#012e20">100.0</text>
<text class="u" transform="translate(418.69,466.22) scale(0.87,1)" fill="#8a8a8a" stroke="#8a8a8a">0.1</text>
<text class="u" transform="translate(431.07,466.22) scale(0.87,1)" fill="#8a8a8a" stroke="#8a8a8a">0.0</text>
<text class="u" transform="translate(418.69,478.35) scale(0.87,1)" fill="#012e20">100.0</text>
<text class="u" transform="translate(431.07,478.35) scale(0.87,1)" fill="#8a8a8a" stroke="#8a8a8a">0.0</text>
<text class="u" transform="translate(431.07,490.48) scale(0.87,1)" fill="#012e20">100.0</text>
</g>
<g transform="scale(0.86,1)">
<text class="l"><tspan x="40.23" y="109.65">0.3</tspan><tspan x="40.23" y="113.69">1.0</tspan><tspan x="40.23" y="117.74">0.4</tspan></text>
<text class="l"><tspan x="40.23" y="121.78">0.4</tspan><tspan x="40.23" y="125.83">1.0</tspan><tspan x="40.23" y="129.87">0.4</tspan></text>
<text class="l"><tspan x="54.63" y="121.78">0.4</tspan><tspan x="54.63" y="125.83">1.0</tspan><tspan x="54.63" y="129.87">0.4</tspan></text>
<text class="l"><tspan x="40.23" y="133.91">0.3</tspan><tspan x="40.23" y="137.96">0.9</tspan><tspan x="40.23" y="142.00">0.3</tspan></text>
<text class="l"><tspan x="54.63" y="133.91">0.3</tspan><tspan x="54.63" y="137.96">1.0</tspan><tspan x="54.63" y="142.00">0.3</tspan></text>
<text class="l"><tspan x="69.04" y="133.91">0.3</tspan><tspan x="69.04" y="137.96">1.0</tspan><tspan x="69.04" y="142.00">0.3</tspan></text>
<text class="l"><tspan x="40.23" y="146.04">0.3</tspan><tspan x="40.23" y="150.09">0.9</tspan><tspan x="40.23" y="154.13">0.3</tspan></text>
<text class="l"><tspan x="54.63" y="146.04">0.3</tspan><tspan x="54.63" y="150.09">0.9</tspan><tspan x="54.63" y="154.13">0.3</tspan></text>
<text class="l"><tspan x="69.04" y="146.04">0.3</tspan><tspan x="69.04" y="150.09">1.0</tspan><tspan x="69.04" y="154.13">0.3</tspan></text>
<text class="l"><tspan x="83.45" y="146.04">0.5</tspan><tspan x="83.45" y="150.09">1.0</tspan><tspan x="83.45" y="154.13">0.5</tspan></text>
<text class="l"><tspan x="40.23" y="158.17">0.3</tspan><tspan x="40.23" y="162.22">0.9</tspan><tspan x="40.23" y="166.26">0.3</tspan></text>
<text class="l"><tspan x="54.63" y="158.17">0.3</tspan><tspan x="54.63" y="162.22">0.9</tspan><tspan x="54.63" y="166.26">0.3</tspan></text>
<text class="l"><tspan x="69.04" y="158.17">0.4</tspan><tspan x="69.04" y="162.22">0.9</tspan><tspan x="69.04" y="166.26">0.4</tspan></text>
<text class="l"><tspan x="83.45" y="158.17">0.4</tspan><tspan x="83.45" y="162.22">1.0</tspan><tspan x="83.45" y="166.26">0.3</tspan></text>
<text class="l"><tspan x="97.85" y="158.17">0.4</tspan><tspan x="97.85" y="162.22">1.0</tspan><tspan x="97.85" y="166.26">0.3</tspan></text>
<text class="l"><tspan x="40.23" y="170.30">0.3</tspan><tspan x="40.23" y="174.35">1.0</tspan><tspan x="40.23" y="178.39">0.3</tspan></text>
<text class="l"><tspan x="54.63" y="170.30">0.2</tspan><tspan x="54.63" y="174.35">0.9</tspan><tspan x="54.63" y="178.39">0.3</tspan></text>
<text class="l"><tspan x="69.04" y="170.30">0.3</tspan><tspan x="69.04" y="174.35">0.9</tspan><tspan x="69.04" y="178.39">0.3</tspan></text>
<text class="l"><tspan x="83.45" y="170.30">0.3</tspan><tspan x="83.45" y="174.35">0.9</tspan><tspan x="83.45" y="178.39">0.3</tspan></text>
<text class="l"><tspan x="97.85" y="170.30">0.3</tspan><tspan x="97.85" y="174.35">1.0</tspan><tspan x="97.85" y="178.39">0.4</tspan></text>
<text class="l"><tspan x="112.26" y="170.30">0.3</tspan><tspan x="112.26" y="174.35">1.0</tspan><tspan x="112.26" y="178.39">0.4</tspan></text>
<text class="l"><tspan x="40.23" y="182.43">0.3</tspan><tspan x="40.23" y="186.48">1.0</tspan><tspan x="40.23" y="190.52">0.4</tspan></text>
<text class="l"><tspan x="54.63" y="182.43">0.3</tspan><tspan x="54.63" y="186.48">1.0</tspan><tspan x="54.63" y="190.52">0.3</tspan></text>
<text class="l"><tspan x="69.04" y="182.43">0.3</tspan><tspan x="69.04" y="186.48">0.9</tspan><tspan x="69.04" y="190.52">0.3</tspan></text>
<text class="l"><tspan x="83.45" y="182.43">0.3</tspan><tspan x="83.45" y="186.48">0.9</tspan><tspan x="83.45" y="190.52">0.4</tspan></text>
<text class="l"><tspan x="97.85" y="182.43">0.3</tspan><tspan x="97.85" y="186.48">0.9</tspan><tspan x="97.85" y="190.52">0.3</tspan></text>
<text class="l"><tspan x="112.26" y="182.43">0.4</tspan><tspan x="112.26" y="186.48">1.0</tspan><tspan x="112.26" y="190.52">0.3</tspan></text>
<text class="l"><tspan x="126.67" y="182.43">0.5</tspan><tspan x="126.67" y="186.48">1.0</tspan><tspan x="126.67" y="190.52">0.5</tspan></text>
<text class="l"><tspan x="40.23" y="194.56">0.4</tspan><tspan x="40.23" y="198.61">1.0</tspan><tspan x="40.23" y="202.65">0.3</tspan></text>
<text class="l"><tspan x="54.63" y="194.56">0.3</tspan><tspan x="54.63" y="198.61">1.0</tspan><tspan x="54.63" y="202.65">0.2</tspan></text>
<text class="l"><tspan x="69.04" y="194.56">0.4</tspan><tspan x="69.04" y="198.61">1.0</tspan><tspan x="69.04" y="202.65">0.4</tspan></text>
<text class="l"><tspan x="83.45" y="194.56">0.4</tspan><tspan x="83.45" y="198.61">0.9</tspan><tspan x="83.45" y="202.65">0.3</tspan></text>
<text class="l"><tspan x="97.85" y="194.56">0.4</tspan><tspan x="97.85" y="198.61">0.9</tspan><tspan x="97.85" y="202.65">0.3</tspan></text>
<text class="l"><tspan x="112.26" y="194.56">0.4</tspan><tspan x="112.26" y="198.61">0.9</tspan><tspan x="112.26" y="202.65">0.4</tspan></text>
<text class="l"><tspan x="126.67" y="194.56">0.4</tspan><tspan x="126.67" y="198.61">1.0</tspan><tspan x="126.67" y="202.65">0.4</tspan></text>
<text class="l"><tspan x="141.08" y="194.56">0.4</tspan><tspan x="141.08" y="198.61">1.0</tspan><tspan x="141.08" y="202.65">0.4</tspan></text>
<text class="l"><tspan x="40.23" y="206.69">0.3</tspan><tspan x="40.23" y="210.74">0.9</tspan><tspan x="40.23" y="214.78">0.3</tspan></text>
<text class="l"><tspan x="54.63" y="206.69">0.3</tspan><tspan x="54.63" y="210.74">1.0</tspan><tspan x="54.63" y="214.78">0.3</tspan></text>
<text class="l"><tspan x="69.04" y="206.69">0.3</tspan><tspan x="69.04" y="210.74">1.0</tspan><tspan x="69.04" y="214.78">0.3</tspan></text>
<text class="l"><tspan x="83.45" y="206.69">0.3</tspan><tspan x="83.45" y="210.74">1.0</tspan><tspan x="83.45" y="214.78">0.3</tspan></text>
<text class="l"><tspan x="97.85" y="206.69">0.3</tspan><tspan x="97.85" y="210.74">0.9</tspan><tspan x="97.85" y="214.78">0.4</tspan></text>
<text class="l"><tspan x="112.26" y="206.69">0.3</tspan><tspan x="112.26" y="210.74">0.9</tspan><tspan x="112.26" y="214.78">0.4</tspan></text>
<text class="l"><tspan x="126.67" y="206.69">0.4</tspan><tspan x="126.67" y="210.74">0.9</tspan><tspan x="126.67" y="214.78">0.4</tspan></text>
<text class="l"><tspan x="141.08" y="206.69">0.5</tspan><tspan x="141.08" y="210.74">1.0</tspan><tspan x="141.08" y="214.78">0.6</tspan></text>
<text class="l"><tspan x="155.48" y="206.69">0.4</tspan><tspan x="155.48" y="210.74">1.0</tspan><tspan x="155.48" y="214.78">0.5</tspan></text>
<text class="l"><tspan x="40.23" y="218.82">0.3</tspan><tspan x="40.23" y="222.87">0.9</tspan><tspan x="40.23" y="226.91">0.4</tspan></text>
<text class="l"><tspan x="54.63" y="218.82">0.3</tspan><tspan x="54.63" y="222.87">0.9</tspan><tspan x="54.63" y="226.91">0.3</tspan></text>
<text class="l"><tspan x="69.04" y="218.82">0.3</tspan><tspan x="69.04" y="222.87">1.0</tspan><tspan x="69.04" y="226.91">0.3</tspan></text>
<text class="l"><tspan x="83.45" y="218.82">0.3</tspan><tspan x="83.45" y="222.87">1.0</tspan><tspan x="83.45" y="226.91">0.4</tspan></text>
<text class="l"><tspan x="97.85" y="218.82">0.3</tspan><tspan x="97.85" y="222.87">1.0</tspan><tspan x="97.85" y="226.91">0.3</tspan></text>
<text class="l"><tspan x="112.26" y="218.82">0.4</tspan><tspan x="112.26" y="222.87">0.9</tspan><tspan x="112.26" y="226.91">0.3</tspan></text>
<text class="l"><tspan x="126.67" y="218.82">0.4</tspan><tspan x="126.67" y="222.87">0.9</tspan><tspan x="126.67" y="226.91">0.4</tspan></text>
<text class="l"><tspan x="141.08" y="218.82">0.5</tspan><tspan x="141.08" y="222.87">0.9</tspan><tspan x="141.08" y="226.91">0.5</tspan></text>
<text class="l"><tspan x="155.48" y="218.82">0.4</tspan><tspan x="155.48" y="222.87">1.0</tspan><tspan x="155.48" y="226.91">0.4</tspan></text>
<text class="l"><tspan x="169.89" y="218.82">0.9</tspan><tspan x="169.89" y="222.87">1.0</tspan><tspan x="169.89" y="226.91">1.0</tspan></text>
<text class="l"><tspan x="40.23" y="230.95">0.4</tspan><tspan x="40.23" y="235.00">0.9</tspan><tspan x="40.23" y="239.04">0.3</tspan></text>
<text class="l"><tspan x="54.63" y="230.95">0.3</tspan><tspan x="54.63" y="235.00">0.9</tspan><tspan x="54.63" y="239.04">0.2</tspan></text>
<text class="l"><tspan x="69.04" y="230.95">0.4</tspan><tspan x="69.04" y="235.00">0.9</tspan><tspan x="69.04" y="239.04">0.4</tspan></text>
<text class="l"><tspan x="83.45" y="230.95">0.4</tspan><tspan x="83.45" y="235.00">1.0</tspan><tspan x="83.45" y="239.04">0.3</tspan></text>
<text class="l"><tspan x="97.85" y="230.95">0.4</tspan><tspan x="97.85" y="235.00">1.0</tspan><tspan x="97.85" y="239.04">0.3</tspan></text>
<text class="l"><tspan x="112.26" y="230.95">0.4</tspan><tspan x="112.26" y="235.00">1.0</tspan><tspan x="112.26" y="239.04">0.4</tspan></text>
<text class="l"><tspan x="126.67" y="230.95">0.5</tspan><tspan x="126.67" y="235.00">0.9</tspan><tspan x="126.67" y="239.04">0.4</tspan></text>
<text class="l"><tspan x="141.08" y="230.95">0.5</tspan><tspan x="141.08" y="235.00">0.9</tspan><tspan x="141.08" y="239.04">0.4</tspan></text>
<text class="l"><tspan x="155.48" y="230.95">0.5</tspan><tspan x="155.48" y="235.00">0.9</tspan><tspan x="155.48" y="239.04">0.5</tspan></text>
<text class="l"><tspan x="169.89" y="230.95">0.8</tspan><tspan x="169.89" y="235.00">1.0</tspan><tspan x="169.89" y="239.04">0.8</tspan></text>
<text class="l"><tspan x="184.30" y="230.95">1.0</tspan><tspan x="184.30" y="235.00">1.0</tspan><tspan x="184.30" y="239.04">1.0</tspan></text>
<text class="l"><tspan x="40.23" y="243.08">0.3</tspan><tspan x="40.23" y="247.12">1.0</tspan><tspan x="40.23" y="251.17">0.3</tspan></text>
<text class="l"><tspan x="54.63" y="243.08">0.2</tspan><tspan x="54.63" y="247.12">0.9</tspan><tspan x="54.63" y="251.17">0.3</tspan></text>
<text class="l"><tspan x="69.04" y="243.08">0.3</tspan><tspan x="69.04" y="247.12">0.9</tspan><tspan x="69.04" y="251.17">0.3</tspan></text>
<text class="l"><tspan x="83.45" y="243.08">0.3</tspan><tspan x="83.45" y="247.12">0.9</tspan><tspan x="83.45" y="251.17">0.3</tspan></text>
<text class="l"><tspan x="97.85" y="243.08">0.3</tspan><tspan x="97.85" y="247.12">1.0</tspan><tspan x="97.85" y="251.17">0.4</tspan></text>
<text class="l"><tspan x="112.26" y="243.08">0.3</tspan><tspan x="112.26" y="247.12">1.0</tspan><tspan x="112.26" y="251.17">0.4</tspan></text>
<text class="l"><tspan x="126.67" y="243.08">0.4</tspan><tspan x="126.67" y="247.12">1.0</tspan><tspan x="126.67" y="251.17">0.4</tspan></text>
<text class="l"><tspan x="141.08" y="243.08">0.4</tspan><tspan x="141.08" y="247.12">0.9</tspan><tspan x="141.08" y="251.17">0.5</tspan></text>
<text class="l"><tspan x="155.48" y="243.08">0.4</tspan><tspan x="155.48" y="247.12">0.9</tspan><tspan x="155.48" y="251.17">0.4</tspan></text>
<text class="l"><tspan x="169.89" y="243.08">0.7</tspan><tspan x="169.89" y="247.12">0.9</tspan><tspan x="169.89" y="251.17">0.7</tspan></text>
<text class="l"><tspan x="184.30" y="243.08">1.0</tspan><tspan x="184.30" y="247.12">1.0</tspan><tspan x="184.30" y="251.17">1.0</tspan></text>
<text class="l"><tspan x="198.70" y="243.08">1.0</tspan><tspan x="198.70" y="247.12">1.0</tspan><tspan x="198.70" y="251.17">1.0</tspan></text>
<text class="l"><tspan x="40.23" y="255.21">0.3</tspan><tspan x="40.23" y="259.25">1.0</tspan><tspan x="40.23" y="263.30">0.4</tspan></text>
<text class="l"><tspan x="54.63" y="255.21">0.3</tspan><tspan x="54.63" y="259.25">1.0</tspan><tspan x="54.63" y="263.30">0.3</tspan></text>
<text class="l"><tspan x="69.04" y="255.21">0.3</tspan><tspan x="69.04" y="259.25">0.9</tspan><tspan x="69.04" y="263.30">0.3</tspan></text>
<text class="l"><tspan x="83.45" y="255.21">0.3</tspan><tspan x="83.45" y="259.25">0.9</tspan><tspan x="83.45" y="263.30">0.4</tspan></text>
<text class="l"><tspan x="97.85" y="255.21">0.3</tspan><tspan x="97.85" y="259.25">0.9</tspan><tspan x="97.85" y="263.30">0.3</tspan></text>
<text class="l"><tspan x="112.26" y="255.21">0.4</tspan><tspan x="112.26" y="259.25">1.0</tspan><tspan x="112.26" y="263.30">0.3</tspan></text>
<text class="l"><tspan x="126.67" y="255.21">0.4</tspan><tspan x="126.67" y="259.25">1.0</tspan><tspan x="126.67" y="263.30">0.4</tspan></text>
<text class="l"><tspan x="141.08" y="255.21">0.4</tspan><tspan x="141.08" y="259.25">1.0</tspan><tspan x="141.08" y="263.30">0.4</tspan></text>
<text class="l"><tspan x="155.48" y="255.21">0.4</tspan><tspan x="155.48" y="259.25">0.9</tspan><tspan x="155.48" y="263.30">0.3</tspan></text>
<text class="l"><tspan x="169.89" y="255.21">0.4</tspan><tspan x="169.89" y="259.25">0.9</tspan><tspan x="169.89" y="263.30">0.4</tspan></text>
<text class="l"><tspan x="184.30" y="255.21">0.4</tspan><tspan x="184.30" y="259.25">0.9</tspan><tspan x="184.30" y="263.30">0.4</tspan></text>
<text class="l"><tspan x="198.70" y="255.21">0.4</tspan><tspan x="198.70" y="259.25">1.0</tspan><tspan x="198.70" y="263.30">0.3</tspan></text>
<text class="l"><tspan x="213.11" y="255.21">0.4</tspan><tspan x="213.11" y="259.25">1.0</tspan><tspan x="213.11" y="263.30">0.4</tspan></text>
<text class="l"><tspan x="40.23" y="267.34">0.4</tspan><tspan x="40.23" y="271.39">1.0</tspan><tspan x="40.23" y="275.43">0.3</tspan></text>
<text class="l"><tspan x="54.63" y="267.34">0.3</tspan><tspan x="54.63" y="271.39">1.0</tspan><tspan x="54.63" y="275.43">0.3</tspan></text>
<text class="l"><tspan x="69.04" y="267.34">0.4</tspan><tspan x="69.04" y="271.39">1.0</tspan><tspan x="69.04" y="275.43">0.4</tspan></text>
<text class="l"><tspan x="83.45" y="267.34">0.4</tspan><tspan x="83.45" y="271.39">0.9</tspan><tspan x="83.45" y="275.43">0.3</tspan></text>
<text class="l"><tspan x="97.85" y="267.34">0.4</tspan><tspan x="97.85" y="271.39">0.9</tspan><tspan x="97.85" y="275.43">0.3</tspan></text>
<text class="l"><tspan x="112.26" y="267.34">0.4</tspan><tspan x="112.26" y="271.39">0.9</tspan><tspan x="112.26" y="275.43">0.4</tspan></text>
<text class="l"><tspan x="126.67" y="267.34">0.4</tspan><tspan x="126.67" y="271.39">1.0</tspan><tspan x="126.67" y="275.43">0.4</tspan></text>
<text class="l"><tspan x="141.08" y="267.34">0.4</tspan><tspan x="141.08" y="271.39">1.0</tspan><tspan x="141.08" y="275.43">0.4</tspan></text>
<text class="l"><tspan x="155.48" y="267.34">0.4</tspan><tspan x="155.48" y="271.39">1.0</tspan><tspan x="155.48" y="275.43">0.4</tspan></text>
<text class="l"><tspan x="169.89" y="267.34">0.4</tspan><tspan x="169.89" y="271.39">0.9</tspan><tspan x="169.89" y="275.43">0.4</tspan></text>
<text class="l"><tspan x="184.30" y="267.34">0.4</tspan><tspan x="184.30" y="271.39">0.9</tspan><tspan x="184.30" y="275.43">0.4</tspan></text>
<text class="l"><tspan x="198.70" y="267.34">0.4</tspan><tspan x="198.70" y="271.39">0.9</tspan><tspan x="198.70" y="275.43">0.4</tspan></text>
<text class="l"><tspan x="213.11" y="267.34">0.4</tspan><tspan x="213.11" y="271.39">1.0</tspan><tspan x="213.11" y="275.43">0.4</tspan></text>
<text class="l"><tspan x="227.52" y="267.34">0.4</tspan><tspan x="227.52" y="271.39">1.0</tspan><tspan x="227.52" y="275.43">0.4</tspan></text>
<text class="l"><tspan x="40.23" y="279.47">0.3</tspan><tspan x="40.23" y="283.52">0.9</tspan><tspan x="40.23" y="287.56">0.3</tspan></text>
<text class="l"><tspan x="54.63" y="279.47">0.3</tspan><tspan x="54.63" y="283.52">1.0</tspan><tspan x="54.63" y="287.56">0.4</tspan></text>
<text class="l"><tspan x="69.04" y="279.47">0.3</tspan><tspan x="69.04" y="283.52">1.0</tspan><tspan x="69.04" y="287.56">0.3</tspan></text>
<text class="l"><tspan x="83.45" y="279.47">0.3</tspan><tspan x="83.45" y="283.52">1.0</tspan><tspan x="83.45" y="287.56">0.3</tspan></text>
<text class="l"><tspan x="97.85" y="279.47">0.3</tspan><tspan x="97.85" y="283.52">0.9</tspan><tspan x="97.85" y="287.56">0.4</tspan></text>
<text class="l"><tspan x="112.26" y="279.47">0.3</tspan><tspan x="112.26" y="283.52">0.9</tspan><tspan x="112.26" y="287.56">0.4</tspan></text>
<text class="l"><tspan x="126.67" y="279.47">0.3</tspan><tspan x="126.67" y="283.52">0.9</tspan><tspan x="126.67" y="287.56">0.3</tspan></text>
<text class="l"><tspan x="141.08" y="279.47">0.3</tspan><tspan x="141.08" y="283.52">1.0</tspan><tspan x="141.08" y="287.56">0.4</tspan></text>
<text class="l"><tspan x="155.48" y="279.47">0.3</tspan><tspan x="155.48" y="283.52">1.0</tspan><tspan x="155.48" y="287.56">0.4</tspan></text>
<text class="l"><tspan x="169.89" y="279.47">0.4</tspan><tspan x="169.89" y="283.52">1.0</tspan><tspan x="169.89" y="287.56">0.4</tspan></text>
<text class="l"><tspan x="184.30" y="279.47">0.4</tspan><tspan x="184.30" y="283.52">0.9</tspan><tspan x="184.30" y="287.56">0.4</tspan></text>
<text class="l"><tspan x="198.70" y="279.47">0.3</tspan><tspan x="198.70" y="283.52">0.9</tspan><tspan x="198.70" y="287.56">0.4</tspan></text>
<text class="l"><tspan x="213.11" y="279.47">0.4</tspan><tspan x="213.11" y="283.52">0.9</tspan><tspan x="213.11" y="287.56">0.4</tspan></text>
<text class="l"><tspan x="227.52" y="279.47">0.3</tspan><tspan x="227.52" y="283.52">1.0</tspan><tspan x="227.52" y="287.56">0.4</tspan></text>
<text class="l"><tspan x="241.92" y="279.47">0.3</tspan><tspan x="241.92" y="283.52">1.0</tspan><tspan x="241.92" y="287.56">0.4</tspan></text>
<text class="l"><tspan x="40.23" y="291.60">0.3</tspan><tspan x="40.23" y="295.65">0.9</tspan><tspan x="40.23" y="299.69">0.4</tspan></text>
<text class="l"><tspan x="54.63" y="291.60">0.3</tspan><tspan x="54.63" y="295.65">0.9</tspan><tspan x="54.63" y="299.69">0.3</tspan></text>
<text class="l"><tspan x="69.04" y="291.60">0.3</tspan><tspan x="69.04" y="295.65">1.0</tspan><tspan x="69.04" y="299.69">0.3</tspan></text>
<text class="l"><tspan x="83.45" y="291.60">0.3</tspan><tspan x="83.45" y="295.65">1.0</tspan><tspan x="83.45" y="299.69">0.4</tspan></text>
<text class="l"><tspan x="97.85" y="291.60">0.3</tspan><tspan x="97.85" y="295.65">1.0</tspan><tspan x="97.85" y="299.69">0.3</tspan></text>
<text class="l"><tspan x="112.26" y="291.60">0.4</tspan><tspan x="112.26" y="295.65">0.9</tspan><tspan x="112.26" y="299.69">0.3</tspan></text>
<text class="l"><tspan x="126.67" y="291.60">0.4</tspan><tspan x="126.67" y="295.65">0.9</tspan><tspan x="126.67" y="299.69">0.4</tspan></text>
<text class="l"><tspan x="141.08" y="291.60">0.4</tspan><tspan x="141.08" y="295.65">0.9</tspan><tspan x="141.08" y="299.69">0.4</tspan></text>
<text class="l"><tspan x="155.48" y="291.60">0.4</tspan><tspan x="155.48" y="295.65">1.0</tspan><tspan x="155.48" y="299.69">0.4</tspan></text>
<text class="l"><tspan x="169.89" y="291.60">0.5</tspan><tspan x="169.89" y="295.65">1.0</tspan><tspan x="169.89" y="299.69">0.6</tspan></text>
<text class="l"><tspan x="184.30" y="291.60">0.4</tspan><tspan x="184.30" y="295.65">1.0</tspan><tspan x="184.30" y="299.69">0.4</tspan></text>
<text class="l"><tspan x="198.70" y="291.60">0.4</tspan><tspan x="198.70" y="295.65">0.9</tspan><tspan x="198.70" y="299.69">0.4</tspan></text>
<text class="l"><tspan x="213.11" y="291.60">0.4</tspan><tspan x="213.11" y="295.65">0.9</tspan><tspan x="213.11" y="299.69">0.5</tspan></text>
<text class="l"><tspan x="227.52" y="291.60">0.4</tspan><tspan x="227.52" y="295.65">0.9</tspan><tspan x="227.52" y="299.69">0.4</tspan></text>
<text class="l"><tspan x="241.92" y="291.60">0.4</tspan><tspan x="241.92" y="295.65">1.0</tspan><tspan x="241.92" y="299.69">0.4</tspan></text>
<text class="l"><tspan x="256.33" y="291.60">0.5</tspan><tspan x="256.33" y="295.65">1.0</tspan><tspan x="256.33" y="299.69">0.5</tspan></text>
<text class="l"><tspan x="40.23" y="303.73">0.4</tspan><tspan x="40.23" y="307.78">0.9</tspan><tspan x="40.23" y="311.82">0.3</tspan></text>
<text class="l"><tspan x="54.63" y="303.73">0.3</tspan><tspan x="54.63" y="307.78">0.9</tspan><tspan x="54.63" y="311.82">0.3</tspan></text>
<text class="l"><tspan x="69.04" y="303.73">0.4</tspan><tspan x="69.04" y="307.78">0.9</tspan><tspan x="69.04" y="311.82">0.4</tspan></text>
<text class="l"><tspan x="83.45" y="303.73">0.4</tspan><tspan x="83.45" y="307.78">1.0</tspan><tspan x="83.45" y="311.82">0.3</tspan></text>
<text class="l"><tspan x="97.85" y="303.73">0.4</tspan><tspan x="97.85" y="307.78">1.0</tspan><tspan x="97.85" y="311.82">0.3</tspan></text>
<text class="l"><tspan x="112.26" y="303.73">0.4</tspan><tspan x="112.26" y="307.78">1.0</tspan><tspan x="112.26" y="311.82">0.4</tspan></text>
<text class="l"><tspan x="126.67" y="303.73">0.4</tspan><tspan x="126.67" y="307.78">0.9</tspan><tspan x="126.67" y="311.82">0.4</tspan></text>
<text class="l"><tspan x="141.08" y="303.73">0.4</tspan><tspan x="141.08" y="307.78">0.9</tspan><tspan x="141.08" y="311.82">0.4</tspan></text>
<text class="l"><tspan x="155.48" y="303.73">0.4</tspan><tspan x="155.48" y="307.78">0.9</tspan><tspan x="155.48" y="311.82">0.4</tspan></text>
<text class="l"><tspan x="169.89" y="303.73">0.6</tspan><tspan x="169.89" y="307.78">1.0</tspan><tspan x="169.89" y="311.82">0.5</tspan></text>
<text class="l"><tspan x="184.30" y="303.73">0.5</tspan><tspan x="184.30" y="307.78">1.0</tspan><tspan x="184.30" y="311.82">0.4</tspan></text>
<text class="l"><tspan x="198.70" y="303.73">0.5</tspan><tspan x="198.70" y="307.78">1.0</tspan><tspan x="198.70" y="311.82">0.5</tspan></text>
<text class="l"><tspan x="213.11" y="303.73">0.5</tspan><tspan x="213.11" y="307.78">0.9</tspan><tspan x="213.11" y="311.82">0.4</tspan></text>
<text class="l"><tspan x="227.52" y="303.73">0.4</tspan><tspan x="227.52" y="307.78">0.9</tspan><tspan x="227.52" y="311.82">0.4</tspan></text>
<text class="l"><tspan x="241.92" y="303.73">0.4</tspan><tspan x="241.92" y="307.78">0.9</tspan><tspan x="241.92" y="311.82">0.4</tspan></text>
<text class="l"><tspan x="256.33" y="303.73">0.5</tspan><tspan x="256.33" y="307.78">1.0</tspan><tspan x="256.33" y="311.82">0.5</tspan></text>
<text class="l"><tspan x="270.74" y="303.73">1.0</tspan><tspan x="270.74" y="307.78">1.0</tspan><tspan x="270.74" y="311.82">1.0</tspan></text>
<text class="l"><tspan x="40.23" y="315.86">0.3</tspan><tspan x="40.23" y="319.91">1.0</tspan><tspan x="40.23" y="323.95">0.3</tspan></text>
<text class="l"><tspan x="54.63" y="315.86">0.3</tspan><tspan x="54.63" y="319.91">0.9</tspan><tspan x="54.63" y="323.95">0.3</tspan></text>
<text class="l"><tspan x="69.04" y="315.86">0.3</tspan><tspan x="69.04" y="319.91">0.9</tspan><tspan x="69.04" y="323.95">0.3</tspan></text>
<text class="l"><tspan x="83.45" y="315.86">0.3</tspan><tspan x="83.45" y="319.91">0.9</tspan><tspan x="83.45" y="323.95">0.3</tspan></text>
<text class="l"><tspan x="97.85" y="315.86">0.3</tspan><tspan x="97.85" y="319.91">1.0</tspan><tspan x="97.85" y="323.95">0.4</tspan></text>
<text class="l"><tspan x="112.26" y="315.86">0.3</tspan><tspan x="112.26" y="319.91">1.0</tspan><tspan x="112.26" y="323.95">0.4</tspan></text>
<text class="l"><tspan x="126.67" y="315.86">0.3</tspan><tspan x="126.67" y="319.91">1.0</tspan><tspan x="126.67" y="323.95">0.3</tspan></text>
<text class="l"><tspan x="141.08" y="315.86">0.4</tspan><tspan x="141.08" y="319.91">0.9</tspan><tspan x="141.08" y="323.95">0.5</tspan></text>
<text class="l"><tspan x="155.48" y="315.86">0.4</tspan><tspan x="155.48" y="319.91">0.9</tspan><tspan x="155.48" y="323.95">0.4</tspan></text>
<text class="l"><tspan x="169.89" y="315.86">0.4</tspan><tspan x="169.89" y="319.91">0.9</tspan><tspan x="169.89" y="323.95">0.4</tspan></text>
<text class="l"><tspan x="184.30" y="315.86">0.4</tspan><tspan x="184.30" y="319.91">1.0</tspan><tspan x="184.30" y="323.95">0.5</tspan></text>
<text class="l"><tspan x="198.70" y="315.86">0.4</tspan><tspan x="198.70" y="319.91">1.0</tspan><tspan x="198.70" y="323.95">0.4</tspan></text>
<text class="l"><tspan x="213.11" y="315.86">0.4</tspan><tspan x="213.11" y="319.91">1.0</tspan><tspan x="213.11" y="323.95">0.4</tspan></text>
<text class="l"><tspan x="227.52" y="315.86">0.4</tspan><tspan x="227.52" y="319.91">0.9</tspan><tspan x="227.52" y="323.95">0.4</tspan></text>
<text class="l"><tspan x="241.92" y="315.86">0.3</tspan><tspan x="241.92" y="319.91">0.9</tspan><tspan x="241.92" y="323.95">0.4</tspan></text>
<text class="l"><tspan x="256.33" y="315.86">0.4</tspan><tspan x="256.33" y="319.91">0.9</tspan><tspan x="256.33" y="323.95">0.4</tspan></text>
<text class="l"><tspan x="270.74" y="315.86">0.7</tspan><tspan x="270.74" y="319.91">1.0</tspan><tspan x="270.74" y="323.95">0.7</tspan></text>
<text class="l"><tspan x="285.15" y="315.86">0.7</tspan><tspan x="285.15" y="319.91">1.0</tspan><tspan x="285.15" y="323.95">0.7</tspan></text>
<text class="l"><tspan x="40.23" y="327.99">0.3</tspan><tspan x="40.23" y="332.04">1.0</tspan><tspan x="40.23" y="336.08">0.4</tspan></text>
<text class="l"><tspan x="54.63" y="327.99">0.3</tspan><tspan x="54.63" y="332.04">1.0</tspan><tspan x="54.63" y="336.08">0.3</tspan></text>
<text class="l"><tspan x="69.04" y="327.99">0.3</tspan><tspan x="69.04" y="332.04">0.9</tspan><tspan x="69.04" y="336.08">0.3</tspan></text>
<text class="l"><tspan x="83.45" y="327.99">0.3</tspan><tspan x="83.45" y="332.04">0.9</tspan><tspan x="83.45" y="336.08">0.4</tspan></text>
<text class="l"><tspan x="97.85" y="327.99">0.3</tspan><tspan x="97.85" y="332.04">0.9</tspan><tspan x="97.85" y="336.08">0.3</tspan></text>
<text class="l"><tspan x="112.26" y="327.99">0.4</tspan><tspan x="112.26" y="332.04">1.0</tspan><tspan x="112.26" y="336.08">0.3</tspan></text>
<text class="l"><tspan x="126.67" y="327.99">0.4</tspan><tspan x="126.67" y="332.04">1.0</tspan><tspan x="126.67" y="336.08">0.4</tspan></text>
<text class="l"><tspan x="141.08" y="327.99">0.4</tspan><tspan x="141.08" y="332.04">1.0</tspan><tspan x="141.08" y="336.08">0.4</tspan></text>
<text class="l"><tspan x="155.48" y="327.99">0.4</tspan><tspan x="155.48" y="332.04">0.9</tspan><tspan x="155.48" y="336.08">0.4</tspan></text>
<text class="l"><tspan x="169.89" y="327.99">0.5</tspan><tspan x="169.89" y="332.04">0.9</tspan><tspan x="169.89" y="336.08">0.5</tspan></text>
<text class="l"><tspan x="184.30" y="327.99">0.4</tspan><tspan x="184.30" y="332.04">0.9</tspan><tspan x="184.30" y="336.08">0.4</tspan></text>
<text class="l"><tspan x="198.70" y="327.99">0.4</tspan><tspan x="198.70" y="332.04">1.0</tspan><tspan x="198.70" y="336.08">0.4</tspan></text>
<text class="l"><tspan x="213.11" y="327.99">0.4</tspan><tspan x="213.11" y="332.04">1.0</tspan><tspan x="213.11" y="336.08">0.4</tspan></text>
<text class="l"><tspan x="227.52" y="327.99">0.4</tspan><tspan x="227.52" y="332.04">1.0</tspan><tspan x="227.52" y="336.08">0.4</tspan></text>
<text class="l"><tspan x="241.92" y="327.99">0.4</tspan><tspan x="241.92" y="332.04">0.9</tspan><tspan x="241.92" y="336.08">0.3</tspan></text>
<text class="l"><tspan x="256.33" y="327.99">0.4</tspan><tspan x="256.33" y="332.04">0.9</tspan><tspan x="256.33" y="336.08">0.4</tspan></text>
<text class="l"><tspan x="270.74" y="327.99">0.7</tspan><tspan x="270.74" y="332.04">0.9</tspan><tspan x="270.74" y="336.08">0.7</tspan></text>
<text class="l"><tspan x="285.15" y="327.99">0.7</tspan><tspan x="285.15" y="332.04">1.0</tspan><tspan x="285.15" y="336.08">0.7</tspan></text>
<text class="l"><tspan x="299.55" y="327.99">0.9</tspan><tspan x="299.55" y="332.04">1.0</tspan><tspan x="299.55" y="336.08">1.0</tspan></text>
<text class="l"><tspan x="40.23" y="340.12">0.4</tspan><tspan x="40.23" y="344.17">1.0</tspan><tspan x="40.23" y="348.21">0.3</tspan></text>
<text class="l"><tspan x="54.63" y="340.12">0.3</tspan><tspan x="54.63" y="344.17">1.0</tspan><tspan x="54.63" y="348.21">0.3</tspan></text>
<text class="l"><tspan x="69.04" y="340.12">0.4</tspan><tspan x="69.04" y="344.17">1.0</tspan><tspan x="69.04" y="348.21">0.4</tspan></text>
<text class="l"><tspan x="83.45" y="340.12">0.4</tspan><tspan x="83.45" y="344.17">0.9</tspan><tspan x="83.45" y="348.21">0.4</tspan></text>
<text class="l"><tspan x="97.85" y="340.12">0.4</tspan><tspan x="97.85" y="344.17">0.9</tspan><tspan x="97.85" y="348.21">0.3</tspan></text>
<text class="l"><tspan x="112.26" y="340.12">0.4</tspan><tspan x="112.26" y="344.17">0.9</tspan><tspan x="112.26" y="348.21">0.4</tspan></text>
<text class="l"><tspan x="126.67" y="340.12">0.4</tspan><tspan x="126.67" y="344.17">1.0</tspan><tspan x="126.67" y="348.21">0.4</tspan></text>
<text class="l"><tspan x="141.08" y="340.12">0.4</tspan><tspan x="141.08" y="344.17">1.0</tspan><tspan x="141.08" y="348.21">0.4</tspan></text>
<text class="l"><tspan x="155.48" y="340.12">0.4</tspan><tspan x="155.48" y="344.17">1.0</tspan><tspan x="155.48" y="348.21">0.4</tspan></text>
<text class="l"><tspan x="169.89" y="340.12">0.5</tspan><tspan x="169.89" y="344.17">0.9</tspan><tspan x="169.89" y="348.21">0.5</tspan></text>
<text class="l"><tspan x="184.30" y="340.12">0.5</tspan><tspan x="184.30" y="344.17">0.9</tspan><tspan x="184.30" y="348.21">0.4</tspan></text>
<text class="l"><tspan x="198.70" y="340.12">0.4</tspan><tspan x="198.70" y="344.17">0.9</tspan><tspan x="198.70" y="348.21">0.4</tspan></text>
<text class="l"><tspan x="213.11" y="340.12">0.4</tspan><tspan x="213.11" y="344.17">1.0</tspan><tspan x="213.11" y="348.21">0.4</tspan></text>
<text class="l"><tspan x="227.52" y="340.12">0.4</tspan><tspan x="227.52" y="344.17">1.0</tspan><tspan x="227.52" y="348.21">0.4</tspan></text>
<text class="l"><tspan x="241.92" y="340.12">0.4</tspan><tspan x="241.92" y="344.17">1.0</tspan><tspan x="241.92" y="348.21">0.4</tspan></text>
<text class="l"><tspan x="256.33" y="340.12">0.4</tspan><tspan x="256.33" y="344.17">0.9</tspan><tspan x="256.33" y="348.21">0.4</tspan></text>
<text class="l"><tspan x="270.74" y="340.12">0.9</tspan><tspan x="270.74" y="344.17">0.9</tspan><tspan x="270.74" y="348.21">0.9</tspan></text>
<text class="l"><tspan x="285.15" y="340.12">0.9</tspan><tspan x="285.15" y="344.17">0.9</tspan><tspan x="285.15" y="348.21">0.9</tspan></text>
<text class="l"><tspan x="299.55" y="340.12">0.9</tspan><tspan x="299.55" y="344.17">1.0</tspan><tspan x="299.55" y="348.21">0.9</tspan></text>
<text class="l"><tspan x="313.96" y="340.12">0.9</tspan><tspan x="313.96" y="344.17">1.0</tspan><tspan x="313.96" y="348.21">0.9</tspan></text>
<text class="l"><tspan x="40.23" y="352.25">0.3</tspan><tspan x="40.23" y="356.30">0.9</tspan><tspan x="40.23" y="360.34">0.3</tspan></text>
<text class="l"><tspan x="54.63" y="352.25">0.3</tspan><tspan x="54.63" y="356.30">1.0</tspan><tspan x="54.63" y="360.34">0.3</tspan></text>
<text class="l"><tspan x="69.04" y="352.25">0.3</tspan><tspan x="69.04" y="356.30">1.0</tspan><tspan x="69.04" y="360.34">0.3</tspan></text>
<text class="l"><tspan x="83.45" y="352.25">0.3</tspan><tspan x="83.45" y="356.30">1.0</tspan><tspan x="83.45" y="360.34">0.3</tspan></text>
<text class="l"><tspan x="97.85" y="352.25">0.3</tspan><tspan x="97.85" y="356.30">0.9</tspan><tspan x="97.85" y="360.34">0.4</tspan></text>
<text class="l"><tspan x="112.26" y="352.25">0.3</tspan><tspan x="112.26" y="356.30">0.9</tspan><tspan x="112.26" y="360.34">0.4</tspan></text>
<text class="l"><tspan x="126.67" y="352.25">0.4</tspan><tspan x="126.67" y="356.30">0.9</tspan><tspan x="126.67" y="360.34">0.4</tspan></text>
<text class="l"><tspan x="141.08" y="352.25">0.4</tspan><tspan x="141.08" y="356.30">1.0</tspan><tspan x="141.08" y="360.34">0.4</tspan></text>
<text class="l"><tspan x="155.48" y="352.25">0.4</tspan><tspan x="155.48" y="356.30">1.0</tspan><tspan x="155.48" y="360.34">0.4</tspan></text>
<text class="l"><tspan x="169.89" y="352.25">0.4</tspan><tspan x="169.89" y="356.30">1.0</tspan><tspan x="169.89" y="360.34">0.4</tspan></text>
<text class="l"><tspan x="184.30" y="352.25">0.5</tspan><tspan x="184.30" y="356.30">0.9</tspan><tspan x="184.30" y="360.34">0.5</tspan></text>
<text class="l"><tspan x="198.70" y="352.25">0.5</tspan><tspan x="198.70" y="356.30">0.9</tspan><tspan x="198.70" y="360.34">0.5</tspan></text>
<text class="l"><tspan x="213.11" y="352.25">0.5</tspan><tspan x="213.11" y="356.30">0.9</tspan><tspan x="213.11" y="360.34">0.5</tspan></text>
<text class="l"><tspan x="227.52" y="352.25">0.4</tspan><tspan x="227.52" y="356.30">1.0</tspan><tspan x="227.52" y="360.34">0.4</tspan></text>
<text class="l"><tspan x="241.92" y="352.25">0.3</tspan><tspan x="241.92" y="356.30">1.0</tspan><tspan x="241.92" y="360.34">0.4</tspan></text>
<text class="l"><tspan x="256.33" y="352.25">0.4</tspan><tspan x="256.33" y="356.30">1.0</tspan><tspan x="256.33" y="360.34">0.4</tspan></text>
<text class="l"><tspan x="270.74" y="352.25">0.4</tspan><tspan x="270.74" y="356.30">0.9</tspan><tspan x="270.74" y="360.34">0.5</tspan></text>
<text class="l"><tspan x="285.15" y="352.25">0.4</tspan><tspan x="285.15" y="356.30">0.9</tspan><tspan x="285.15" y="360.34">0.4</tspan></text>
<text class="l"><tspan x="299.55" y="352.25">0.4</tspan><tspan x="299.55" y="356.30">0.9</tspan><tspan x="299.55" y="360.34">0.4</tspan></text>
<text class="l"><tspan x="313.96" y="352.25">0.4</tspan><tspan x="313.96" y="356.30">1.0</tspan><tspan x="313.96" y="360.34">0.5</tspan></text>
<text class="l"><tspan x="328.37" y="352.25">0.4</tspan><tspan x="328.37" y="356.30">1.0</tspan><tspan x="328.37" y="360.34">0.5</tspan></text>
<text class="l"><tspan x="40.23" y="364.38">0.3</tspan><tspan x="40.23" y="368.43">0.9</tspan><tspan x="40.23" y="372.47">0.4</tspan></text>
<text class="l"><tspan x="54.63" y="364.38">0.3</tspan><tspan x="54.63" y="368.43">0.9</tspan><tspan x="54.63" y="372.47">0.3</tspan></text>
<text class="l"><tspan x="69.04" y="364.38">0.3</tspan><tspan x="69.04" y="368.43">1.0</tspan><tspan x="69.04" y="372.47">0.3</tspan></text>
<text class="l"><tspan x="83.45" y="364.38">0.4</tspan><tspan x="83.45" y="368.43">1.0</tspan><tspan x="83.45" y="372.47">0.4</tspan></text>
<text class="l"><tspan x="97.85" y="364.38">0.3</tspan><tspan x="97.85" y="368.43">1.0</tspan><tspan x="97.85" y="372.47">0.3</tspan></text>
<text class="l"><tspan x="112.26" y="364.38">0.4</tspan><tspan x="112.26" y="368.43">0.9</tspan><tspan x="112.26" y="372.47">0.3</tspan></text>
<text class="l"><tspan x="126.67" y="364.38">0.4</tspan><tspan x="126.67" y="368.43">0.9</tspan><tspan x="126.67" y="372.47">0.4</tspan></text>
<text class="l"><tspan x="141.08" y="364.38">0.4</tspan><tspan x="141.08" y="368.43">0.9</tspan><tspan x="141.08" y="372.47">0.4</tspan></text>
<text class="l"><tspan x="155.48" y="364.38">0.4</tspan><tspan x="155.48" y="368.43">1.0</tspan><tspan x="155.48" y="372.47">0.4</tspan></text>
<text class="l"><tspan x="169.89" y="364.38">0.6</tspan><tspan x="169.89" y="368.43">1.0</tspan><tspan x="169.89" y="372.47">0.6</tspan></text>
<text class="l"><tspan x="184.30" y="364.38">0.5</tspan><tspan x="184.30" y="368.43">1.0</tspan><tspan x="184.30" y="372.47">0.5</tspan></text>
<text class="l"><tspan x="198.70" y="364.38">0.5</tspan><tspan x="198.70" y="368.43">0.9</tspan><tspan x="198.70" y="372.47">0.5</tspan></text>
<text class="l"><tspan x="213.11" y="364.38">0.5</tspan><tspan x="213.11" y="368.43">0.9</tspan><tspan x="213.11" y="372.47">0.5</tspan></text>
<text class="l"><tspan x="227.52" y="364.38">0.4</tspan><tspan x="227.52" y="368.43">0.9</tspan><tspan x="227.52" y="372.47">0.4</tspan></text>
<text class="l"><tspan x="241.92" y="364.38">0.4</tspan><tspan x="241.92" y="368.43">1.0</tspan><tspan x="241.92" y="372.47">0.4</tspan></text>
<text class="l"><tspan x="256.33" y="364.38">0.5</tspan><tspan x="256.33" y="368.43">1.0</tspan><tspan x="256.33" y="372.47">0.5</tspan></text>
<text class="l"><tspan x="270.74" y="364.38">0.7</tspan><tspan x="270.74" y="368.43">1.0</tspan><tspan x="270.74" y="372.47">0.7</tspan></text>
<text class="l"><tspan x="285.15" y="364.38">0.7</tspan><tspan x="285.15" y="368.43">0.9</tspan><tspan x="285.15" y="372.47">0.7</tspan></text>
<text class="l"><tspan x="299.55" y="364.38">0.6</tspan><tspan x="299.55" y="368.43">0.9</tspan><tspan x="299.55" y="372.47">0.6</tspan></text>
<text class="l"><tspan x="313.96" y="364.38">0.6</tspan><tspan x="313.96" y="368.43">0.9</tspan><tspan x="313.96" y="372.47">0.6</tspan></text>
<text class="l"><tspan x="328.37" y="364.38">0.6</tspan><tspan x="328.37" y="368.43">1.0</tspan><tspan x="328.37" y="372.47">0.5</tspan></text>
<text class="l"><tspan x="342.77" y="364.38">0.9</tspan><tspan x="342.77" y="368.43">1.0</tspan><tspan x="342.77" y="372.47">0.9</tspan></text>
<text class="l"><tspan x="40.23" y="376.51">0.4</tspan><tspan x="40.23" y="380.56">0.9</tspan><tspan x="40.23" y="384.60">0.3</tspan></text>
<text class="l"><tspan x="54.63" y="376.51">0.3</tspan><tspan x="54.63" y="380.56">0.9</tspan><tspan x="54.63" y="384.60">0.3</tspan></text>
<text class="l"><tspan x="69.04" y="376.51">0.4</tspan><tspan x="69.04" y="380.56">0.9</tspan><tspan x="69.04" y="384.60">0.4</tspan></text>
<text class="l"><tspan x="83.45" y="376.51">0.4</tspan><tspan x="83.45" y="380.56">1.0</tspan><tspan x="83.45" y="384.60">0.4</tspan></text>
<text class="l"><tspan x="97.85" y="376.51">0.4</tspan><tspan x="97.85" y="380.56">1.0</tspan><tspan x="97.85" y="384.60">0.3</tspan></text>
<text class="l"><tspan x="112.26" y="376.51">0.4</tspan><tspan x="112.26" y="380.56">1.0</tspan><tspan x="112.26" y="384.60">0.4</tspan></text>
<text class="l"><tspan x="126.67" y="376.51">0.4</tspan><tspan x="126.67" y="380.56">0.9</tspan><tspan x="126.67" y="384.60">0.4</tspan></text>
<text class="l"><tspan x="141.08" y="376.51">0.5</tspan><tspan x="141.08" y="380.56">0.9</tspan><tspan x="141.08" y="384.60">0.4</tspan></text>
<text class="l"><tspan x="155.48" y="376.51">0.5</tspan><tspan x="155.48" y="380.56">0.9</tspan><tspan x="155.48" y="384.60">0.5</tspan></text>
<text class="l"><tspan x="169.89" y="376.51">0.6</tspan><tspan x="169.89" y="380.56">1.0</tspan><tspan x="169.89" y="384.60">0.6</tspan></text>
<text class="l"><tspan x="184.30" y="376.51">0.6</tspan><tspan x="184.30" y="380.56">1.0</tspan><tspan x="184.30" y="384.60">0.5</tspan></text>
<text class="l"><tspan x="198.70" y="376.51">0.5</tspan><tspan x="198.70" y="380.56">1.0</tspan><tspan x="198.70" y="384.60">0.5</tspan></text>
<text class="l"><tspan x="213.11" y="376.51">0.5</tspan><tspan x="213.11" y="380.56">0.9</tspan><tspan x="213.11" y="384.60">0.5</tspan></text>
<text class="l"><tspan x="227.52" y="376.51">0.4</tspan><tspan x="227.52" y="380.56">0.9</tspan><tspan x="227.52" y="384.60">0.4</tspan></text>
<text class="l"><tspan x="241.92" y="376.51">0.4</tspan><tspan x="241.92" y="380.56">0.9</tspan><tspan x="241.92" y="384.60">0.4</tspan></text>
<text class="l"><tspan x="256.33" y="376.51">0.5</tspan><tspan x="256.33" y="380.56">1.0</tspan><tspan x="256.33" y="384.60">0.5</tspan></text>
<text class="l"><tspan x="270.74" y="376.51">0.5</tspan><tspan x="270.74" y="380.56">1.0</tspan><tspan x="270.74" y="384.60">0.5</tspan></text>
<text class="l"><tspan x="285.15" y="376.51">0.5</tspan><tspan x="285.15" y="380.56">1.0</tspan><tspan x="285.15" y="384.60">0.5</tspan></text>
<text class="l"><tspan x="299.55" y="376.51">0.7</tspan><tspan x="299.55" y="380.56">0.9</tspan><tspan x="299.55" y="384.60">0.6</tspan></text>
<text class="l"><tspan x="313.96" y="376.51">0.6</tspan><tspan x="313.96" y="380.56">0.9</tspan><tspan x="313.96" y="384.60">0.5</tspan></text>
<text class="l"><tspan x="328.37" y="376.51">0.5</tspan><tspan x="328.37" y="380.56">0.9</tspan><tspan x="328.37" y="384.60">0.5</tspan></text>
<text class="l"><tspan x="342.77" y="376.51">0.6</tspan><tspan x="342.77" y="380.56">1.0</tspan><tspan x="342.77" y="384.60">0.6</tspan></text>
<text class="l"><tspan x="357.18" y="376.51">0.7</tspan><tspan x="357.18" y="380.56">1.0</tspan><tspan x="357.18" y="384.60">0.6</tspan></text>
<text class="l"><tspan x="40.23" y="388.64">0.3</tspan><tspan x="40.23" y="392.69">1.0</tspan><tspan x="40.23" y="396.73">0.3</tspan></text>
<text class="l"><tspan x="54.63" y="388.64">0.3</tspan><tspan x="54.63" y="392.69">0.9</tspan><tspan x="54.63" y="396.73">0.3</tspan></text>
<text class="l"><tspan x="69.04" y="388.64">0.3</tspan><tspan x="69.04" y="392.69">0.9</tspan><tspan x="69.04" y="396.73">0.3</tspan></text>
<text class="l"><tspan x="83.45" y="388.64">0.3</tspan><tspan x="83.45" y="392.69">0.9</tspan><tspan x="83.45" y="396.73">0.3</tspan></text>
<text class="l"><tspan x="97.85" y="388.64">0.3</tspan><tspan x="97.85" y="392.69">1.0</tspan><tspan x="97.85" y="396.73">0.4</tspan></text>
<text class="l"><tspan x="112.26" y="388.64">0.3</tspan><tspan x="112.26" y="392.69">1.0</tspan><tspan x="112.26" y="396.73">0.4</tspan></text>
<text class="l"><tspan x="126.67" y="388.64">0.4</tspan><tspan x="126.67" y="392.69">1.0</tspan><tspan x="126.67" y="396.73">0.4</tspan></text>
<text class="l"><tspan x="141.08" y="388.64">0.4</tspan><tspan x="141.08" y="392.69">0.9</tspan><tspan x="141.08" y="396.73">0.5</tspan></text>
<text class="l"><tspan x="155.48" y="388.64">0.5</tspan><tspan x="155.48" y="392.69">0.9</tspan><tspan x="155.48" y="396.73">0.5</tspan></text>
<text class="l"><tspan x="169.89" y="388.64">0.6</tspan><tspan x="169.89" y="392.69">0.9</tspan><tspan x="169.89" y="396.73">0.6</tspan></text>
<text class="l"><tspan x="184.30" y="388.64">0.6</tspan><tspan x="184.30" y="392.69">1.0</tspan><tspan x="184.30" y="396.73">0.6</tspan></text>
<text class="l"><tspan x="198.70" y="388.64">0.4</tspan><tspan x="198.70" y="392.69">1.0</tspan><tspan x="198.70" y="396.73">0.5</tspan></text>
<text class="l"><tspan x="213.11" y="388.64">0.4</tspan><tspan x="213.11" y="392.69">1.0</tspan><tspan x="213.11" y="396.73">0.4</tspan></text>
<text class="l"><tspan x="227.52" y="388.64">0.4</tspan><tspan x="227.52" y="392.69">0.9</tspan><tspan x="227.52" y="396.73">0.4</tspan></text>
<text class="l"><tspan x="241.92" y="388.64">0.4</tspan><tspan x="241.92" y="392.69">0.9</tspan><tspan x="241.92" y="396.73">0.4</tspan></text>
<text class="l"><tspan x="256.33" y="388.64">0.4</tspan><tspan x="256.33" y="392.69">0.9</tspan><tspan x="256.33" y="396.73">0.4</tspan></text>
<text class="l"><tspan x="270.74" y="388.64">0.6</tspan><tspan x="270.74" y="392.69">1.0</tspan><tspan x="270.74" y="396.73">0.7</tspan></text>
<text class="l"><tspan x="285.15" y="388.64">0.6</tspan><tspan x="285.15" y="392.69">1.0</tspan><tspan x="285.15" y="396.73">0.7</tspan></text>
<text class="l"><tspan x="299.55" y="388.64">0.7</tspan><tspan x="299.55" y="392.69">1.0</tspan><tspan x="299.55" y="396.73">0.7</tspan></text>
<text class="l"><tspan x="313.96" y="388.64">0.6</tspan><tspan x="313.96" y="392.69">0.9</tspan><tspan x="313.96" y="396.73">0.7</tspan></text>
<text class="l"><tspan x="328.37" y="388.64">0.6</tspan><tspan x="328.37" y="392.69">0.9</tspan><tspan x="328.37" y="396.73">0.6</tspan></text>
<text class="l"><tspan x="342.77" y="388.64">0.5</tspan><tspan x="342.77" y="392.69">0.9</tspan><tspan x="342.77" y="396.73">0.5</tspan></text>
<text class="l"><tspan x="357.18" y="388.64">0.7</tspan><tspan x="357.18" y="392.69">1.0</tspan><tspan x="357.18" y="396.73">0.8</tspan></text>
<text class="l"><tspan x="371.59" y="388.64">0.7</tspan><tspan x="371.59" y="392.69">1.0</tspan><tspan x="371.59" y="396.73">0.7</tspan></text>
<text class="l"><tspan x="40.23" y="400.77">0.3</tspan><tspan x="40.23" y="404.81">1.0</tspan><tspan x="40.23" y="408.86">0.4</tspan></text>
<text class="l"><tspan x="54.63" y="400.77">0.3</tspan><tspan x="54.63" y="404.81">1.0</tspan><tspan x="54.63" y="408.86">0.3</tspan></text>
<text class="l"><tspan x="69.04" y="400.77">0.3</tspan><tspan x="69.04" y="404.81">0.9</tspan><tspan x="69.04" y="408.86">0.3</tspan></text>
<text class="l"><tspan x="83.45" y="400.77">0.4</tspan><tspan x="83.45" y="404.81">0.9</tspan><tspan x="83.45" y="408.86">0.4</tspan></text>
<text class="l"><tspan x="97.85" y="400.77">0.3</tspan><tspan x="97.85" y="404.81">0.9</tspan><tspan x="97.85" y="408.86">0.3</tspan></text>
<text class="l"><tspan x="112.26" y="400.77">0.4</tspan><tspan x="112.26" y="404.81">1.0</tspan><tspan x="112.26" y="408.86">0.3</tspan></text>
<text class="l"><tspan x="126.67" y="400.77">0.4</tspan><tspan x="126.67" y="404.81">1.0</tspan><tspan x="126.67" y="408.86">0.5</tspan></text>
<text class="l"><tspan x="141.08" y="400.77">0.5</tspan><tspan x="141.08" y="404.81">1.0</tspan><tspan x="141.08" y="408.86">0.5</tspan></text>
<text class="l"><tspan x="155.48" y="400.77">0.5</tspan><tspan x="155.48" y="404.81">0.9</tspan><tspan x="155.48" y="408.86">0.5</tspan></text>
<text class="l"><tspan x="169.89" y="400.77">0.6</tspan><tspan x="169.89" y="404.81">0.9</tspan><tspan x="169.89" y="408.86">0.6</tspan></text>
<text class="l"><tspan x="184.30" y="400.77">0.5</tspan><tspan x="184.30" y="404.81">0.9</tspan><tspan x="184.30" y="408.86">0.5</tspan></text>
<text class="l"><tspan x="198.70" y="400.77">0.5</tspan><tspan x="198.70" y="404.81">1.0</tspan><tspan x="198.70" y="408.86">0.5</tspan></text>
<text class="l"><tspan x="213.11" y="400.77">0.5</tspan><tspan x="213.11" y="404.81">1.0</tspan><tspan x="213.11" y="408.86">0.5</tspan></text>
<text class="l"><tspan x="227.52" y="400.77">0.4</tspan><tspan x="227.52" y="404.81">1.0</tspan><tspan x="227.52" y="408.86">0.4</tspan></text>
<text class="l"><tspan x="241.92" y="400.77">0.4</tspan><tspan x="241.92" y="404.81">0.9</tspan><tspan x="241.92" y="408.86">0.4</tspan></text>
<text class="l"><tspan x="256.33" y="400.77">0.4</tspan><tspan x="256.33" y="404.81">0.9</tspan><tspan x="256.33" y="408.86">0.5</tspan></text>
<text class="l"><tspan x="270.74" y="400.77">0.6</tspan><tspan x="270.74" y="404.81">0.9</tspan><tspan x="270.74" y="408.86">0.6</tspan></text>
<text class="l"><tspan x="285.15" y="400.77">0.6</tspan><tspan x="285.15" y="404.81">1.0</tspan><tspan x="285.15" y="408.86">0.6</tspan></text>
<text class="l"><tspan x="299.55" y="400.77">0.5</tspan><tspan x="299.55" y="404.81">1.0</tspan><tspan x="299.55" y="408.86">0.5</tspan></text>
<text class="l"><tspan x="313.96" y="400.77">0.5</tspan><tspan x="313.96" y="404.81">1.0</tspan><tspan x="313.96" y="408.86">0.5</tspan></text>
<text class="l"><tspan x="328.37" y="400.77">0.5</tspan><tspan x="328.37" y="404.81">0.9</tspan><tspan x="328.37" y="408.86">0.5</tspan></text>
<text class="l"><tspan x="342.77" y="400.77">0.5</tspan><tspan x="342.77" y="404.81">0.9</tspan><tspan x="342.77" y="408.86">0.5</tspan></text>
<text class="l"><tspan x="357.18" y="400.77">0.7</tspan><tspan x="357.18" y="404.81">0.9</tspan><tspan x="357.18" y="408.86">0.7</tspan></text>
<text class="l"><tspan x="371.59" y="400.77">0.6</tspan><tspan x="371.59" y="404.81">1.0</tspan><tspan x="371.59" y="408.86">0.6</tspan></text>
<text class="l"><tspan x="385.99" y="400.77">0.8</tspan><tspan x="385.99" y="404.81">1.0</tspan><tspan x="385.99" y="408.86">0.8</tspan></text>
<text class="l"><tspan x="40.23" y="412.90">0.4</tspan><tspan x="40.23" y="416.94">1.0</tspan><tspan x="40.23" y="420.99">0.3</tspan></text>
<text class="l"><tspan x="54.63" y="412.90">0.3</tspan><tspan x="54.63" y="416.94">1.0</tspan><tspan x="54.63" y="420.99">0.3</tspan></text>
<text class="l"><tspan x="69.04" y="412.90">0.4</tspan><tspan x="69.04" y="416.94">1.0</tspan><tspan x="69.04" y="420.99">0.4</tspan></text>
<text class="l"><tspan x="83.45" y="412.90">0.4</tspan><tspan x="83.45" y="416.94">0.9</tspan><tspan x="83.45" y="420.99">0.4</tspan></text>
<text class="l"><tspan x="97.85" y="412.90">0.4</tspan><tspan x="97.85" y="416.94">0.9</tspan><tspan x="97.85" y="420.99">0.3</tspan></text>
<text class="l"><tspan x="112.26" y="412.90">0.4</tspan><tspan x="112.26" y="416.94">0.9</tspan><tspan x="112.26" y="420.99">0.4</tspan></text>
<text class="l"><tspan x="126.67" y="412.90">0.5</tspan><tspan x="126.67" y="416.94">1.0</tspan><tspan x="126.67" y="420.99">0.4</tspan></text>
<text class="l"><tspan x="141.08" y="412.90">0.5</tspan><tspan x="141.08" y="416.94">1.0</tspan><tspan x="141.08" y="420.99">0.5</tspan></text>
<text class="l"><tspan x="155.48" y="412.90">0.6</tspan><tspan x="155.48" y="416.94">1.0</tspan><tspan x="155.48" y="420.99">0.6</tspan></text>
<text class="l"><tspan x="169.89" y="412.90">0.6</tspan><tspan x="169.89" y="416.94">0.9</tspan><tspan x="169.89" y="420.99">0.6</tspan></text>
<text class="l"><tspan x="184.30" y="412.90">0.5</tspan><tspan x="184.30" y="416.94">0.9</tspan><tspan x="184.30" y="420.99">0.5</tspan></text>
<text class="l"><tspan x="198.70" y="412.90">0.5</tspan><tspan x="198.70" y="416.94">0.9</tspan><tspan x="198.70" y="420.99">0.5</tspan></text>
<text class="l"><tspan x="213.11" y="412.90">0.5</tspan><tspan x="213.11" y="416.94">1.0</tspan><tspan x="213.11" y="420.99">0.4</tspan></text>
<text class="l"><tspan x="227.52" y="412.90">0.4</tspan><tspan x="227.52" y="416.94">1.0</tspan><tspan x="227.52" y="420.99">0.4</tspan></text>
<text class="l"><tspan x="241.92" y="412.90">0.5</tspan><tspan x="241.92" y="416.94">1.0</tspan><tspan x="241.92" y="420.99">0.5</tspan></text>
<text class="l"><tspan x="256.33" y="412.90">0.5</tspan><tspan x="256.33" y="416.94">0.9</tspan><tspan x="256.33" y="420.99">0.5</tspan></text>
<text class="l"><tspan x="270.74" y="412.90">0.6</tspan><tspan x="270.74" y="416.94">0.9</tspan><tspan x="270.74" y="420.99">0.5</tspan></text>
<text class="l"><tspan x="285.15" y="412.90">0.6</tspan><tspan x="285.15" y="416.94">0.9</tspan><tspan x="285.15" y="420.99">0.6</tspan></text>
<text class="l"><tspan x="299.55" y="412.90">0.6</tspan><tspan x="299.55" y="416.94">1.0</tspan><tspan x="299.55" y="420.99">0.6</tspan></text>
<text class="l"><tspan x="313.96" y="412.90">0.6</tspan><tspan x="313.96" y="416.94">1.0</tspan><tspan x="313.96" y="420.99">0.5</tspan></text>
<text class="l"><tspan x="328.37" y="412.90">0.5</tspan><tspan x="328.37" y="416.94">1.0</tspan><tspan x="328.37" y="420.99">0.5</tspan></text>
<text class="l"><tspan x="342.77" y="412.90">0.5</tspan><tspan x="342.77" y="416.94">0.9</tspan><tspan x="342.77" y="420.99">0.5</tspan></text>
<text class="l"><tspan x="357.18" y="412.90">0.7</tspan><tspan x="357.18" y="416.94">0.9</tspan><tspan x="357.18" y="420.99">0.6</tspan></text>
<text class="l"><tspan x="371.59" y="412.90">0.7</tspan><tspan x="371.59" y="416.94">0.9</tspan><tspan x="371.59" y="420.99">0.7</tspan></text>
<text class="l"><tspan x="385.99" y="412.90">0.9</tspan><tspan x="385.99" y="416.94">1.0</tspan><tspan x="385.99" y="420.99">0.8</tspan></text>
<text class="l"><tspan x="400.40" y="412.90">1.0</tspan><tspan x="400.40" y="416.94">1.0</tspan><tspan x="400.40" y="420.99">1.0</tspan></text>
<text class="l"><tspan x="40.23" y="425.03">0.3</tspan><tspan x="40.23" y="429.08">0.9</tspan><tspan x="40.23" y="433.12">0.3</tspan></text>
<text class="l"><tspan x="54.63" y="425.03">0.3</tspan><tspan x="54.63" y="429.08">1.0</tspan><tspan x="54.63" y="433.12">0.3</tspan></text>
<text class="l"><tspan x="69.04" y="425.03">0.3</tspan><tspan x="69.04" y="429.08">1.0</tspan><tspan x="69.04" y="433.12">0.3</tspan></text>
<text class="l"><tspan x="83.45" y="425.03">0.3</tspan><tspan x="83.45" y="429.08">1.0</tspan><tspan x="83.45" y="433.12">0.3</tspan></text>
<text class="l"><tspan x="97.85" y="425.03">0.3</tspan><tspan x="97.85" y="429.08">0.9</tspan><tspan x="97.85" y="433.12">0.4</tspan></text>
<text class="l"><tspan x="112.26" y="425.03">0.3</tspan><tspan x="112.26" y="429.08">0.9</tspan><tspan x="112.26" y="433.12">0.4</tspan></text>
<text class="l"><tspan x="126.67" y="425.03">0.4</tspan><tspan x="126.67" y="429.08">0.9</tspan><tspan x="126.67" y="433.12">0.4</tspan></text>
<text class="l"><tspan x="141.08" y="425.03">0.5</tspan><tspan x="141.08" y="429.08">1.0</tspan><tspan x="141.08" y="433.12">0.5</tspan></text>
<text class="l"><tspan x="155.48" y="425.03">0.6</tspan><tspan x="155.48" y="429.08">1.0</tspan><tspan x="155.48" y="433.12">0.6</tspan></text>
<text class="l"><tspan x="169.89" y="425.03">0.6</tspan><tspan x="169.89" y="429.08">1.0</tspan><tspan x="169.89" y="433.12">0.6</tspan></text>
<text class="l"><tspan x="184.30" y="425.03">0.5</tspan><tspan x="184.30" y="429.08">0.9</tspan><tspan x="184.30" y="433.12">0.5</tspan></text>
<text class="l"><tspan x="198.70" y="425.03">0.4</tspan><tspan x="198.70" y="429.08">0.9</tspan><tspan x="198.70" y="433.12">0.4</tspan></text>
<text class="l"><tspan x="213.11" y="425.03">0.4</tspan><tspan x="213.11" y="429.08">0.9</tspan><tspan x="213.11" y="433.12">0.4</tspan></text>
<text class="l"><tspan x="227.52" y="425.03">0.4</tspan><tspan x="227.52" y="429.08">1.0</tspan><tspan x="227.52" y="433.12">0.4</tspan></text>
<text class="l"><tspan x="241.92" y="425.03">0.4</tspan><tspan x="241.92" y="429.08">1.0</tspan><tspan x="241.92" y="433.12">0.4</tspan></text>
<text class="l"><tspan x="256.33" y="425.03">0.5</tspan><tspan x="256.33" y="429.08">1.0</tspan><tspan x="256.33" y="433.12">0.5</tspan></text>
<text class="l"><tspan x="270.74" y="425.03">0.5</tspan><tspan x="270.74" y="429.08">0.9</tspan><tspan x="270.74" y="433.12">0.6</tspan></text>
<text class="l"><tspan x="285.15" y="425.03">0.5</tspan><tspan x="285.15" y="429.08">0.9</tspan><tspan x="285.15" y="433.12">0.6</tspan></text>
<text class="l"><tspan x="299.55" y="425.03">0.6</tspan><tspan x="299.55" y="429.08">0.9</tspan><tspan x="299.55" y="433.12">0.6</tspan></text>
<text class="l"><tspan x="313.96" y="425.03">0.5</tspan><tspan x="313.96" y="429.08">1.0</tspan><tspan x="313.96" y="433.12">0.6</tspan></text>
<text class="l"><tspan x="328.37" y="425.03">0.5</tspan><tspan x="328.37" y="429.08">1.0</tspan><tspan x="328.37" y="433.12">0.5</tspan></text>
<text class="l"><tspan x="342.77" y="425.03">0.5</tspan><tspan x="342.77" y="429.08">1.0</tspan><tspan x="342.77" y="433.12">0.5</tspan></text>
<text class="l"><tspan x="357.18" y="425.03">0.6</tspan><tspan x="357.18" y="429.08">0.9</tspan><tspan x="357.18" y="433.12">0.6</tspan></text>
<text class="l"><tspan x="371.59" y="425.03">0.7</tspan><tspan x="371.59" y="429.08">0.9</tspan><tspan x="371.59" y="433.12">0.7</tspan></text>
<text class="l"><tspan x="385.99" y="425.03">0.8</tspan><tspan x="385.99" y="429.08">0.9</tspan><tspan x="385.99" y="433.12">0.8</tspan></text>
<text class="l"><tspan x="400.40" y="425.03">1.0</tspan><tspan x="400.40" y="429.08">1.0</tspan><tspan x="400.40" y="433.12">1.0</tspan></text>
<text class="l"><tspan x="414.81" y="425.03">1.0</tspan><tspan x="414.81" y="429.08">1.0</tspan><tspan x="414.81" y="433.12">1.0</tspan></text>
<text class="l"><tspan x="40.23" y="437.16">0.1</tspan><tspan x="40.23" y="441.21">0.9</tspan><tspan x="40.23" y="445.25">0.1</tspan></text>
<text class="l"><tspan x="54.63" y="437.16">0.1</tspan><tspan x="54.63" y="441.21">0.9</tspan><tspan x="54.63" y="445.25">0.1</tspan></text>
<text class="l"><tspan x="69.04" y="437.16">0.1</tspan><tspan x="69.04" y="441.21">1.0</tspan><tspan x="69.04" y="445.25">0.0</tspan></text>
<text class="l"><tspan x="83.45" y="437.16">0.1</tspan><tspan x="83.45" y="441.21">1.0</tspan><tspan x="83.45" y="445.25">0.1</tspan></text>
<text class="l"><tspan x="97.85" y="437.16">0.1</tspan><tspan x="97.85" y="441.21">1.0</tspan><tspan x="97.85" y="445.25">0.1</tspan></text>
<text class="l"><tspan x="112.26" y="437.16">0.1</tspan><tspan x="112.26" y="441.21">0.9</tspan><tspan x="112.26" y="445.25">0.0</tspan></text>
<text class="l"><tspan x="126.67" y="437.16">0.1</tspan><tspan x="126.67" y="441.21">0.9</tspan><tspan x="126.67" y="445.25">0.1</tspan></text>
<text class="l"><tspan x="141.08" y="437.16">0.1</tspan><tspan x="141.08" y="441.21">0.9</tspan><tspan x="141.08" y="445.25">0.1</tspan></text>
<text class="l"><tspan x="155.48" y="437.16">0.1</tspan><tspan x="155.48" y="441.21">1.0</tspan><tspan x="155.48" y="445.25">0.0</tspan></text>
<text class="l"><tspan x="169.89" y="437.16">0.1</tspan><tspan x="169.89" y="441.21">1.0</tspan><tspan x="169.89" y="445.25">0.1</tspan></text>
<text class="l"><tspan x="184.30" y="437.16">0.1</tspan><tspan x="184.30" y="441.21">1.0</tspan><tspan x="184.30" y="445.25">0.1</tspan></text>
<text class="l"><tspan x="198.70" y="437.16">0.1</tspan><tspan x="198.70" y="441.21">0.9</tspan><tspan x="198.70" y="445.25">0.0</tspan></text>
<text class="l"><tspan x="213.11" y="437.16">0.1</tspan><tspan x="213.11" y="441.21">0.9</tspan><tspan x="213.11" y="445.25">0.1</tspan></text>
<text class="l"><tspan x="227.52" y="437.16">0.1</tspan><tspan x="227.52" y="441.21">0.9</tspan><tspan x="227.52" y="445.25">0.1</tspan></text>
<text class="l"><tspan x="241.92" y="437.16">0.1</tspan><tspan x="241.92" y="441.21">1.0</tspan><tspan x="241.92" y="445.25">0.0</tspan></text>
<text class="l"><tspan x="256.33" y="437.16">0.1</tspan><tspan x="256.33" y="441.21">1.0</tspan><tspan x="256.33" y="445.25">0.1</tspan></text>
<text class="l"><tspan x="270.74" y="437.16">0.1</tspan><tspan x="270.74" y="441.21">1.0</tspan><tspan x="270.74" y="445.25">0.1</tspan></text>
<text class="l"><tspan x="285.15" y="437.16">0.1</tspan><tspan x="285.15" y="441.21">0.9</tspan><tspan x="285.15" y="445.25">0.0</tspan></text>
<text class="l"><tspan x="299.55" y="437.16">0.1</tspan><tspan x="299.55" y="441.21">0.9</tspan><tspan x="299.55" y="445.25">0.1</tspan></text>
<text class="l"><tspan x="313.96" y="437.16">0.1</tspan><tspan x="313.96" y="441.21">0.9</tspan><tspan x="313.96" y="445.25">0.1</tspan></text>
<text class="l"><tspan x="328.37" y="437.16">0.1</tspan><tspan x="328.37" y="441.21">1.0</tspan><tspan x="328.37" y="445.25">0.0</tspan></text>
<text class="l"><tspan x="342.77" y="437.16">0.1</tspan><tspan x="342.77" y="441.21">1.0</tspan><tspan x="342.77" y="445.25">0.1</tspan></text>
<text class="l"><tspan x="357.18" y="437.16">0.1</tspan><tspan x="357.18" y="441.21">1.0</tspan><tspan x="357.18" y="445.25">0.1</tspan></text>
<text class="l"><tspan x="371.59" y="437.16">0.1</tspan><tspan x="371.59" y="441.21">0.9</tspan><tspan x="371.59" y="445.25">0.0</tspan></text>
<text class="l"><tspan x="385.99" y="437.16">0.1</tspan><tspan x="385.99" y="441.21">0.9</tspan><tspan x="385.99" y="445.25">0.1</tspan></text>
<text class="l"><tspan x="400.40" y="437.16">0.1</tspan><tspan x="400.40" y="441.21">0.9</tspan><tspan x="400.40" y="445.25">0.1</tspan></text>
<text class="l"><tspan x="414.81" y="437.16">0.1</tspan><tspan x="414.81" y="441.21">1.0</tspan><tspan x="414.81" y="445.25">0.0</tspan></text>
<text class="l"><tspan x="429.22" y="437.16">0.1</tspan><tspan x="429.22" y="441.21">1.0</tspan><tspan x="429.22" y="445.25">0.1</tspan></text>
<text class="l"><tspan x="40.23" y="449.29">0.1</tspan><tspan x="40.23" y="453.34">0.9</tspan><tspan x="40.23" y="457.38">0.1</tspan></text>
<text class="l"><tspan x="54.63" y="449.29">0.1</tspan><tspan x="54.63" y="453.34">0.9</tspan><tspan x="54.63" y="457.38">0.0</tspan></text>
<text class="l"><tspan x="69.04" y="449.29">0.1</tspan><tspan x="69.04" y="453.34">0.9</tspan><tspan x="69.04" y="457.38">0.1</tspan></text>
<text class="l"><tspan x="83.45" y="449.29">0.1</tspan><tspan x="83.45" y="453.34">1.0</tspan><tspan x="83.45" y="457.38">0.1</tspan></text>
<text class="l"><tspan x="97.85" y="449.29">0.1</tspan><tspan x="97.85" y="453.34">1.0</tspan><tspan x="97.85" y="457.38">0.0</tspan></text>
<text class="l"><tspan x="112.26" y="449.29">0.1</tspan><tspan x="112.26" y="453.34">1.0</tspan><tspan x="112.26" y="457.38">0.1</tspan></text>
<text class="l"><tspan x="126.67" y="449.29">0.1</tspan><tspan x="126.67" y="453.34">0.9</tspan><tspan x="126.67" y="457.38">0.1</tspan></text>
<text class="l"><tspan x="141.08" y="449.29">0.1</tspan><tspan x="141.08" y="453.34">0.9</tspan><tspan x="141.08" y="457.38">0.0</tspan></text>
<text class="l"><tspan x="155.48" y="449.29">0.1</tspan><tspan x="155.48" y="453.34">0.9</tspan><tspan x="155.48" y="457.38">0.1</tspan></text>
<text class="l"><tspan x="169.89" y="449.29">0.1</tspan><tspan x="169.89" y="453.34">1.0</tspan><tspan x="169.89" y="457.38">0.1</tspan></text>
<text class="l"><tspan x="184.30" y="449.29">0.1</tspan><tspan x="184.30" y="453.34">1.0</tspan><tspan x="184.30" y="457.38">0.0</tspan></text>
<text class="l"><tspan x="198.70" y="449.29">0.1</tspan><tspan x="198.70" y="453.34">1.0</tspan><tspan x="198.70" y="457.38">0.1</tspan></text>
<text class="l"><tspan x="213.11" y="449.29">0.1</tspan><tspan x="213.11" y="453.34">0.9</tspan><tspan x="213.11" y="457.38">0.1</tspan></text>
<text class="l"><tspan x="227.52" y="449.29">0.1</tspan><tspan x="227.52" y="453.34">0.9</tspan><tspan x="227.52" y="457.38">0.0</tspan></text>
<text class="l"><tspan x="241.92" y="449.29">0.1</tspan><tspan x="241.92" y="453.34">0.9</tspan><tspan x="241.92" y="457.38">0.1</tspan></text>
<text class="l"><tspan x="256.33" y="449.29">0.1</tspan><tspan x="256.33" y="453.34">1.0</tspan><tspan x="256.33" y="457.38">0.1</tspan></text>
<text class="l"><tspan x="270.74" y="449.29">0.1</tspan><tspan x="270.74" y="453.34">1.0</tspan><tspan x="270.74" y="457.38">0.0</tspan></text>
<text class="l"><tspan x="285.15" y="449.29">0.1</tspan><tspan x="285.15" y="453.34">1.0</tspan><tspan x="285.15" y="457.38">0.1</tspan></text>
<text class="l"><tspan x="299.55" y="449.29">0.1</tspan><tspan x="299.55" y="453.34">0.9</tspan><tspan x="299.55" y="457.38">0.1</tspan></text>
<text class="l"><tspan x="313.96" y="449.29">0.1</tspan><tspan x="313.96" y="453.34">0.9</tspan><tspan x="313.96" y="457.38">0.0</tspan></text>
<text class="l"><tspan x="328.37" y="449.29">0.1</tspan><tspan x="328.37" y="453.34">0.9</tspan><tspan x="328.37" y="457.38">0.1</tspan></text>
<text class="l"><tspan x="342.77" y="449.29">0.1</tspan><tspan x="342.77" y="453.34">1.0</tspan><tspan x="342.77" y="457.38">0.1</tspan></text>
<text class="l"><tspan x="357.18" y="449.29">0.1</tspan><tspan x="357.18" y="453.34">1.0</tspan><tspan x="357.18" y="457.38">0.0</tspan></text>
<text class="l"><tspan x="371.59" y="449.29">0.1</tspan><tspan x="371.59" y="453.34">1.0</tspan><tspan x="371.59" y="457.38">0.1</tspan></text>
<text class="l"><tspan x="385.99" y="449.29">0.1</tspan><tspan x="385.99" y="453.34">0.9</tspan><tspan x="385.99" y="457.38">0.1</tspan></text>
<text class="l"><tspan x="400.40" y="449.29">0.1</tspan><tspan x="400.40" y="453.34">0.9</tspan><tspan x="400.40" y="457.38">0.0</tspan></text>
<text class="l"><tspan x="414.81" y="449.29">0.1</tspan><tspan x="414.81" y="453.34">0.9</tspan><tspan x="414.81" y="457.38">0.1</tspan></text>
<text class="l"><tspan x="429.22" y="449.29">0.1</tspan><tspan x="429.22" y="453.34">1.0</tspan><tspan x="429.22" y="457.38">0.1</tspan></text>
<text class="l"><tspan x="443.62" y="449.29">0.1</tspan><tspan x="443.62" y="453.34">1.0</tspan><tspan x="443.62" y="457.38">0.0</tspan></text>
<text class="l"><tspan x="40.23" y="461.42">0.0</tspan><tspan x="40.23" y="465.47">1.0</tspan><tspan x="40.23" y="469.51">0.0</tspan></text>
<text class="l"><tspan x="54.63" y="461.42">0.0</tspan><tspan x="54.63" y="465.47">0.9</tspan><tspan x="54.63" y="469.51">0.1</tspan></text>
<text class="l"><tspan x="69.04" y="461.42">0.0</tspan><tspan x="69.04" y="465.47">0.9</tspan><tspan x="69.04" y="469.51">0.1</tspan></text>
<text class="l"><tspan x="83.45" y="461.42">0.0</tspan><tspan x="83.45" y="465.47">0.9</tspan><tspan x="83.45" y="469.51">0.0</tspan></text>
<text class="l"><tspan x="97.85" y="461.42">0.0</tspan><tspan x="97.85" y="465.47">1.0</tspan><tspan x="97.85" y="469.51">0.1</tspan></text>
<text class="l"><tspan x="112.26" y="461.42">0.0</tspan><tspan x="112.26" y="465.47">1.0</tspan><tspan x="112.26" y="469.51">0.1</tspan></text>
<text class="l"><tspan x="126.67" y="461.42">0.0</tspan><tspan x="126.67" y="465.47">1.0</tspan><tspan x="126.67" y="469.51">0.0</tspan></text>
<text class="l"><tspan x="141.08" y="461.42">0.0</tspan><tspan x="141.08" y="465.47">0.9</tspan><tspan x="141.08" y="469.51">0.1</tspan></text>
<text class="l"><tspan x="155.48" y="461.42">0.0</tspan><tspan x="155.48" y="465.47">0.9</tspan><tspan x="155.48" y="469.51">0.1</tspan></text>
<text class="l"><tspan x="169.89" y="461.42">0.0</tspan><tspan x="169.89" y="465.47">0.9</tspan><tspan x="169.89" y="469.51">0.0</tspan></text>
<text class="l"><tspan x="184.30" y="461.42">0.0</tspan><tspan x="184.30" y="465.47">1.0</tspan><tspan x="184.30" y="469.51">0.1</tspan></text>
<text class="l"><tspan x="198.70" y="461.42">0.0</tspan><tspan x="198.70" y="465.47">1.0</tspan><tspan x="198.70" y="469.51">0.1</tspan></text>
<text class="l"><tspan x="213.11" y="461.42">0.0</tspan><tspan x="213.11" y="465.47">1.0</tspan><tspan x="213.11" y="469.51">0.0</tspan></text>
<text class="l"><tspan x="227.52" y="461.42">0.0</tspan><tspan x="227.52" y="465.47">0.9</tspan><tspan x="227.52" y="469.51">0.1</tspan></text>
<text class="l"><tspan x="241.92" y="461.42">0.0</tspan><tspan x="241.92" y="465.47">0.9</tspan><tspan x="241.92" y="469.51">0.1</tspan></text>
<text class="l"><tspan x="256.33" y="461.42">0.0</tspan><tspan x="256.33" y="465.47">0.9</tspan><tspan x="256.33" y="469.51">0.0</tspan></text>
<text class="l"><tspan x="270.74" y="461.42">0.0</tspan><tspan x="270.74" y="465.47">1.0</tspan><tspan x="270.74" y="469.51">0.1</tspan></text>
<text class="l"><tspan x="285.15" y="461.42">0.0</tspan><tspan x="285.15" y="465.47">1.0</tspan><tspan x="285.15" y="469.51">0.1</tspan></text>
<text class="l"><tspan x="299.55" y="461.42">0.0</tspan><tspan x="299.55" y="465.47">1.0</tspan><tspan x="299.55" y="469.51">0.0</tspan></text>
<text class="l"><tspan x="313.96" y="461.42">0.0</tspan><tspan x="313.96" y="465.47">0.9</tspan><tspan x="313.96" y="469.51">0.1</tspan></text>
<text class="l"><tspan x="328.37" y="461.42">0.0</tspan><tspan x="328.37" y="465.47">0.9</tspan><tspan x="328.37" y="469.51">0.1</tspan></text>
<text class="l"><tspan x="342.77" y="461.42">0.0</tspan><tspan x="342.77" y="465.47">0.9</tspan><tspan x="342.77" y="469.51">0.0</tspan></text>
<text class="l"><tspan x="357.18" y="461.42">0.0</tspan><tspan x="357.18" y="465.47">1.0</tspan><tspan x="357.18" y="469.51">0.1</tspan></text>
<text class="l"><tspan x="371.59" y="461.42">0.0</tspan><tspan x="371.59" y="465.47">1.0</tspan><tspan x="371.59" y="469.51">0.1</tspan></text>
<text class="l"><tspan x="385.99" y="461.42">0.0</tspan><tspan x="385.99" y="465.47">1.0</tspan><tspan x="385.99" y="469.51">0.0</tspan></text>
<text class="l"><tspan x="400.40" y="461.42">0.0</tspan><tspan x="400.40" y="465.47">0.9</tspan><tspan x="400.40" y="469.51">0.1</tspan></text>
<text class="l"><tspan x="414.81" y="461.42">0.0</tspan><tspan x="414.81" y="465.47">0.9</tspan><tspan x="414.81" y="469.51">0.1</tspan></text>
<text class="l"><tspan x="429.22" y="461.42">0.0</tspan><tspan x="429.22" y="465.47">0.9</tspan><tspan x="429.22" y="469.51">0.0</tspan></text>
<text class="l"><tspan x="443.62" y="461.42">0.0</tspan><tspan x="443.62" y="465.47">1.0</tspan><tspan x="443.62" y="469.51">0.1</tspan></text>
<text class="l"><tspan x="458.03" y="461.42">1.0</tspan><tspan x="458.03" y="465.47">1.0</tspan><tspan x="458.03" y="469.51">1.0</tspan></text>
<text class="l"><tspan x="40.23" y="473.55">0.1</tspan><tspan x="40.23" y="477.60">1.0</tspan><tspan x="40.23" y="481.64">0.1</tspan></text>
<text class="l"><tspan x="54.63" y="473.55">0.1</tspan><tspan x="54.63" y="477.60">1.0</tspan><tspan x="54.63" y="481.64">0.1</tspan></text>
<text class="l"><tspan x="69.04" y="473.55">0.1</tspan><tspan x="69.04" y="477.60">0.9</tspan><tspan x="69.04" y="481.64">0.0</tspan></text>
<text class="l"><tspan x="83.45" y="473.55">0.1</tspan><tspan x="83.45" y="477.60">0.9</tspan><tspan x="83.45" y="481.64">0.1</tspan></text>
<text class="l"><tspan x="97.85" y="473.55">0.1</tspan><tspan x="97.85" y="477.60">0.9</tspan><tspan x="97.85" y="481.64">0.1</tspan></text>
<text class="l"><tspan x="112.26" y="473.55">0.1</tspan><tspan x="112.26" y="477.60">1.0</tspan><tspan x="112.26" y="481.64">0.0</tspan></text>
<text class="l"><tspan x="126.67" y="473.55">0.1</tspan><tspan x="126.67" y="477.60">1.0</tspan><tspan x="126.67" y="481.64">0.1</tspan></text>
<text class="l"><tspan x="141.08" y="473.55">0.1</tspan><tspan x="141.08" y="477.60">1.0</tspan><tspan x="141.08" y="481.64">0.1</tspan></text>
<text class="l"><tspan x="155.48" y="473.55">0.1</tspan><tspan x="155.48" y="477.60">0.9</tspan><tspan x="155.48" y="481.64">0.0</tspan></text>
<text class="l"><tspan x="169.89" y="473.55">0.1</tspan><tspan x="169.89" y="477.60">0.9</tspan><tspan x="169.89" y="481.64">0.1</tspan></text>
<text class="l"><tspan x="184.30" y="473.55">0.1</tspan><tspan x="184.30" y="477.60">0.9</tspan><tspan x="184.30" y="481.64">0.1</tspan></text>
<text class="l"><tspan x="198.70" y="473.55">0.1</tspan><tspan x="198.70" y="477.60">1.0</tspan><tspan x="198.70" y="481.64">0.0</tspan></text>
<text class="l"><tspan x="213.11" y="473.55">0.1</tspan><tspan x="213.11" y="477.60">1.0</tspan><tspan x="213.11" y="481.64">0.1</tspan></text>
<text class="l"><tspan x="227.52" y="473.55">0.1</tspan><tspan x="227.52" y="477.60">1.0</tspan><tspan x="227.52" y="481.64">0.1</tspan></text>
<text class="l"><tspan x="241.92" y="473.55">0.1</tspan><tspan x="241.92" y="477.60">0.9</tspan><tspan x="241.92" y="481.64">0.0</tspan></text>
<text class="l"><tspan x="256.33" y="473.55">0.1</tspan><tspan x="256.33" y="477.60">0.9</tspan><tspan x="256.33" y="481.64">0.1</tspan></text>
<text class="l"><tspan x="270.74" y="473.55">0.1</tspan><tspan x="270.74" y="477.60">0.9</tspan><tspan x="270.74" y="481.64">0.1</tspan></text>
<text class="l"><tspan x="285.15" y="473.55">0.1</tspan><tspan x="285.15" y="477.60">1.0</tspan><tspan x="285.15" y="481.64">0.0</tspan></text>
<text class="l"><tspan x="299.55" y="473.55">0.1</tspan><tspan x="299.55" y="477.60">1.0</tspan><tspan x="299.55" y="481.64">0.1</tspan></text>
<text class="l"><tspan x="313.96" y="473.55">0.1</tspan><tspan x="313.96" y="477.60">1.0</tspan><tspan x="313.96" y="481.64">0.1</tspan></text>
<text class="l"><tspan x="328.37" y="473.55">0.1</tspan><tspan x="328.37" y="477.60">0.9</tspan><tspan x="328.37" y="481.64">0.0</tspan></text>
<text class="l"><tspan x="342.77" y="473.55">0.1</tspan><tspan x="342.77" y="477.60">0.9</tspan><tspan x="342.77" y="481.64">0.1</tspan></text>
<text class="l"><tspan x="357.18" y="473.55">0.1</tspan><tspan x="357.18" y="477.60">0.9</tspan><tspan x="357.18" y="481.64">0.1</tspan></text>
<text class="l"><tspan x="371.59" y="473.55">0.1</tspan><tspan x="371.59" y="477.60">1.0</tspan><tspan x="371.59" y="481.64">0.0</tspan></text>
<text class="l"><tspan x="385.99" y="473.55">0.1</tspan><tspan x="385.99" y="477.60">1.0</tspan><tspan x="385.99" y="481.64">0.1</tspan></text>
<text class="l"><tspan x="400.40" y="473.55">0.1</tspan><tspan x="400.40" y="477.60">1.0</tspan><tspan x="400.40" y="481.64">0.1</tspan></text>
<text class="l"><tspan x="414.81" y="473.55">0.1</tspan><tspan x="414.81" y="477.60">0.9</tspan><tspan x="414.81" y="481.64">0.0</tspan></text>
<text class="l"><tspan x="429.22" y="473.55">0.1</tspan><tspan x="429.22" y="477.60">0.9</tspan><tspan x="429.22" y="481.64">0.1</tspan></text>
<text class="l"><tspan x="443.62" y="473.55">0.1</tspan><tspan x="443.62" y="477.60">0.9</tspan><tspan x="443.62" y="481.64">0.1</tspan></text>
<text class="l"><tspan x="458.03" y="473.55">0.1</tspan><tspan x="458.03" y="477.60">1.0</tspan><tspan x="458.03" y="481.64">0.0</tspan></text>
<text class="l"><tspan x="472.44" y="473.55">0.1</tspan><tspan x="472.44" y="477.60">1.0</tspan><tspan x="472.44" y="481.64">0.1</tspan></text>
<text class="l"><tspan x="40.23" y="485.68">0.1</tspan><tspan x="40.23" y="489.73">1.0</tspan><tspan x="40.23" y="493.77">0.1</tspan></text>
<text class="l"><tspan x="54.63" y="485.68">0.1</tspan><tspan x="54.63" y="489.73">1.0</tspan><tspan x="54.63" y="493.77">0.0</tspan></text>
<text class="l"><tspan x="69.04" y="485.68">0.1</tspan><tspan x="69.04" y="489.73">1.0</tspan><tspan x="69.04" y="493.77">0.1</tspan></text>
<text class="l"><tspan x="83.45" y="485.68">0.1</tspan><tspan x="83.45" y="489.73">0.9</tspan><tspan x="83.45" y="493.77">0.1</tspan></text>
<text class="l"><tspan x="97.85" y="485.68">0.1</tspan><tspan x="97.85" y="489.73">0.9</tspan><tspan x="97.85" y="493.77">0.0</tspan></text>
<text class="l"><tspan x="112.26" y="485.68">0.1</tspan><tspan x="112.26" y="489.73">0.9</tspan><tspan x="112.26" y="493.77">0.1</tspan></text>
<text class="l"><tspan x="126.67" y="485.68">0.1</tspan><tspan x="126.67" y="489.73">1.0</tspan><tspan x="126.67" y="493.77">0.1</tspan></text>
<text class="l"><tspan x="141.08" y="485.68">0.1</tspan><tspan x="141.08" y="489.73">1.0</tspan><tspan x="141.08" y="493.77">0.0</tspan></text>
<text class="l"><tspan x="155.48" y="485.68">0.1</tspan><tspan x="155.48" y="489.73">1.0</tspan><tspan x="155.48" y="493.77">0.1</tspan></text>
<text class="l"><tspan x="169.89" y="485.68">0.1</tspan><tspan x="169.89" y="489.73">0.9</tspan><tspan x="169.89" y="493.77">0.1</tspan></text>
<text class="l"><tspan x="184.30" y="485.68">0.1</tspan><tspan x="184.30" y="489.73">0.9</tspan><tspan x="184.30" y="493.77">0.0</tspan></text>
<text class="l"><tspan x="198.70" y="485.68">0.1</tspan><tspan x="198.70" y="489.73">0.9</tspan><tspan x="198.70" y="493.77">0.1</tspan></text>
<text class="l"><tspan x="213.11" y="485.68">0.1</tspan><tspan x="213.11" y="489.73">1.0</tspan><tspan x="213.11" y="493.77">0.1</tspan></text>
<text class="l"><tspan x="227.52" y="485.68">0.1</tspan><tspan x="227.52" y="489.73">1.0</tspan><tspan x="227.52" y="493.77">0.0</tspan></text>
<text class="l"><tspan x="241.92" y="485.68">0.1</tspan><tspan x="241.92" y="489.73">1.0</tspan><tspan x="241.92" y="493.77">0.1</tspan></text>
<text class="l"><tspan x="256.33" y="485.68">0.1</tspan><tspan x="256.33" y="489.73">0.9</tspan><tspan x="256.33" y="493.77">0.1</tspan></text>
<text class="l"><tspan x="270.74" y="485.68">0.1</tspan><tspan x="270.74" y="489.73">0.9</tspan><tspan x="270.74" y="493.77">0.0</tspan></text>
<text class="l"><tspan x="285.15" y="485.68">0.1</tspan><tspan x="285.15" y="489.73">0.9</tspan><tspan x="285.15" y="493.77">0.1</tspan></text>
<text class="l"><tspan x="299.55" y="485.68">0.1</tspan><tspan x="299.55" y="489.73">1.0</tspan><tspan x="299.55" y="493.77">0.1</tspan></text>
<text class="l"><tspan x="313.96" y="485.68">0.1</tspan><tspan x="313.96" y="489.73">1.0</tspan><tspan x="313.96" y="493.77">0.0</tspan></text>
<text class="l"><tspan x="328.37" y="485.68">0.1</tspan><tspan x="328.37" y="489.73">1.0</tspan><tspan x="328.37" y="493.77">0.1</tspan></text>
<text class="l"><tspan x="342.77" y="485.68">0.1</tspan><tspan x="342.77" y="489.73">0.9</tspan><tspan x="342.77" y="493.77">0.1</tspan></text>
<text class="l"><tspan x="357.18" y="485.68">0.1</tspan><tspan x="357.18" y="489.73">0.9</tspan><tspan x="357.18" y="493.77">0.0</tspan></text>
<text class="l"><tspan x="371.59" y="485.68">0.1</tspan><tspan x="371.59" y="489.73">0.9</tspan><tspan x="371.59" y="493.77">0.1</tspan></text>
<text class="l"><tspan x="385.99" y="485.68">0.1</tspan><tspan x="385.99" y="489.73">1.0</tspan><tspan x="385.99" y="493.77">0.1</tspan></text>
<text class="l"><tspan x="400.40" y="485.68">0.1</tspan><tspan x="400.40" y="489.73">1.0</tspan><tspan x="400.40" y="493.77">0.0</tspan></text>
<text class="l"><tspan x="414.81" y="485.68">0.1</tspan><tspan x="414.81" y="489.73">1.0</tspan><tspan x="414.81" y="493.77">0.1</tspan></text>
<text class="l"><tspan x="429.22" y="485.68">0.1</tspan><tspan x="429.22" y="489.73">0.9</tspan><tspan x="429.22" y="493.77">0.1</tspan></text>
<text class="l"><tspan x="443.62" y="485.68">0.1</tspan><tspan x="443.62" y="489.73">0.9</tspan><tspan x="443.62" y="493.77">0.0</tspan></text>
<text class="l"><tspan x="458.03" y="485.68">0.1</tspan><tspan x="458.03" y="489.73">0.9</tspan><tspan x="458.03" y="493.77">0.1</tspan></text>
<text class="l"><tspan x="472.44" y="485.68">0.1</tspan><tspan x="472.44" y="489.73">1.0</tspan><tspan x="472.44" y="493.77">0.1</tspan></text>
<text class="l"><tspan x="486.84" y="485.68">0.1</tspan><tspan x="486.84" y="489.73">1.0</tspan><tspan x="486.84" y="493.77">0.0</tspan></text>
</g>
<g>
<text class="rl" transform="translate(438.8,102.77) scale(1.012,1)">P–TIM40</text>
<text class="rl" transform="translate(438.8,114.90) scale(1.012,1)" style="font-weight:bold">S–SZBM1</text>
<text class="rl" transform="translate(438.8,127.03) scale(1.012,1)">S–WAM1</text>
<text class="rl" transform="translate(438.8,139.16) scale(1.012,1)">ACG–2014d</text>
<text class="rl" transform="translate(438.8,151.28) scale(1.012,1)">S–SSM4</text>
<text class="rl" transform="translate(438.8,163.42) scale(1.012,1)">S–ShM2</text>
<text class="rl" transform="translate(438.8,175.55) scale(1.012,1)">P–SSM4</text>
<text class="rl" transform="translate(438.8,187.68) scale(1.012,1)">Syn19</text>
<text class="rl" transform="translate(438.8,199.81) scale(1.012,1)">metaG–MbCM1</text>
<text class="rl" transform="translate(438.8,211.94) scale(1.012,1)">S–SM1</text>
<text class="rl" transform="translate(438.8,224.06) scale(1.012,1)">S–SSM5</text>
<text class="rl" transform="translate(438.8,236.19) scale(1.012,1)">P–RSM4</text>
<text class="rl" transform="translate(438.8,248.32) scale(1.012,1)">S–TIM4</text>
<text class="rl" transform="translate(438.8,260.46) scale(1.012,1)">ACG–2014c</text>
<text class="rl" transform="translate(438.8,272.59) scale(1.012,1)">Syn9</text>
<text class="rl" transform="translate(438.8,284.72) scale(1.012,1)">S–IOM18</text>
<text class="rl" transform="translate(438.8,296.85) scale(1.012,1)">S–RIM8</text>
<text class="rl" transform="translate(438.8,308.98) scale(1.012,1)">S–RIM8_A.HR1</text>
<text class="rl" transform="translate(438.8,321.11) scale(1.012,1)">ACG–2014b</text>
<text class="rl" transform="translate(438.8,333.24) scale(1.012,1)">ACG–2014g</text>
<text class="rl" transform="translate(438.8,345.37) scale(1.012,1)">S–RIM50</text>
<text class="rl" transform="translate(438.8,357.50) scale(1.012,1)">P–SSM7</text>
<text class="rl" transform="translate(438.8,369.62) scale(1.012,1)">S–CAM22</text>
<text class="rl" transform="translate(438.8,381.75) scale(1.012,1)">S–MbCM100</text>
<text class="rl" transform="translate(438.8,393.88) scale(1.012,1)">S–CAM8</text>
<text class="rl" transform="translate(438.8,406.01) scale(1.012,1)">S–RIM2</text>
<text class="rl" transform="translate(438.8,418.14) scale(1.012,1)">S–RIM12</text>
<text class="rl" transform="translate(438.8,430.28) scale(1.012,1)">Syn33</text>
<text class="rl" transform="translate(438.8,442.41) scale(1.012,1)">P–RSM1</text>
<text class="rl" transform="translate(438.8,454.54) scale(1.012,1)">S–P4</text>
<text class="rl" transform="translate(438.8,466.67) scale(1.012,1)">Syn30</text>
<text class="rl" transform="translate(438.8,478.80) scale(1.012,1)">P–RSM6</text>
<text class="rl" transform="translate(438.8,490.93) scale(1.012,1)">P–SSM3</text>
<text class="rl" transform="translate(37.30,497.9) scale(1.03,1) rotate(-90)" style="text-anchor:end">P–TIM40</text>
<text class="rl" transform="translate(49.69,497.9) scale(1.03,1) rotate(-90)" style="font-weight:bold;text-anchor:end">S–SZBM1</text>
<text class="rl" transform="translate(62.08,497.9) scale(1.03,1) rotate(-90)" style="text-anchor:end">S–WAM1</text>
<text class="rl" transform="translate(74.47,497.9) scale(1.03,1) rotate(-90)" style="text-anchor:end">ACG–2014d</text>
<text class="rl" transform="translate(86.86,497.9) scale(1.03,1) rotate(-90)" style="text-anchor:end">S–SSM4</text>
<text class="rl" transform="translate(99.25,497.9) scale(1.03,1) rotate(-90)" style="text-anchor:end">S–ShM2</text>
<text class="rl" transform="translate(111.64,497.9) scale(1.03,1) rotate(-90)" style="text-anchor:end">P–SSM4</text>
<text class="rl" transform="translate(124.03,497.9) scale(1.03,1) rotate(-90)" style="text-anchor:end">Syn19</text>
<text class="rl" transform="translate(136.41,497.9) scale(1.03,1) rotate(-90)" style="text-anchor:end">metaG–MbCM1</text>
<text class="rl" transform="translate(148.81,497.9) scale(1.03,1) rotate(-90)" style="text-anchor:end">S–SM1</text>
<text class="rl" transform="translate(161.19,497.9) scale(1.03,1) rotate(-90)" style="text-anchor:end">S–SSM5</text>
<text class="rl" transform="translate(173.59,497.9) scale(1.03,1) rotate(-90)" style="text-anchor:end">P–RSM4</text>
<text class="rl" transform="translate(185.97,497.9) scale(1.03,1) rotate(-90)" style="text-anchor:end">S–TIM4</text>
<text class="rl" transform="translate(198.37,497.9) scale(1.03,1) rotate(-90)" style="text-anchor:end">ACG–2014c</text>
<text class="rl" transform="translate(210.75,497.9) scale(1.03,1) rotate(-90)" style="text-anchor:end">Syn9</text>
<text class="rl" transform="translate(223.15,497.9) scale(1.03,1) rotate(-90)" style="text-anchor:end">S–IOM18</text>
<text class="rl" transform="translate(235.53,497.9) scale(1.03,1) rotate(-90)" style="text-anchor:end">S–RIM8</text>
<text class="rl" transform="translate(247.93,497.9) scale(1.03,1) rotate(-90)" style="text-anchor:end">S–RIM8_A.HR1</text>
<text class="rl" transform="translate(260.31,497.9) scale(1.03,1) rotate(-90)" style="text-anchor:end">ACG–2014b</text>
<text class="rl" transform="translate(272.70,497.9) scale(1.03,1) rotate(-90)" style="text-anchor:end">ACG–2014g</text>
<text class="rl" transform="translate(285.09,497.9) scale(1.03,1) rotate(-90)" style="text-anchor:end">S–RIM50</text>
<text class="rl" transform="translate(297.48,497.9) scale(1.03,1) rotate(-90)" style="text-anchor:end">P–SSM7</text>
<text class="rl" transform="translate(309.88,497.9) scale(1.03,1) rotate(-90)" style="text-anchor:end">S–CAM22</text>
<text class="rl" transform="translate(322.26,497.9) scale(1.03,1) rotate(-90)" style="text-anchor:end">S–MbCM100</text>
<text class="rl" transform="translate(334.65,497.9) scale(1.03,1) rotate(-90)" style="text-anchor:end">S–CAM8</text>
<text class="rl" transform="translate(347.04,497.9) scale(1.03,1) rotate(-90)" style="text-anchor:end">S–RIM2</text>
<text class="rl" transform="translate(359.44,497.9) scale(1.03,1) rotate(-90)" style="text-anchor:end">S–RIM12</text>
<text class="rl" transform="translate(371.82,497.9) scale(1.03,1) rotate(-90)" style="text-anchor:end">Syn33</text>
<text class="rl" transform="translate(384.21,497.9) scale(1.03,1) rotate(-90)" style="text-anchor:end">P–RSM1</text>
<text class="rl" transform="translate(396.60,497.9) scale(1.03,1) rotate(-90)" style="text-anchor:end">S–P4</text>
<text class="rl" transform="translate(409.00,497.9) scale(1.03,1) rotate(-90)" style="text-anchor:end">Syn30</text>
<text class="rl" transform="translate(421.38,497.9) scale(1.03,1) rotate(-90)" style="text-anchor:end">P–RSM6</text>
<text class="rl" transform="translate(433.77,497.9) scale(1.03,1) rotate(-90)" style="text-anchor:end">P–SSM3</text>
</g>
</svg></body></html>
